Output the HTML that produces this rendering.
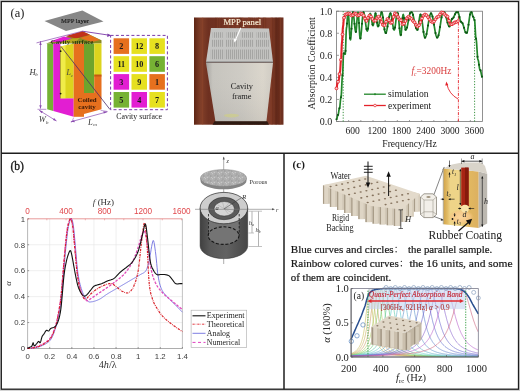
<!DOCTYPE html>
<html><head><meta charset="utf-8"><title>Figure</title>
<style>html,body{margin:0;padding:0;background:#fff;}body{width:520px;height:391px;overflow:hidden;}svg{display:block;}</style>
</head><body>
<svg width="520" height="391" viewBox="0 0 520 391"><rect x="0" y="0" width="520" height="391" fill="#d4d4d4"/>
<rect x="1.3" y="1.5" width="517.2" height="387.7" fill="#fff" stroke="#1e1e1e" stroke-width="1.3"/>
<line x1="1.3" y1="153.3" x2="518.5" y2="153.3" stroke="#1e1e1e" stroke-width="1.4" />
<line x1="284" y1="153.3" x2="284" y2="389.2" stroke="#1e1e1e" stroke-width="1.5" />
<text x="10.6" y="16.6" font-size="12.4" fill="#1a1a1a" text-anchor="start" font-family="'Liberation Serif','Noto Serif CJK SC',serif" >(a)</text>
<polygon points="44.50,20.90 82.40,10.40 103.50,21.60 66.00,31.10" fill="#878787" stroke="none" stroke-width="0" />
<text x="75" y="23" font-size="6.6" fill="#1a1a1a" text-anchor="middle" font-family="'Liberation Serif','Noto Serif CJK SC',serif" stroke="#1a1a1a" stroke-width="0.15">MPP layer</text>
<polygon points="46.00,43.50 82.40,31.20 101.50,40.20 101.50,43.50" fill="#8a8a22" stroke="none" stroke-width="0" />
<polygon points="50.00,41.50 64.00,36.60 72.00,38.50 60.00,42.50" fill="#e21ed2" stroke="none" stroke-width="0" />
<polygon points="66.00,36.00 82.40,31.20 90.00,34.80 76.00,38.50" fill="#c2301a" stroke="none" stroke-width="0" />
<polygon points="80.00,38.00 90.00,35.00 100.00,40.00 92.00,42.00" fill="#e6701e" stroke="none" stroke-width="0" />
<polygon points="60.00,42.50 72.00,38.50 80.00,38.00 74.00,43.00" fill="#b8a820" stroke="none" stroke-width="0" />
<polygon points="47.20,43.50 53.30,43.50 53.30,111.00 47.20,109.30" fill="#76b234" stroke="none" stroke-width="0" />
<polygon points="53.30,43.50 60.40,43.50 60.40,98.30 73.70,98.30 73.70,116.80 53.30,111.00" fill="#e21ed2" stroke="none" stroke-width="0" />
<polygon points="60.40,46.50 73.70,43.50 73.70,98.30 60.40,98.30" fill="#dcd41e" stroke="none" stroke-width="0" />
<polygon points="60.40,46.50 65.50,45.40 65.50,98.30 60.40,98.30" fill="#f0ec48" stroke="none" stroke-width="0" />
<polygon points="73.70,43.50 84.00,43.50 84.00,116.80 73.70,116.80" fill="#e6701e" stroke="none" stroke-width="0" />
<polygon points="84.00,43.50 94.20,43.50 94.20,93.00 84.00,93.00" fill="#6ea42c" stroke="none" stroke-width="0" />
<polygon points="94.20,43.50 101.50,43.50 101.50,75.50 94.20,75.50" fill="#dcd41e" stroke="none" stroke-width="0" />
<polygon points="84.00,93.00 94.20,93.00 94.20,75.50 101.50,75.50 101.50,109.30 84.00,114.00" fill="#e6701e" stroke="none" stroke-width="0" />
<polygon points="94.20,74.50 101.50,74.50 101.50,76.50 94.20,76.50" fill="#c45a10" stroke="none" stroke-width="0" />
<line x1="60.4" y1="46.5" x2="60.4" y2="98.3" stroke="#6a5a10" stroke-width="0.5" />
<text x="72" y="44.3" font-size="6.9" fill="#142a08" text-anchor="middle" font-family="'Liberation Serif','Noto Serif CJK SC',serif" font-weight="bold" opacity="0.85">Cavity surface</text>
<text x="87" y="102.4" font-size="6.9" fill="#3a1a08" text-anchor="middle" font-family="'Liberation Serif','Noto Serif CJK SC',serif" font-weight="bold">Coiled</text>
<text x="87" y="109.4" font-size="6.9" fill="#3a1a08" text-anchor="middle" font-family="'Liberation Serif','Noto Serif CJK SC',serif" font-weight="bold">cavity</text>
<circle cx="60.6" cy="51.2" r="0.9" fill="#111"/><circle cx="60.6" cy="93.6" r="0.9" fill="#111"/>
<text x="66.4" y="75.4" font-size="7.8" fill="#444" text-anchor="start" font-family="'Liberation Serif','Noto Serif CJK SC',serif" font-style="italic">L</text>
<text x="70.8" y="76.8" font-size="4.6" fill="#444" font-family="'Liberation Serif','Noto Serif CJK SC',serif" font-style="italic">c</text>
<line x1="82.4" y1="31.2" x2="110.5" y2="35.4" stroke="#7a3aa8" stroke-width="0.9" />
<polygon points="110.80,35.50 107.50,33.60 107.20,37.00" fill="#7a3aa8" stroke="none" stroke-width="0" />
<line x1="61" y1="46.5" x2="110" y2="109.5" stroke="#4a2a6a" stroke-width="0.8" />
<line x1="40.5" y1="41" x2="40.5" y2="108.5" stroke="#8a4ab0" stroke-width="0.7" />
<line x1="36.5" y1="42.9" x2="82.4" y2="31.2" stroke="#8a4ab0" stroke-width="0.7" />
<polygon points="40.50,41.50 39.30,45.00 41.70,45.00" fill="#8a4ab0" stroke="none" stroke-width="0" />
<polygon points="40.50,108.80 39.30,105.30 41.70,105.30" fill="#8a4ab0" stroke="none" stroke-width="0" />
<text x="29.4" y="74.6" font-size="8.5" fill="#333" text-anchor="start" font-family="'Liberation Serif','Noto Serif CJK SC',serif" font-style="italic">H</text>
<text x="35.3" y="76.2" font-size="5" fill="#333" font-family="'Liberation Serif','Noto Serif CJK SC',serif" font-style="italic">b</text>
<line x1="37.5" y1="109.3" x2="46.3" y2="109.3" stroke="#8a4ab0" stroke-width="0.6" />
<line x1="39.2" y1="110.3" x2="56.5" y2="121" stroke="#8a4ab0" stroke-width="0.7" />
<polygon points="39.20,110.30 42.80,111.20 41.60,113.20" fill="#8a4ab0" stroke="none" stroke-width="0" />
<polygon points="56.50,121.00 52.90,120.10 54.10,118.10" fill="#8a4ab0" stroke="none" stroke-width="0" />
<text x="38.8" y="122.3" font-size="8.5" fill="#333" text-anchor="start" font-family="'Liberation Serif','Noto Serif CJK SC',serif" font-style="italic">W</text>
<text x="46" y="123.8" font-size="5" fill="#333" font-family="'Liberation Serif','Noto Serif CJK SC',serif" font-style="italic">b</text>
<line x1="70.8" y1="121.8" x2="107.3" y2="111.8" stroke="#8a4ab0" stroke-width="0.7" />
<polygon points="70.80,121.80 74.20,120.10 74.80,122.30" fill="#8a4ab0" stroke="none" stroke-width="0" />
<polygon points="107.30,111.80 103.90,113.50 103.30,111.30" fill="#8a4ab0" stroke="none" stroke-width="0" />
<line x1="73.7" y1="117.6" x2="71.5" y2="122.5" stroke="#8a4ab0" stroke-width="0.5" />
<line x1="100.6" y1="110.3" x2="107.5" y2="111.5" stroke="#8a4ab0" stroke-width="0.5" />
<text x="88" y="124.8" font-size="8.5" fill="#333" text-anchor="start" font-family="'Liberation Serif','Noto Serif CJK SC',serif" font-style="italic">L</text>
<text x="93.2" y="126.3" font-size="5" fill="#333" font-family="'Liberation Serif','Noto Serif CJK SC',serif" font-style="italic">m</text>
<rect x="110.6" y="35.4" width="56.8" height="74.3" fill="none" stroke="#7a3aa8" stroke-width="1" stroke-dasharray="3,2.2"/>
<rect x="113.6" y="38.3" width="15.5" height="15.6" fill="#e6701e"/>
<text x="121.35" y="48.9" font-size="8.2" fill="#1a1a1a" text-anchor="middle" font-family="'Liberation Serif','Noto Serif CJK SC',serif" font-weight="bold">2</text>
<rect x="131.5" y="38.3" width="15.5" height="15.6" fill="#e6e020"/>
<text x="139.25" y="48.9" font-size="8.2" fill="#1a1a1a" text-anchor="middle" font-family="'Liberation Serif','Noto Serif CJK SC',serif" font-weight="bold">12</text>
<rect x="149.4" y="38.3" width="15.5" height="15.6" fill="#e6e020"/>
<text x="157.15" y="48.9" font-size="8.2" fill="#1a1a1a" text-anchor="middle" font-family="'Liberation Serif','Noto Serif CJK SC',serif" font-weight="bold">8</text>
<rect x="113.6" y="56.2" width="15.5" height="15.6" fill="#e6e020"/>
<text x="121.35" y="66.8" font-size="8.2" fill="#1a1a1a" text-anchor="middle" font-family="'Liberation Serif','Noto Serif CJK SC',serif" font-weight="bold">11</text>
<rect x="131.5" y="56.2" width="15.5" height="15.6" fill="#e6e020"/>
<text x="139.25" y="66.8" font-size="8.2" fill="#1a1a1a" text-anchor="middle" font-family="'Liberation Serif','Noto Serif CJK SC',serif" font-weight="bold">10</text>
<rect x="149.4" y="56.2" width="15.5" height="15.6" fill="#76b234"/>
<text x="157.15" y="66.8" font-size="8.2" fill="#1a1a1a" text-anchor="middle" font-family="'Liberation Serif','Noto Serif CJK SC',serif" font-weight="bold">6</text>
<rect x="113.6" y="74.1" width="15.5" height="15.6" fill="#e21ed2"/>
<text x="121.35" y="84.69999999999999" font-size="8.2" fill="#1a1a1a" text-anchor="middle" font-family="'Liberation Serif','Noto Serif CJK SC',serif" font-weight="bold">3</text>
<rect x="131.5" y="74.1" width="15.5" height="15.6" fill="#e6e020"/>
<text x="139.25" y="84.69999999999999" font-size="8.2" fill="#1a1a1a" text-anchor="middle" font-family="'Liberation Serif','Noto Serif CJK SC',serif" font-weight="bold">9</text>
<rect x="149.4" y="74.1" width="15.5" height="15.6" fill="#e6701e"/>
<text x="157.15" y="84.69999999999999" font-size="8.2" fill="#1a1a1a" text-anchor="middle" font-family="'Liberation Serif','Noto Serif CJK SC',serif" font-weight="bold">1</text>
<rect x="113.6" y="92.0" width="15.5" height="15.6" fill="#76b234"/>
<text x="121.35" y="102.6" font-size="8.2" fill="#1a1a1a" text-anchor="middle" font-family="'Liberation Serif','Noto Serif CJK SC',serif" font-weight="bold">5</text>
<rect x="131.5" y="92.0" width="15.5" height="15.6" fill="#e21ed2"/>
<text x="139.25" y="102.6" font-size="8.2" fill="#1a1a1a" text-anchor="middle" font-family="'Liberation Serif','Noto Serif CJK SC',serif" font-weight="bold">4</text>
<rect x="149.4" y="92.0" width="15.5" height="15.6" fill="#e6e020"/>
<text x="157.15" y="102.6" font-size="8.2" fill="#1a1a1a" text-anchor="middle" font-family="'Liberation Serif','Noto Serif CJK SC',serif" font-weight="bold">7</text>
<text x="139.1" y="119" font-size="7.9" fill="#1a1a1a" text-anchor="middle" font-family="'Liberation Serif','Noto Serif CJK SC',serif" >Cavity surface</text>
<defs>
<linearGradient id="wood" x1="0" y1="0" x2="1" y2="0">
<stop offset="0" stop-color="#5e2616"/><stop offset="0.08" stop-color="#82402a"/><stop offset="0.16" stop-color="#6e3020"/><stop offset="0.5" stop-color="#763626"/><stop offset="0.85" stop-color="#7e3c2a"/><stop offset="0.93" stop-color="#642a1c"/><stop offset="1" stop-color="#703424"/></linearGradient>
<linearGradient id="front" x1="0" y1="0" x2="1" y2="0">
<stop offset="0" stop-color="#a6a4a0"/><stop offset="0.1" stop-color="#c6c4be"/><stop offset="0.55" stop-color="#cfccc5"/><stop offset="0.85" stop-color="#dbd6cc"/><stop offset="1" stop-color="#cfcbc3"/></linearGradient>
<linearGradient id="frontv" x1="0" y1="0" x2="0" y2="1">
<stop offset="0" stop-color="#fff" stop-opacity="0"/><stop offset="1" stop-color="#000" stop-opacity="0.06"/></linearGradient>
<pattern id="perf" x="0" y="0" width="2" height="20" patternUnits="userSpaceOnUse"><rect width="2" height="20" fill="#c2c2c0"/><rect x="0" y="0" width="1" height="20" fill="#a2a2a0"/></pattern>
</defs>
<rect x="194" y="17.5" width="89.5" height="107.2" fill="url(#wood)"/>
<rect x="215.3" y="17.5" width="1.1" height="107.2" fill="#6a2a18" opacity="0.35"/>
<rect x="276.0" y="17.5" width="1.0" height="107.2" fill="#5e2414" opacity="0.35"/>
<rect x="248.2" y="17.5" width="1.5" height="107.2" fill="#944a2c" opacity="0.35"/>
<rect x="217.2" y="17.5" width="0.7" height="107.2" fill="#944a2c" opacity="0.35"/>
<rect x="242.4" y="17.5" width="1.1" height="107.2" fill="#944a2c" opacity="0.35"/>
<rect x="251.2" y="17.5" width="0.6" height="107.2" fill="#8e4428" opacity="0.35"/>
<rect x="271.7" y="17.5" width="1.0" height="107.2" fill="#5e2414" opacity="0.35"/>
<rect x="254.1" y="17.5" width="0.5" height="107.2" fill="#5e2414" opacity="0.35"/>
<rect x="221.0" y="17.5" width="0.4" height="107.2" fill="#6a2a18" opacity="0.35"/>
<rect x="236.3" y="17.5" width="1.3" height="107.2" fill="#944a2c" opacity="0.35"/>
<rect x="257.9" y="17.5" width="1.5" height="107.2" fill="#944a2c" opacity="0.35"/>
<rect x="259.2" y="17.5" width="1.1" height="107.2" fill="#8e4428" opacity="0.35"/>
<rect x="272.7" y="17.5" width="0.5" height="107.2" fill="#8e4428" opacity="0.35"/>
<rect x="238.3" y="17.5" width="0.7" height="107.2" fill="#944a2c" opacity="0.35"/>
<rect x="263.7" y="17.5" width="1.4" height="107.2" fill="#944a2c" opacity="0.35"/>
<rect x="239.4" y="17.5" width="0.9" height="107.2" fill="#6a2a18" opacity="0.35"/>
<rect x="241.8" y="17.5" width="0.9" height="107.2" fill="#8e4428" opacity="0.35"/>
<rect x="274.9" y="17.5" width="1.2" height="107.2" fill="#5e2414" opacity="0.35"/>
<rect x="270.6" y="17.5" width="1.6" height="107.2" fill="#8e4428" opacity="0.35"/>
<rect x="256.5" y="17.5" width="0.8" height="107.2" fill="#5e2414" opacity="0.35"/>
<rect x="257.9" y="17.5" width="0.7" height="107.2" fill="#6a2a18" opacity="0.35"/>
<rect x="219.5" y="17.5" width="0.5" height="107.2" fill="#944a2c" opacity="0.35"/>
<rect x="201.9" y="17.5" width="1.4" height="107.2" fill="#944a2c" opacity="0.35"/>
<rect x="274.3" y="17.5" width="0.4" height="107.2" fill="#944a2c" opacity="0.35"/>
<rect x="262.8" y="17.5" width="1.4" height="107.2" fill="#5e2414" opacity="0.35"/>
<rect x="248.1" y="17.5" width="1.3" height="107.2" fill="#944a2c" opacity="0.35"/>
<rect x="258.3" y="17.5" width="0.8" height="107.2" fill="#6a2a18" opacity="0.35"/>
<rect x="239.2" y="17.5" width="1.6" height="107.2" fill="#6a2a18" opacity="0.35"/>
<rect x="194.6" y="17.5" width="0.5" height="107.2" fill="#5e2414" opacity="0.35"/>
<rect x="278.9" y="17.5" width="1.6" height="107.2" fill="#6a2a18" opacity="0.35"/>
<rect x="248.6" y="17.5" width="0.6" height="107.2" fill="#5e2414" opacity="0.35"/>
<rect x="281.7" y="17.5" width="0.8" height="107.2" fill="#6a2a18" opacity="0.35"/>
<rect x="279.8" y="17.5" width="1.5" height="107.2" fill="#944a2c" opacity="0.35"/>
<rect x="227.7" y="17.5" width="1.4" height="107.2" fill="#944a2c" opacity="0.35"/>
<rect x="251.6" y="17.5" width="1.1" height="107.2" fill="#5e2414" opacity="0.35"/>
<rect x="249.5" y="17.5" width="1.5" height="107.2" fill="#6a2a18" opacity="0.35"/>
<rect x="232.6" y="17.5" width="1.3" height="107.2" fill="#8e4428" opacity="0.35"/>
<rect x="277.8" y="17.5" width="0.9" height="107.2" fill="#6a2a18" opacity="0.35"/>
<rect x="240.6" y="17.5" width="1.1" height="107.2" fill="#5e2414" opacity="0.35"/>
<rect x="264.6" y="17.5" width="1.6" height="107.2" fill="#6a2a18" opacity="0.35"/>
<polygon points="211.00,28.00 269.00,28.40 273.00,62.00 206.00,62.00" fill="#c4c4c2" stroke="none" stroke-width="0" />
<rect x="212.6" y="32.2" width="10.1" height="5.6" fill="url(#perf)" opacity="0.9"/>
<rect x="226.6" y="32.2" width="11.1" height="5.6" fill="url(#perf)" opacity="0.9"/>
<rect x="241.1" y="32.2" width="12.1" height="5.6" fill="url(#perf)" opacity="0.9"/>
<rect x="256.6" y="32.2" width="11.6" height="5.6" fill="url(#perf)" opacity="0.9"/>
<rect x="211.8" y="39.8" width="11.5" height="7.0" fill="url(#perf)" opacity="0.9"/>
<rect x="225.8" y="39.8" width="12.5" height="7.0" fill="url(#perf)" opacity="0.9"/>
<rect x="240.3" y="39.8" width="13.5" height="7.0" fill="url(#perf)" opacity="0.9"/>
<rect x="255.8" y="39.8" width="13.0" height="7.0" fill="url(#perf)" opacity="0.9"/>
<rect x="210.8" y="49.5" width="13.2" height="9.7" fill="url(#perf)" opacity="0.9"/>
<rect x="224.8" y="49.5" width="14.2" height="9.7" fill="url(#perf)" opacity="0.9"/>
<rect x="239.3" y="49.5" width="15.2" height="9.7" fill="url(#perf)" opacity="0.9"/>
<rect x="254.8" y="49.5" width="14.7" height="9.7" fill="url(#perf)" opacity="0.9"/>
<rect x="206" y="61.5" width="67" height="1.3" fill="#7e7e7e"/>
<polygon points="206.00,63.00 273.00,63.00 266.40,121.80 215.50,121.80" fill="url(#front)" stroke="none" stroke-width="0" />
<polygon points="206.00,63.00 273.00,63.00 266.40,121.80 215.50,121.80" fill="url(#frontv)" stroke="none" stroke-width="0" />
<polygon points="214.50,121.20 267.20,121.20 269.00,124.70 212.50,124.70" fill="#2e1a12" stroke="none" stroke-width="0" />
<ellipse cx="231.5" cy="115.6" rx="7.5" ry="1.8" fill="#d2d27a" opacity="0.55"/>
<text x="242.3" y="24.9" font-size="8.6" fill="#f6ead2" text-anchor="middle" font-family="'Liberation Serif','Noto Serif CJK SC',serif" stroke="#f6ead2" stroke-width="0.2">MPP panel</text>
<line x1="240.8" y1="27.8" x2="235.2" y2="40.5" stroke="#ffffff" stroke-width="1.1" />
<polygon points="234.50,42.50 233.60,38.60 237.00,39.60" fill="#ffffff" stroke="none" stroke-width="0" />
<text x="241.8" y="89" font-size="8.4" fill="#222" text-anchor="middle" font-family="'Liberation Serif','Noto Serif CJK SC',serif" >Cavity</text>
<text x="241.8" y="98.8" font-size="8.4" fill="#222" text-anchor="middle" font-family="'Liberation Serif','Noto Serif CJK SC',serif" >frame</text>
<rect x="336.5" y="11.2" width="146.0" height="110.3" fill="none" stroke="#777" stroke-width="0.8"/>
<line x1="336.5" y1="121.5" x2="339.0" y2="121.5" stroke="#777" stroke-width="0.7" />
<text x="332.3" y="124.9" font-size="10" fill="#222" text-anchor="end" font-family="'Liberation Serif','Noto Serif CJK SC',serif" >0.0</text>
<line x1="336.5" y1="99.44" x2="339.0" y2="99.44" stroke="#777" stroke-width="0.7" />
<text x="332.3" y="102.84" font-size="10" fill="#222" text-anchor="end" font-family="'Liberation Serif','Noto Serif CJK SC',serif" >0.2</text>
<line x1="336.5" y1="77.38" x2="339.0" y2="77.38" stroke="#777" stroke-width="0.7" />
<text x="332.3" y="80.78" font-size="10" fill="#222" text-anchor="end" font-family="'Liberation Serif','Noto Serif CJK SC',serif" >0.4</text>
<line x1="336.5" y1="55.32000000000001" x2="339.0" y2="55.32000000000001" stroke="#777" stroke-width="0.7" />
<text x="332.3" y="58.720000000000006" font-size="10" fill="#222" text-anchor="end" font-family="'Liberation Serif','Noto Serif CJK SC',serif" >0.6</text>
<line x1="336.5" y1="33.25999999999999" x2="339.0" y2="33.25999999999999" stroke="#777" stroke-width="0.7" />
<text x="332.3" y="36.65999999999999" font-size="10" fill="#222" text-anchor="end" font-family="'Liberation Serif','Noto Serif CJK SC',serif" >0.8</text>
<line x1="336.5" y1="11.200000000000003" x2="339.0" y2="11.200000000000003" stroke="#777" stroke-width="0.7" />
<text x="332.3" y="14.600000000000003" font-size="10" fill="#222" text-anchor="end" font-family="'Liberation Serif','Noto Serif CJK SC',serif" >1.0</text>
<line x1="348.6666666666667" y1="121.5" x2="348.6666666666667" y2="120.0" stroke="#777" stroke-width="0.7" />
<line x1="360.8333333333333" y1="121.5" x2="360.8333333333333" y2="120.0" stroke="#777" stroke-width="0.7" />
<line x1="373.0" y1="121.5" x2="373.0" y2="120.0" stroke="#777" stroke-width="0.7" />
<line x1="385.1666666666667" y1="121.5" x2="385.1666666666667" y2="120.0" stroke="#777" stroke-width="0.7" />
<line x1="397.3333333333333" y1="121.5" x2="397.3333333333333" y2="120.0" stroke="#777" stroke-width="0.7" />
<line x1="409.5" y1="121.5" x2="409.5" y2="120.0" stroke="#777" stroke-width="0.7" />
<line x1="421.6666666666667" y1="121.5" x2="421.6666666666667" y2="120.0" stroke="#777" stroke-width="0.7" />
<line x1="433.8333333333333" y1="121.5" x2="433.8333333333333" y2="120.0" stroke="#777" stroke-width="0.7" />
<line x1="446.0" y1="121.5" x2="446.0" y2="120.0" stroke="#777" stroke-width="0.7" />
<line x1="458.1666666666667" y1="121.5" x2="458.1666666666667" y2="120.0" stroke="#777" stroke-width="0.7" />
<line x1="470.33333333333337" y1="121.5" x2="470.33333333333337" y2="120.0" stroke="#777" stroke-width="0.7" />
<text x="352.72222222222223" y="134.4" font-size="9.6" fill="#222" text-anchor="middle" font-family="'Liberation Serif','Noto Serif CJK SC',serif" >600</text>
<text x="377.05555555555554" y="134.4" font-size="9.6" fill="#222" text-anchor="middle" font-family="'Liberation Serif','Noto Serif CJK SC',serif" >1200</text>
<text x="401.3888888888889" y="134.4" font-size="9.6" fill="#222" text-anchor="middle" font-family="'Liberation Serif','Noto Serif CJK SC',serif" >1800</text>
<text x="425.72222222222223" y="134.4" font-size="9.6" fill="#222" text-anchor="middle" font-family="'Liberation Serif','Noto Serif CJK SC',serif" >2400</text>
<text x="450.05555555555554" y="134.4" font-size="9.6" fill="#222" text-anchor="middle" font-family="'Liberation Serif','Noto Serif CJK SC',serif" >3000</text>
<text x="474.3888888888889" y="134.4" font-size="9.6" fill="#222" text-anchor="middle" font-family="'Liberation Serif','Noto Serif CJK SC',serif" >3600</text>
<text x="409.5" y="147.3" font-size="9.6" fill="#222" text-anchor="middle" font-family="'Liberation Serif','Noto Serif CJK SC',serif" >Frequency/Hz</text>
<text transform="translate(314.6,63.3) rotate(-90)" font-size="10" fill="#222" text-anchor="middle" font-family="'Liberation Serif','Noto Serif CJK SC',serif">Absorption Coefficient</text>
<line x1="343.2" y1="121.5" x2="343.2" y2="11.2" stroke="#22862a" stroke-width="0.9" stroke-dasharray="1.2,1.6"/>
<line x1="474.6" y1="121.5" x2="474.6" y2="17.2" stroke="#22862a" stroke-width="0.9" stroke-dasharray="1.2,1.6"/>
<line x1="458.4" y1="121.5" x2="458.4" y2="11.7" stroke="#e4222a" stroke-width="0.9" stroke-dasharray="3,1.3,0.8,1.3"/>
<polyline points="336.50,119.29 336.75,119.00 337.00,118.19 337.25,117.09 337.50,115.98 337.75,115.18 338.00,114.88 338.25,114.44 338.50,113.23 338.75,111.57 339.00,109.92 339.25,108.71 339.50,108.26 339.75,107.53 340.00,105.51 340.25,102.75 340.50,99.99 340.75,97.97 341.00,97.23 341.25,95.76 341.50,91.72 341.75,86.20 342.00,80.69 342.25,76.65 342.50,75.17 342.75,72.48 343.00,65.71 343.25,58.18 343.50,53.56 343.75,53.14 344.00,53.28 344.25,53.51 344.50,53.77 344.75,54.02 345.00,54.18 345.25,54.12 345.50,50.89 345.75,44.15 346.00,36.29 346.25,30.09 346.50,27.75 346.75,26.64 347.00,23.61 347.25,19.47 347.50,15.34 347.75,12.31 348.00,12.30 348.25,12.30 348.50,14.16 348.75,17.57 349.00,21.83 349.25,26.48 349.50,31.03 349.75,34.99 350.00,37.96 350.25,39.60 350.50,39.77 350.75,38.57 351.00,36.14 351.25,32.73 351.50,28.67 351.75,24.36 352.00,20.22 352.25,16.65 352.50,14.01 352.75,12.55 353.00,12.36 353.25,13.01 353.50,14.33 353.75,16.22 354.00,18.56 354.25,21.16 354.50,23.84 354.75,26.40 355.00,28.66 355.25,30.45 355.50,31.64 355.75,32.14 356.00,31.73 356.25,30.07 356.50,27.34 356.75,23.91 357.00,20.19 357.25,16.66 357.50,13.76 357.75,12.30 358.00,12.30 358.25,12.30 358.50,14.57 358.75,18.38 359.00,23.03 359.25,27.92 359.50,32.44 359.75,36.02 360.00,38.22 360.25,38.76 360.50,38.24 360.75,37.00 361.00,35.12 361.25,32.69 361.50,29.87 361.75,26.80 362.00,23.66 362.25,20.62 362.50,17.86 362.75,15.54 363.00,13.77 363.25,12.68 363.50,12.30 363.75,12.50 364.00,13.09 364.25,14.05 364.50,15.33 364.75,16.88 365.00,18.63 365.25,20.52 365.50,22.45 365.75,24.35 366.00,26.14 366.25,27.74 366.50,29.08 366.75,30.10 367.00,30.77 367.25,31.05 367.50,30.85 367.75,30.03 368.00,28.64 368.25,26.78 368.50,24.59 368.75,22.23 369.00,19.87 369.25,17.68 369.50,15.82 369.75,14.43 370.00,13.61 370.25,13.42 370.50,13.75 370.75,14.52 371.00,15.69 371.25,17.15 371.50,18.79 371.75,20.49 372.00,22.10 372.25,23.51 372.50,24.61 372.75,25.30 373.00,25.54 373.25,25.24 373.50,24.38 373.75,23.04 374.00,21.35 374.25,19.47 374.50,17.60 374.75,15.91 375.00,14.56 375.25,13.70 375.50,13.41 375.75,13.76 376.00,14.77 376.25,16.35 376.50,18.31 376.75,20.46 377.00,22.56 377.25,24.39 377.50,25.76 377.75,26.51 378.00,26.62 378.25,26.34 378.50,25.78 378.75,24.94 379.00,23.88 379.25,22.62 379.50,21.23 379.75,19.77 380.00,18.29 380.25,16.87 380.50,15.55 380.75,14.40 381.00,13.47 381.25,12.79 381.50,12.40 381.75,12.31 382.00,12.61 382.25,13.31 382.50,14.40 382.75,15.83 383.00,17.54 383.25,19.46 383.50,21.52 383.75,23.62 384.00,25.70 384.25,27.65 384.50,29.41 384.75,30.90 385.00,32.06 385.25,32.85 385.50,33.23 385.75,33.21 386.00,32.92 386.25,32.38 386.50,31.59 386.75,30.58 387.00,29.38 387.25,28.01 387.50,26.52 387.75,24.95 388.00,23.33 388.25,21.72 388.50,20.14 388.75,18.65 389.00,17.29 389.25,16.09 389.50,15.08 389.75,14.29 390.00,13.74 390.25,13.45 390.50,13.43 390.75,13.75 391.00,14.40 391.25,15.37 391.50,16.60 391.75,18.05 392.00,19.65 392.25,21.34 392.50,23.04 392.75,24.69 393.00,26.20 393.25,27.53 393.50,28.60 393.75,29.39 394.00,29.84 394.25,29.94 394.50,29.59 394.75,28.77 395.00,27.51 395.25,25.90 395.50,24.01 395.75,21.97 396.00,19.87 396.25,17.85 396.50,16.01 396.75,14.46 397.00,13.28 397.25,12.55 397.50,12.30 397.75,12.65 398.00,13.67 398.25,15.30 398.50,17.45 398.75,19.98 399.00,22.75 399.25,25.58 399.50,28.32 399.75,30.78 400.00,32.84 400.25,34.35 400.50,35.24 400.75,35.45 401.00,34.73 401.25,33.06 401.50,30.60 401.75,27.59 402.00,24.33 402.25,21.13 402.50,18.31 402.75,16.14 403.00,14.84 403.25,14.52 403.50,15.05 403.75,16.28 404.00,18.09 404.25,20.31 404.50,22.71 404.75,25.07 405.00,27.15 405.25,28.75 405.50,29.71 405.75,29.95 406.00,29.81 406.25,29.49 406.50,28.99 406.75,28.31 407.00,27.48 407.25,26.51 407.50,25.42 407.75,24.23 408.00,22.96 408.25,21.64 408.50,20.31 408.75,18.98 409.00,17.68 409.25,16.44 409.50,15.28 409.75,14.24 410.00,13.32 410.25,12.55 410.50,12.30 410.75,12.30 411.00,12.30 411.25,12.30 411.50,12.30 411.75,12.30 412.00,12.30 412.25,12.54 412.50,13.22 412.75,14.03 413.00,14.95 413.25,15.96 413.50,17.04 413.75,18.19 414.00,19.37 414.25,20.58 414.50,21.78 414.75,22.96 415.00,24.11 415.25,25.19 415.50,26.20 415.75,27.12 416.00,27.93 416.25,28.61 416.50,29.17 416.75,29.58 417.00,29.84 417.25,29.95 417.50,29.80 417.75,29.21 418.00,28.20 418.25,26.83 418.50,25.18 418.75,23.36 419.00,21.47 419.25,19.63 419.50,17.94 419.75,16.51 420.00,15.42 420.25,14.74 420.50,14.51 420.75,14.68 421.00,15.21 421.25,16.06 421.50,17.22 421.75,18.65 422.00,20.30 422.25,22.13 422.50,24.08 422.75,26.09 423.00,28.10 423.25,30.05 423.50,31.88 423.75,33.53 424.00,34.96 424.25,36.12 424.50,36.97 424.75,37.50 425.00,37.67 425.25,37.57 425.50,37.26 425.75,36.75 426.00,36.05 426.25,35.16 426.50,34.12 426.75,32.93 427.00,31.61 427.25,30.18 427.50,28.68 427.75,27.12 428.00,25.54 428.25,23.96 428.50,22.40 428.75,20.90 429.00,19.47 429.25,18.15 429.50,16.96 429.75,15.91 430.00,15.03 430.25,14.33 430.50,13.82 430.75,13.51 431.00,13.41 431.25,13.50 431.50,13.78 431.75,14.24 432.00,14.88 432.25,15.69 432.50,16.64 432.75,17.74 433.00,18.96 433.25,20.27 433.50,21.67 433.75,23.13 434.00,24.63 434.25,26.14 434.50,27.65 434.75,29.12 435.00,30.53 435.25,31.87 435.50,33.10 435.75,34.22 436.00,35.21 436.25,36.05 436.50,36.72 436.75,37.22 437.00,37.54 437.25,37.67 437.50,37.60 437.75,37.33 438.00,36.85 438.25,36.17 438.50,35.30 438.75,34.26 439.00,33.06 439.25,31.72 439.50,30.27 439.75,28.72 440.00,27.10 440.25,25.44 440.50,23.77 440.75,22.10 441.00,20.47 441.25,18.91 441.50,17.43 441.75,16.07 442.00,14.84 442.25,13.77 442.50,12.86 442.75,12.30 443.00,12.30 443.25,12.30 443.50,12.30 443.75,12.30 444.00,12.30 444.25,12.30 444.50,12.30 444.75,12.75 445.00,13.39 445.25,14.13 445.50,14.95 445.75,15.83 446.00,16.76 446.25,17.73 446.50,18.72 446.75,19.71 447.00,20.69 447.25,21.64 447.50,22.55 447.75,23.39 448.00,24.17 448.25,24.85 448.50,25.44 448.75,25.91 449.00,26.28 449.25,26.52 449.50,26.63 449.75,26.57 450.00,26.12 450.25,25.33 450.50,24.26 450.75,23.03 451.00,21.78 451.25,20.64 451.50,19.72 451.75,19.13 452.00,18.92 452.25,18.88 452.50,18.75 452.75,18.55 453.00,18.26 453.25,17.91 453.50,17.49 453.75,17.02 454.00,16.51 454.25,15.97 454.50,15.40 454.75,14.83 455.00,14.27 455.25,13.72 455.50,13.20 455.75,12.72 456.00,12.30 456.25,12.30 456.50,12.30 456.75,12.30 457.00,12.30 457.25,12.30 457.50,12.30 457.75,12.30 458.00,12.30 458.25,12.53 458.50,13.28 458.75,14.14 459.00,15.09 459.25,16.10 459.50,17.13 459.75,18.14 460.00,19.11 460.25,19.99 460.50,20.76 460.75,21.38 461.00,21.85 461.25,22.13 461.50,22.23 461.75,22.30 462.00,22.50 462.25,22.83 462.50,23.28 462.75,23.85 463.00,24.50 463.25,25.24 463.50,26.04 463.75,26.88 464.00,27.74 464.25,28.61 464.50,29.45 464.75,30.25 465.00,30.99 465.25,31.64 465.50,32.21 465.75,32.66 466.00,32.99 466.25,33.19 466.50,33.26 466.75,33.11 467.00,32.65 467.25,31.90 467.50,30.89 467.75,29.63 468.00,28.17 468.25,26.54 468.50,24.79 468.75,22.97 469.00,21.13 469.25,19.32 469.50,17.59 469.75,15.99 470.00,14.56 470.25,13.35 470.50,12.39 470.75,12.30 471.00,12.30 471.25,12.30 471.50,12.30 471.75,12.30 472.00,13.11 472.25,14.17 472.50,15.21 472.75,16.05 473.00,16.58 473.25,16.73 473.50,17.13 473.75,17.97 474.00,18.96 474.25,19.73 474.50,20.02 474.75,21.28 475.00,24.71 475.25,29.40 475.50,34.09 475.75,37.52 476.00,38.78 476.25,39.57 476.50,41.84 476.75,45.24 477.00,49.25 477.25,53.26 477.50,56.66 477.75,58.93 478.00,59.73 478.25,60.11 478.50,61.19 478.75,62.80 479.00,64.70 479.25,66.59 479.50,68.21 479.75,69.28 480.00,69.66 480.25,69.85 480.50,70.40 480.75,71.25 481.00,72.33 481.25,73.52 481.50,74.71 481.75,75.79 482.00,76.64 482.25,77.19 482.50,77.38" fill="none" stroke="#22862a" stroke-width="1.7" stroke-linejoin="round"/>
<circle cx="336.5" cy="119.3" r="1.05" fill="#0e5616"/>
<circle cx="338.0" cy="114.9" r="1.05" fill="#0e5616"/>
<circle cx="339.5" cy="108.3" r="1.05" fill="#0e5616"/>
<circle cx="341.0" cy="97.2" r="1.05" fill="#0e5616"/>
<circle cx="342.5" cy="75.2" r="1.05" fill="#0e5616"/>
<circle cx="344.0" cy="53.3" r="1.05" fill="#0e5616"/>
<circle cx="345.5" cy="50.9" r="1.05" fill="#0e5616"/>
<circle cx="347.0" cy="23.6" r="1.05" fill="#0e5616"/>
<circle cx="348.5" cy="14.2" r="1.05" fill="#0e5616"/>
<circle cx="350.0" cy="38.0" r="1.05" fill="#0e5616"/>
<circle cx="351.5" cy="28.7" r="1.05" fill="#0e5616"/>
<circle cx="353.0" cy="12.4" r="1.05" fill="#0e5616"/>
<circle cx="354.5" cy="23.8" r="1.05" fill="#0e5616"/>
<circle cx="356.0" cy="31.7" r="1.05" fill="#0e5616"/>
<circle cx="357.5" cy="13.8" r="1.05" fill="#0e5616"/>
<circle cx="359.0" cy="23.0" r="1.05" fill="#0e5616"/>
<circle cx="360.5" cy="38.2" r="1.05" fill="#0e5616"/>
<circle cx="362.0" cy="23.7" r="1.05" fill="#0e5616"/>
<circle cx="363.5" cy="12.3" r="1.05" fill="#0e5616"/>
<circle cx="365.0" cy="18.6" r="1.05" fill="#0e5616"/>
<circle cx="366.5" cy="29.1" r="1.05" fill="#0e5616"/>
<circle cx="368.0" cy="28.6" r="1.05" fill="#0e5616"/>
<circle cx="369.5" cy="15.8" r="1.05" fill="#0e5616"/>
<circle cx="371.0" cy="15.7" r="1.05" fill="#0e5616"/>
<circle cx="372.5" cy="24.6" r="1.05" fill="#0e5616"/>
<circle cx="374.0" cy="21.3" r="1.05" fill="#0e5616"/>
<circle cx="375.5" cy="13.4" r="1.05" fill="#0e5616"/>
<circle cx="377.0" cy="22.6" r="1.05" fill="#0e5616"/>
<circle cx="378.5" cy="25.8" r="1.05" fill="#0e5616"/>
<circle cx="380.0" cy="18.3" r="1.05" fill="#0e5616"/>
<circle cx="381.5" cy="12.4" r="1.05" fill="#0e5616"/>
<circle cx="383.0" cy="17.5" r="1.05" fill="#0e5616"/>
<circle cx="384.5" cy="29.4" r="1.05" fill="#0e5616"/>
<circle cx="386.0" cy="32.9" r="1.05" fill="#0e5616"/>
<circle cx="387.5" cy="26.5" r="1.05" fill="#0e5616"/>
<circle cx="389.0" cy="17.3" r="1.05" fill="#0e5616"/>
<circle cx="390.5" cy="13.4" r="1.05" fill="#0e5616"/>
<circle cx="392.0" cy="19.6" r="1.05" fill="#0e5616"/>
<circle cx="393.5" cy="28.6" r="1.05" fill="#0e5616"/>
<circle cx="395.0" cy="27.5" r="1.05" fill="#0e5616"/>
<circle cx="396.5" cy="16.0" r="1.05" fill="#0e5616"/>
<circle cx="398.0" cy="13.7" r="1.05" fill="#0e5616"/>
<circle cx="399.5" cy="28.3" r="1.05" fill="#0e5616"/>
<circle cx="401.0" cy="34.7" r="1.05" fill="#0e5616"/>
<circle cx="402.5" cy="18.3" r="1.05" fill="#0e5616"/>
<circle cx="404.0" cy="18.1" r="1.05" fill="#0e5616"/>
<circle cx="405.5" cy="29.7" r="1.05" fill="#0e5616"/>
<circle cx="407.0" cy="27.5" r="1.05" fill="#0e5616"/>
<circle cx="408.5" cy="20.3" r="1.05" fill="#0e5616"/>
<circle cx="410.0" cy="13.3" r="1.05" fill="#0e5616"/>
<circle cx="411.5" cy="12.3" r="1.05" fill="#0e5616"/>
<circle cx="413.0" cy="14.9" r="1.05" fill="#0e5616"/>
<circle cx="414.5" cy="21.8" r="1.05" fill="#0e5616"/>
<circle cx="416.0" cy="27.9" r="1.05" fill="#0e5616"/>
<circle cx="417.5" cy="29.8" r="1.05" fill="#0e5616"/>
<circle cx="419.0" cy="21.5" r="1.05" fill="#0e5616"/>
<circle cx="420.5" cy="14.5" r="1.05" fill="#0e5616"/>
<circle cx="422.0" cy="20.3" r="1.05" fill="#0e5616"/>
<circle cx="423.5" cy="31.9" r="1.05" fill="#0e5616"/>
<circle cx="425.0" cy="37.7" r="1.05" fill="#0e5616"/>
<circle cx="426.5" cy="34.1" r="1.05" fill="#0e5616"/>
<circle cx="428.0" cy="25.5" r="1.05" fill="#0e5616"/>
<circle cx="429.5" cy="17.0" r="1.05" fill="#0e5616"/>
<circle cx="431.0" cy="13.4" r="1.05" fill="#0e5616"/>
<circle cx="432.5" cy="16.6" r="1.05" fill="#0e5616"/>
<circle cx="434.0" cy="24.6" r="1.05" fill="#0e5616"/>
<circle cx="435.5" cy="33.1" r="1.05" fill="#0e5616"/>
<circle cx="437.0" cy="37.5" r="1.05" fill="#0e5616"/>
<circle cx="438.5" cy="35.3" r="1.05" fill="#0e5616"/>
<circle cx="440.0" cy="27.1" r="1.05" fill="#0e5616"/>
<circle cx="441.5" cy="17.4" r="1.05" fill="#0e5616"/>
<circle cx="443.0" cy="12.3" r="1.05" fill="#0e5616"/>
<circle cx="444.5" cy="12.3" r="1.05" fill="#0e5616"/>
<circle cx="446.0" cy="16.8" r="1.05" fill="#0e5616"/>
<circle cx="447.5" cy="22.5" r="1.05" fill="#0e5616"/>
<circle cx="449.0" cy="26.3" r="1.05" fill="#0e5616"/>
<circle cx="450.5" cy="24.3" r="1.05" fill="#0e5616"/>
<circle cx="452.0" cy="18.9" r="1.05" fill="#0e5616"/>
<circle cx="453.5" cy="17.5" r="1.05" fill="#0e5616"/>
<circle cx="455.0" cy="14.3" r="1.05" fill="#0e5616"/>
<circle cx="456.5" cy="12.3" r="1.05" fill="#0e5616"/>
<circle cx="458.0" cy="12.3" r="1.05" fill="#0e5616"/>
<circle cx="459.5" cy="17.1" r="1.05" fill="#0e5616"/>
<circle cx="461.0" cy="21.8" r="1.05" fill="#0e5616"/>
<circle cx="462.5" cy="23.3" r="1.05" fill="#0e5616"/>
<circle cx="464.0" cy="27.7" r="1.05" fill="#0e5616"/>
<circle cx="465.5" cy="32.2" r="1.05" fill="#0e5616"/>
<circle cx="467.0" cy="32.6" r="1.05" fill="#0e5616"/>
<circle cx="468.5" cy="24.8" r="1.05" fill="#0e5616"/>
<circle cx="470.0" cy="14.6" r="1.05" fill="#0e5616"/>
<circle cx="471.5" cy="12.3" r="1.05" fill="#0e5616"/>
<circle cx="473.0" cy="16.6" r="1.05" fill="#0e5616"/>
<circle cx="474.5" cy="20.0" r="1.05" fill="#0e5616"/>
<circle cx="476.0" cy="38.8" r="1.05" fill="#0e5616"/>
<circle cx="477.5" cy="56.7" r="1.05" fill="#0e5616"/>
<circle cx="479.0" cy="64.7" r="1.05" fill="#0e5616"/>
<circle cx="480.5" cy="70.4" r="1.05" fill="#0e5616"/>
<circle cx="482.0" cy="76.6" r="1.05" fill="#0e5616"/>
<polyline points="336.50,88.41 336.75,87.60 337.00,85.65 337.25,83.70 337.50,82.90 337.75,82.57 338.00,81.79 338.25,81.01 338.50,80.69 338.75,80.10 339.00,78.48 339.25,76.28 339.50,74.07 339.75,72.46 340.00,71.87 340.25,70.09 340.50,65.80 340.75,61.51 341.00,59.73 341.25,57.15 341.50,50.91 341.75,44.67 342.00,42.08 342.25,39.82 342.50,34.36 342.75,28.90 343.00,26.64 343.25,25.35 343.50,22.23 343.75,19.11 344.00,17.82 344.25,17.60 344.50,16.99 344.75,16.16 345.00,15.34 345.25,14.73 345.50,14.51 345.75,14.50 346.00,14.45 346.25,14.39 346.50,14.30 346.75,14.20 347.00,14.08 347.25,13.96 347.50,13.83 347.75,13.72 348.00,13.61 348.25,13.53 348.50,13.46 348.75,13.42 349.00,13.41 349.25,13.44 349.50,13.55 349.75,13.73 350.00,13.96 350.25,14.22 350.50,14.51 350.75,14.79 351.00,15.06 351.25,15.29 351.50,15.46 351.75,15.57 352.00,15.61 352.25,15.57 352.50,15.46 352.75,15.29 353.00,15.06 353.25,14.79 353.50,14.51 353.75,14.22 354.00,13.96 354.25,13.73 354.50,13.55 354.75,13.44 355.00,13.41 355.25,13.44 355.50,13.55 355.75,13.73 356.00,13.96 356.25,14.22 356.50,14.51 356.75,14.79 357.00,15.06 357.25,15.29 357.50,15.46 357.75,15.57 358.00,15.61 358.25,15.57 358.50,15.46 358.75,15.29 359.00,15.06 359.25,14.79 359.50,14.51 359.75,14.22 360.00,13.96 360.25,13.73 360.50,13.55 360.75,13.44 361.00,13.41 361.25,13.45 361.50,13.56 361.75,13.75 362.00,13.99 362.25,14.27 362.50,14.57 362.75,14.86 363.00,15.13 363.25,15.35 363.50,15.51 363.75,15.60 364.00,15.64 364.25,15.98 364.50,16.65 364.75,17.56 365.00,18.58 365.25,19.57 365.50,20.39 365.75,20.94 366.00,21.13 366.25,21.06 366.50,20.87 366.75,20.56 367.00,20.14 367.25,19.64 367.50,19.08 367.75,18.49 368.00,17.89 368.25,17.31 368.50,16.79 368.75,16.34 369.00,15.98 369.25,15.74 369.50,15.62 369.75,15.62 370.00,15.70 370.25,15.83 370.50,16.03 370.75,16.28 371.00,16.58 371.25,16.92 371.50,17.29 371.75,17.70 372.00,18.12 372.25,18.54 372.50,18.96 372.75,19.37 373.00,19.75 373.25,20.10 373.50,20.41 373.75,20.67 374.00,20.87 374.25,21.02 374.50,21.11 374.75,21.12 375.00,21.05 375.25,20.88 375.50,20.61 375.75,20.26 376.00,19.85 376.25,19.40 376.50,18.92 376.75,18.44 377.00,17.99 377.25,17.58 377.50,17.23 377.75,16.96 378.00,16.79 378.25,16.72 378.50,16.74 378.75,16.85 379.00,17.04 379.25,17.31 379.50,17.65 379.75,18.05 380.00,18.51 380.25,19.03 380.50,19.58 380.75,20.16 381.00,20.76 381.25,21.37 381.50,21.97 381.75,22.56 382.00,23.12 382.25,23.64 382.50,24.12 382.75,24.53 383.00,24.89 383.25,25.17 383.50,25.37 383.75,25.50 384.00,25.54 384.25,25.46 384.50,25.25 384.75,24.89 385.00,24.42 385.25,23.84 385.50,23.20 385.75,22.51 386.00,21.81 386.25,21.13 386.50,20.50 386.75,19.94 387.00,19.49 387.25,19.16 387.50,18.97 387.75,18.92 388.00,19.00 388.25,19.17 388.50,19.44 388.75,19.78 389.00,20.19 389.25,20.65 389.50,21.13 389.75,21.60 390.00,22.06 390.25,22.47 390.50,22.82 390.75,23.08 391.00,23.26 391.25,23.33 391.50,23.26 391.75,22.98 392.00,22.48 392.25,21.80 392.50,20.97 392.75,20.02 393.00,19.00 393.25,17.95 393.50,16.92 393.75,15.95 394.00,15.09 394.25,14.38 394.50,13.85 394.75,13.52 395.00,13.41 395.25,13.44 395.50,13.53 395.75,13.68 396.00,13.90 396.25,14.16 396.50,14.47 396.75,14.83 397.00,15.22 397.25,15.64 397.50,16.08 397.75,16.53 398.00,16.99 398.25,17.44 398.50,17.88 398.75,18.29 399.00,18.67 399.25,19.02 399.50,19.33 399.75,19.58 400.00,19.78 400.25,19.92 400.50,20.00 400.75,20.03 401.00,20.24 401.25,20.73 401.50,21.42 401.75,22.23 402.00,23.04 402.25,23.73 402.50,24.22 402.75,24.43 403.00,24.41 403.25,24.32 403.50,24.16 403.75,23.94 404.00,23.65 404.25,23.31 404.50,22.91 404.75,22.48 405.00,22.00 405.25,21.51 405.50,20.99 405.75,20.47 406.00,19.95 406.25,19.44 406.50,18.95 406.75,18.50 407.00,18.08 407.25,17.70 407.50,17.38 407.75,17.12 408.00,16.92 408.25,16.78 408.50,16.72 408.75,16.73 409.00,16.82 409.25,16.98 409.50,17.20 409.75,17.47 410.00,17.76 410.25,18.06 410.50,18.33 410.75,18.58 411.00,18.76 411.25,18.88 411.50,18.92 411.75,18.99 412.00,19.19 412.25,19.51 412.50,19.92 412.75,20.38 413.00,20.86 413.25,21.32 413.50,21.71 413.75,22.01 414.00,22.19 414.25,22.23 414.50,22.33 414.75,22.56 415.00,22.92 415.25,23.37 415.50,23.88 415.75,24.44 416.00,24.99 416.25,25.51 416.50,25.96 416.75,26.31 417.00,26.54 417.25,26.64 417.50,26.62 417.75,26.54 418.00,26.40 418.25,26.19 418.50,25.93 418.75,25.61 419.00,25.24 419.25,24.82 419.50,24.36 419.75,23.86 420.00,23.32 420.25,22.75 420.50,22.17 420.75,21.56 421.00,20.95 421.25,20.33 421.50,19.71 421.75,19.11 422.00,18.51 422.25,17.94 422.50,17.40 422.75,16.89 423.00,16.42 423.25,15.99 423.50,15.61 423.75,15.28 424.00,15.01 424.25,14.79 424.50,14.63 424.75,14.54 425.00,14.51 425.25,14.53 425.50,14.59 425.75,14.69 426.00,14.83 426.25,15.00 426.50,15.21 426.75,15.45 427.00,15.72 427.25,16.02 427.50,16.35 427.75,16.69 428.00,17.06 428.25,17.43 428.50,17.82 428.75,18.21 429.00,18.61 429.25,19.00 429.50,19.38 429.75,19.76 430.00,20.12 430.25,20.46 430.50,20.78 430.75,21.07 431.00,21.34 431.25,21.57 431.50,21.78 431.75,21.94 432.00,22.07 432.25,22.17 432.50,22.22 432.75,22.23 433.00,22.19 433.25,22.08 433.50,21.93 433.75,21.71 434.00,21.45 434.25,21.15 434.50,20.80 434.75,20.43 435.00,20.04 435.25,19.64 435.50,19.23 435.75,18.82 436.00,18.44 436.25,18.07 436.50,17.74 436.75,17.44 437.00,17.19 437.25,16.98 437.50,16.84 437.75,16.75 438.00,16.72 438.25,16.67 438.50,16.55 438.75,16.34 439.00,16.07 439.25,15.73 439.50,15.35 439.75,14.94 440.00,14.51 440.25,14.08 440.50,13.66 440.75,13.28 441.00,12.95 441.25,12.67 441.50,12.47 441.75,12.35 442.00,12.30 442.25,12.33 442.50,12.40 442.75,12.52 443.00,12.69 443.25,12.89 443.50,13.13 443.75,13.39 444.00,13.67 444.25,13.96 444.50,14.24 444.75,14.52 445.00,14.78 445.25,15.02 445.50,15.22 445.75,15.39 446.00,15.51 446.25,15.59 446.50,15.61 446.75,15.68 447.00,15.88 447.25,16.20 447.50,16.64 447.75,17.19 448.00,17.82 448.25,18.52 448.50,19.26 448.75,20.02 449.00,20.79 449.25,21.53 449.50,22.23 449.75,22.86 450.00,23.40 450.25,23.84 450.50,24.17 450.75,24.37 451.00,24.44 451.25,24.42 451.50,24.38 451.75,24.31 452.00,24.21 452.25,24.09 452.50,23.95 452.75,23.79 453.00,23.62 453.25,23.44 453.50,23.26 453.75,23.08 454.00,22.91 454.25,22.75 454.50,22.61 454.75,22.48 455.00,22.38 455.25,22.30 455.50,22.25 455.75,22.23 456.00,22.21 456.25,22.14 456.50,22.01 456.75,21.86 457.00,21.68 457.25,21.50 457.50,21.34 457.75,21.22 458.00,21.15" fill="none" stroke="#e4222a" stroke-width="2.1" stroke-linejoin="round"/>
<circle cx="336.5" cy="88.4" r="1.45" fill="#f8d0d0" stroke="#e4222a" stroke-width="0.85"/>
<circle cx="338.0" cy="81.8" r="1.45" fill="#f8d0d0" stroke="#e4222a" stroke-width="0.85"/>
<circle cx="339.5" cy="74.1" r="1.45" fill="#f8d0d0" stroke="#e4222a" stroke-width="0.85"/>
<circle cx="341.0" cy="59.7" r="1.45" fill="#f8d0d0" stroke="#e4222a" stroke-width="0.85"/>
<circle cx="342.5" cy="34.4" r="1.45" fill="#f8d0d0" stroke="#e4222a" stroke-width="0.85"/>
<circle cx="344.0" cy="17.8" r="1.45" fill="#f8d0d0" stroke="#e4222a" stroke-width="0.85"/>
<circle cx="345.5" cy="14.5" r="1.45" fill="#f8d0d0" stroke="#e4222a" stroke-width="0.85"/>
<circle cx="347.0" cy="14.1" r="1.45" fill="#f8d0d0" stroke="#e4222a" stroke-width="0.85"/>
<circle cx="348.5" cy="13.5" r="1.45" fill="#f8d0d0" stroke="#e4222a" stroke-width="0.85"/>
<circle cx="350.0" cy="14.0" r="1.45" fill="#f8d0d0" stroke="#e4222a" stroke-width="0.85"/>
<circle cx="351.5" cy="15.5" r="1.45" fill="#f8d0d0" stroke="#e4222a" stroke-width="0.85"/>
<circle cx="353.0" cy="15.1" r="1.45" fill="#f8d0d0" stroke="#e4222a" stroke-width="0.85"/>
<circle cx="354.5" cy="13.6" r="1.45" fill="#f8d0d0" stroke="#e4222a" stroke-width="0.85"/>
<circle cx="356.0" cy="14.0" r="1.45" fill="#f8d0d0" stroke="#e4222a" stroke-width="0.85"/>
<circle cx="357.5" cy="15.5" r="1.45" fill="#f8d0d0" stroke="#e4222a" stroke-width="0.85"/>
<circle cx="359.0" cy="15.1" r="1.45" fill="#f8d0d0" stroke="#e4222a" stroke-width="0.85"/>
<circle cx="360.5" cy="13.6" r="1.45" fill="#f8d0d0" stroke="#e4222a" stroke-width="0.85"/>
<circle cx="362.0" cy="14.0" r="1.45" fill="#f8d0d0" stroke="#e4222a" stroke-width="0.85"/>
<circle cx="363.5" cy="15.5" r="1.45" fill="#f8d0d0" stroke="#e4222a" stroke-width="0.85"/>
<circle cx="365.0" cy="18.6" r="1.45" fill="#f8d0d0" stroke="#e4222a" stroke-width="0.85"/>
<circle cx="366.5" cy="20.9" r="1.45" fill="#f8d0d0" stroke="#e4222a" stroke-width="0.85"/>
<circle cx="368.0" cy="17.9" r="1.45" fill="#f8d0d0" stroke="#e4222a" stroke-width="0.85"/>
<circle cx="369.5" cy="15.6" r="1.45" fill="#f8d0d0" stroke="#e4222a" stroke-width="0.85"/>
<circle cx="371.0" cy="16.6" r="1.45" fill="#f8d0d0" stroke="#e4222a" stroke-width="0.85"/>
<circle cx="372.5" cy="19.0" r="1.45" fill="#f8d0d0" stroke="#e4222a" stroke-width="0.85"/>
<circle cx="374.0" cy="20.9" r="1.45" fill="#f8d0d0" stroke="#e4222a" stroke-width="0.85"/>
<circle cx="375.5" cy="20.6" r="1.45" fill="#f8d0d0" stroke="#e4222a" stroke-width="0.85"/>
<circle cx="377.0" cy="18.0" r="1.45" fill="#f8d0d0" stroke="#e4222a" stroke-width="0.85"/>
<circle cx="378.5" cy="16.7" r="1.45" fill="#f8d0d0" stroke="#e4222a" stroke-width="0.85"/>
<circle cx="380.0" cy="18.5" r="1.45" fill="#f8d0d0" stroke="#e4222a" stroke-width="0.85"/>
<circle cx="381.5" cy="22.0" r="1.45" fill="#f8d0d0" stroke="#e4222a" stroke-width="0.85"/>
<circle cx="383.0" cy="24.9" r="1.45" fill="#f8d0d0" stroke="#e4222a" stroke-width="0.85"/>
<circle cx="384.5" cy="25.2" r="1.45" fill="#f8d0d0" stroke="#e4222a" stroke-width="0.85"/>
<circle cx="386.0" cy="21.8" r="1.45" fill="#f8d0d0" stroke="#e4222a" stroke-width="0.85"/>
<circle cx="387.5" cy="19.0" r="1.45" fill="#f8d0d0" stroke="#e4222a" stroke-width="0.85"/>
<circle cx="389.0" cy="20.2" r="1.45" fill="#f8d0d0" stroke="#e4222a" stroke-width="0.85"/>
<circle cx="390.5" cy="22.8" r="1.45" fill="#f8d0d0" stroke="#e4222a" stroke-width="0.85"/>
<circle cx="392.0" cy="22.5" r="1.45" fill="#f8d0d0" stroke="#e4222a" stroke-width="0.85"/>
<circle cx="393.5" cy="16.9" r="1.45" fill="#f8d0d0" stroke="#e4222a" stroke-width="0.85"/>
<circle cx="395.0" cy="13.4" r="1.45" fill="#f8d0d0" stroke="#e4222a" stroke-width="0.85"/>
<circle cx="396.5" cy="14.5" r="1.45" fill="#f8d0d0" stroke="#e4222a" stroke-width="0.85"/>
<circle cx="398.0" cy="17.0" r="1.45" fill="#f8d0d0" stroke="#e4222a" stroke-width="0.85"/>
<circle cx="399.5" cy="19.3" r="1.45" fill="#f8d0d0" stroke="#e4222a" stroke-width="0.85"/>
<circle cx="401.0" cy="20.2" r="1.45" fill="#f8d0d0" stroke="#e4222a" stroke-width="0.85"/>
<circle cx="402.5" cy="24.2" r="1.45" fill="#f8d0d0" stroke="#e4222a" stroke-width="0.85"/>
<circle cx="404.0" cy="23.6" r="1.45" fill="#f8d0d0" stroke="#e4222a" stroke-width="0.85"/>
<circle cx="405.5" cy="21.0" r="1.45" fill="#f8d0d0" stroke="#e4222a" stroke-width="0.85"/>
<circle cx="407.0" cy="18.1" r="1.45" fill="#f8d0d0" stroke="#e4222a" stroke-width="0.85"/>
<circle cx="408.5" cy="16.7" r="1.45" fill="#f8d0d0" stroke="#e4222a" stroke-width="0.85"/>
<circle cx="410.0" cy="17.8" r="1.45" fill="#f8d0d0" stroke="#e4222a" stroke-width="0.85"/>
<circle cx="411.5" cy="18.9" r="1.45" fill="#f8d0d0" stroke="#e4222a" stroke-width="0.85"/>
<circle cx="413.0" cy="20.9" r="1.45" fill="#f8d0d0" stroke="#e4222a" stroke-width="0.85"/>
<circle cx="414.5" cy="22.3" r="1.45" fill="#f8d0d0" stroke="#e4222a" stroke-width="0.85"/>
<circle cx="416.0" cy="25.0" r="1.45" fill="#f8d0d0" stroke="#e4222a" stroke-width="0.85"/>
<circle cx="417.5" cy="26.6" r="1.45" fill="#f8d0d0" stroke="#e4222a" stroke-width="0.85"/>
<circle cx="419.0" cy="25.2" r="1.45" fill="#f8d0d0" stroke="#e4222a" stroke-width="0.85"/>
<circle cx="420.5" cy="22.2" r="1.45" fill="#f8d0d0" stroke="#e4222a" stroke-width="0.85"/>
<circle cx="422.0" cy="18.5" r="1.45" fill="#f8d0d0" stroke="#e4222a" stroke-width="0.85"/>
<circle cx="423.5" cy="15.6" r="1.45" fill="#f8d0d0" stroke="#e4222a" stroke-width="0.85"/>
<circle cx="425.0" cy="14.5" r="1.45" fill="#f8d0d0" stroke="#e4222a" stroke-width="0.85"/>
<circle cx="426.5" cy="15.2" r="1.45" fill="#f8d0d0" stroke="#e4222a" stroke-width="0.85"/>
<circle cx="428.0" cy="17.1" r="1.45" fill="#f8d0d0" stroke="#e4222a" stroke-width="0.85"/>
<circle cx="429.5" cy="19.4" r="1.45" fill="#f8d0d0" stroke="#e4222a" stroke-width="0.85"/>
<circle cx="431.0" cy="21.3" r="1.45" fill="#f8d0d0" stroke="#e4222a" stroke-width="0.85"/>
<circle cx="432.5" cy="22.2" r="1.45" fill="#f8d0d0" stroke="#e4222a" stroke-width="0.85"/>
<circle cx="434.0" cy="21.5" r="1.45" fill="#f8d0d0" stroke="#e4222a" stroke-width="0.85"/>
<circle cx="435.5" cy="19.2" r="1.45" fill="#f8d0d0" stroke="#e4222a" stroke-width="0.85"/>
<circle cx="437.0" cy="17.2" r="1.45" fill="#f8d0d0" stroke="#e4222a" stroke-width="0.85"/>
<circle cx="438.5" cy="16.5" r="1.45" fill="#f8d0d0" stroke="#e4222a" stroke-width="0.85"/>
<circle cx="440.0" cy="14.5" r="1.45" fill="#f8d0d0" stroke="#e4222a" stroke-width="0.85"/>
<circle cx="441.5" cy="12.5" r="1.45" fill="#f8d0d0" stroke="#e4222a" stroke-width="0.85"/>
<circle cx="443.0" cy="12.7" r="1.45" fill="#f8d0d0" stroke="#e4222a" stroke-width="0.85"/>
<circle cx="444.5" cy="14.2" r="1.45" fill="#f8d0d0" stroke="#e4222a" stroke-width="0.85"/>
<circle cx="446.0" cy="15.5" r="1.45" fill="#f8d0d0" stroke="#e4222a" stroke-width="0.85"/>
<circle cx="447.5" cy="16.6" r="1.45" fill="#f8d0d0" stroke="#e4222a" stroke-width="0.85"/>
<circle cx="449.0" cy="20.8" r="1.45" fill="#f8d0d0" stroke="#e4222a" stroke-width="0.85"/>
<circle cx="450.5" cy="24.2" r="1.45" fill="#f8d0d0" stroke="#e4222a" stroke-width="0.85"/>
<circle cx="452.0" cy="24.2" r="1.45" fill="#f8d0d0" stroke="#e4222a" stroke-width="0.85"/>
<circle cx="453.5" cy="23.3" r="1.45" fill="#f8d0d0" stroke="#e4222a" stroke-width="0.85"/>
<circle cx="455.0" cy="22.4" r="1.45" fill="#f8d0d0" stroke="#e4222a" stroke-width="0.85"/>
<circle cx="456.5" cy="22.0" r="1.45" fill="#f8d0d0" stroke="#e4222a" stroke-width="0.85"/>
<circle cx="458.0" cy="21.1" r="1.45" fill="#f8d0d0" stroke="#e4222a" stroke-width="0.85"/>
<line x1="364" y1="94.2" x2="385.8" y2="94.2" stroke="#22862a" stroke-width="1.3" />
<circle cx="375" cy="94.2" r="1" fill="#22862a"/>
<text x="388" y="97.4" font-size="9.6" fill="#222" text-anchor="start" font-family="'Liberation Serif','Noto Serif CJK SC',serif" >simulation</text>
<line x1="364" y1="105.5" x2="385.8" y2="105.5" stroke="#e4222a" stroke-width="1.3" />
<circle cx="375" cy="105.5" r="1.3" fill="#fff" stroke="#e4222a" stroke-width="0.7"/>
<text x="388" y="108.7" font-size="9.6" fill="#222" text-anchor="start" font-family="'Liberation Serif','Noto Serif CJK SC',serif" >experiment</text>
<text x="411.5" y="73.6" font-size="9.4" fill="#d83a3a" font-family="'Liberation Serif','Noto Serif CJK SC',serif"><tspan font-style="italic">f</tspan><tspan font-size="5.5" dy="2" font-style="italic">c</tspan><tspan dy="-2">=3200Hz</tspan></text>
<path d="M458,99 Q449,94 446.8,84" fill="none" stroke="#e4222a" stroke-width="0.9"/>
<polygon points="446.40,81.50 445.20,85.50 448.30,85.20" fill="#e4222a" stroke="none" stroke-width="0" />
<text x="10.4" y="169.6" font-size="11.6" fill="#1a1a1a" text-anchor="start" font-family="'Liberation Serif','Noto Serif CJK SC',serif" stroke="#1a1a1a" stroke-width="0.35">(b)</text>
<line x1="49.71428571428572" y1="218.8" x2="49.71428571428572" y2="348.5" stroke="#e4e4e4" stroke-width="0.6" />
<line x1="71.82857142857144" y1="218.8" x2="71.82857142857144" y2="348.5" stroke="#e4e4e4" stroke-width="0.6" />
<line x1="93.94285714285718" y1="218.8" x2="93.94285714285718" y2="348.5" stroke="#e4e4e4" stroke-width="0.6" />
<line x1="116.05714285714288" y1="218.8" x2="116.05714285714288" y2="348.5" stroke="#e4e4e4" stroke-width="0.6" />
<line x1="138.17142857142858" y1="218.8" x2="138.17142857142858" y2="348.5" stroke="#e4e4e4" stroke-width="0.6" />
<line x1="160.28571428571433" y1="218.8" x2="160.28571428571433" y2="348.5" stroke="#e4e4e4" stroke-width="0.6" />
<line x1="27.6" y1="322.56" x2="182.4" y2="322.56" stroke="#e4e4e4" stroke-width="0.6" />
<line x1="27.6" y1="296.62" x2="182.4" y2="296.62" stroke="#e4e4e4" stroke-width="0.6" />
<line x1="27.6" y1="270.68" x2="182.4" y2="270.68" stroke="#e4e4e4" stroke-width="0.6" />
<line x1="27.6" y1="244.74" x2="182.4" y2="244.74" stroke="#e4e4e4" stroke-width="0.6" />
<line x1="27.6" y1="348.5" x2="182.4" y2="348.5" stroke="#8a8a8a" stroke-width="0.7" />
<line x1="27.6" y1="218.8" x2="27.6" y2="348.5" stroke="#9a9a9a" stroke-width="0.7" />
<line x1="182.4" y1="218.8" x2="182.4" y2="348.5" stroke="#999" stroke-width="0.6" />
<line x1="27.6" y1="218.8" x2="182.4" y2="218.8" stroke="#e07070" stroke-width="0.7" />
<line x1="27.6" y1="348.5" x2="27.6" y2="347.0" stroke="#444" stroke-width="0.5" />
<line x1="49.71428571428572" y1="348.5" x2="49.71428571428572" y2="347.0" stroke="#444" stroke-width="0.5" />
<line x1="71.82857142857144" y1="348.5" x2="71.82857142857144" y2="347.0" stroke="#444" stroke-width="0.5" />
<line x1="93.94285714285718" y1="348.5" x2="93.94285714285718" y2="347.0" stroke="#444" stroke-width="0.5" />
<line x1="116.05714285714288" y1="348.5" x2="116.05714285714288" y2="347.0" stroke="#444" stroke-width="0.5" />
<line x1="138.17142857142858" y1="348.5" x2="138.17142857142858" y2="347.0" stroke="#444" stroke-width="0.5" />
<line x1="160.28571428571433" y1="348.5" x2="160.28571428571433" y2="347.0" stroke="#444" stroke-width="0.5" />
<line x1="182.40000000000003" y1="348.5" x2="182.40000000000003" y2="347.0" stroke="#444" stroke-width="0.5" />
<line x1="27.6" y1="348.5" x2="29.1" y2="348.5" stroke="#444" stroke-width="0.5" />
<line x1="27.6" y1="322.56" x2="29.1" y2="322.56" stroke="#444" stroke-width="0.5" />
<line x1="27.6" y1="296.62" x2="29.1" y2="296.62" stroke="#444" stroke-width="0.5" />
<line x1="27.6" y1="270.68" x2="29.1" y2="270.68" stroke="#444" stroke-width="0.5" />
<line x1="27.6" y1="244.74" x2="29.1" y2="244.74" stroke="#444" stroke-width="0.5" />
<line x1="27.6" y1="218.8" x2="29.1" y2="218.8" stroke="#444" stroke-width="0.5" />
<line x1="27.6" y1="218.8" x2="27.6" y2="220.3" stroke="#e07070" stroke-width="0.5" />
<line x1="46.84" y1="218.8" x2="46.84" y2="220.3" stroke="#e07070" stroke-width="0.5" />
<line x1="66.08" y1="218.8" x2="66.08" y2="220.3" stroke="#e07070" stroke-width="0.5" />
<line x1="85.32" y1="218.8" x2="85.32" y2="220.3" stroke="#e07070" stroke-width="0.5" />
<line x1="104.56" y1="218.8" x2="104.56" y2="220.3" stroke="#e07070" stroke-width="0.5" />
<line x1="123.79999999999998" y1="218.8" x2="123.79999999999998" y2="220.3" stroke="#e07070" stroke-width="0.5" />
<line x1="143.04" y1="218.8" x2="143.04" y2="220.3" stroke="#e07070" stroke-width="0.5" />
<line x1="162.27999999999997" y1="218.8" x2="162.27999999999997" y2="220.3" stroke="#e07070" stroke-width="0.5" />
<line x1="181.51999999999998" y1="218.8" x2="181.51999999999998" y2="220.3" stroke="#e07070" stroke-width="0.5" />
<text x="27.6" y="358.7" font-size="7.8" fill="#3a3a3a" text-anchor="middle" font-family="'Liberation Sans',sans-serif" >0</text>
<text x="49.71428571428572" y="358.7" font-size="7.8" fill="#3a3a3a" text-anchor="middle" font-family="'Liberation Sans',sans-serif" >0.2</text>
<text x="71.82857142857144" y="358.7" font-size="7.8" fill="#3a3a3a" text-anchor="middle" font-family="'Liberation Sans',sans-serif" >0.4</text>
<text x="93.94285714285718" y="358.7" font-size="7.8" fill="#3a3a3a" text-anchor="middle" font-family="'Liberation Sans',sans-serif" >0.6</text>
<text x="116.05714285714288" y="358.7" font-size="7.8" fill="#3a3a3a" text-anchor="middle" font-family="'Liberation Sans',sans-serif" >0.8</text>
<text x="138.17142857142858" y="358.7" font-size="7.8" fill="#3a3a3a" text-anchor="middle" font-family="'Liberation Sans',sans-serif" >1</text>
<text x="160.28571428571433" y="358.7" font-size="7.8" fill="#3a3a3a" text-anchor="middle" font-family="'Liberation Sans',sans-serif" >1.2</text>
<text x="182.40000000000003" y="358.7" font-size="7.8" fill="#3a3a3a" text-anchor="middle" font-family="'Liberation Sans',sans-serif" >1.4</text>
<text x="25" y="351.3" font-size="7.8" fill="#3a3a3a" text-anchor="end" font-family="'Liberation Sans',sans-serif" >0</text>
<text x="25" y="325.36" font-size="7.8" fill="#3a3a3a" text-anchor="end" font-family="'Liberation Sans',sans-serif" >0.2</text>
<text x="25" y="299.42" font-size="7.8" fill="#3a3a3a" text-anchor="end" font-family="'Liberation Sans',sans-serif" >0.4</text>
<text x="25" y="273.48" font-size="7.8" fill="#3a3a3a" text-anchor="end" font-family="'Liberation Sans',sans-serif" >0.6</text>
<text x="25" y="247.54000000000002" font-size="7.8" fill="#3a3a3a" text-anchor="end" font-family="'Liberation Sans',sans-serif" >0.8</text>
<text x="25" y="221.60000000000002" font-size="7.8" fill="#3a3a3a" text-anchor="end" font-family="'Liberation Sans',sans-serif" >1</text>
<text x="27.6" y="214.3" font-size="8.2" fill="#e0484c" text-anchor="middle" font-family="'Liberation Sans',sans-serif" >0</text>
<text x="66.08" y="214.3" font-size="8.2" fill="#e0484c" text-anchor="middle" font-family="'Liberation Sans',sans-serif" >400</text>
<text x="104.56" y="214.3" font-size="8.2" fill="#e0484c" text-anchor="middle" font-family="'Liberation Sans',sans-serif" >800</text>
<text x="143.04" y="214.3" font-size="8.2" fill="#e0484c" text-anchor="middle" font-family="'Liberation Sans',sans-serif" >1200</text>
<text x="181.51999999999998" y="214.3" font-size="8.2" fill="#e0484c" text-anchor="middle" font-family="'Liberation Sans',sans-serif" >1600</text>
<text x="103.5" y="204.5" font-size="9" fill="#333" font-family="'Liberation Serif','Noto Serif CJK SC',serif" text-anchor="middle"><tspan font-style="italic">f</tspan> (Hz)</text>
<text x="107.7" y="368" font-size="10.2" fill="#333" font-family="'Liberation Serif','Noto Serif CJK SC',serif" text-anchor="middle">4<tspan font-style="italic">h</tspan>/λ</text>
<text transform="translate(11.3,283.5) rotate(-90)" font-size="8.5" fill="#333" text-anchor="middle" font-family="'Liberation Serif','Noto Serif CJK SC',serif" font-style="italic">α</text>
<polyline points="27.60,348.50 27.84,348.47 28.11,348.44 28.41,348.42 28.74,348.39 29.10,348.36 29.49,348.34 29.89,348.31 30.32,348.28 30.77,348.25 31.23,348.21 31.70,348.18 32.19,348.13 32.69,348.09 33.19,348.03 33.70,347.98 34.22,347.91 34.73,347.84 35.25,347.76 35.76,347.67 36.27,347.58 36.77,347.47 37.26,347.36 37.74,347.23 38.21,347.09 38.66,346.94 39.10,346.78 39.56,346.62 40.02,346.45 40.49,346.27 40.96,346.08 41.43,345.89 41.91,345.69 42.39,345.49 42.87,345.27 43.35,345.05 43.82,344.82 44.30,344.58 44.77,344.34 45.23,344.09 45.69,343.82 46.14,343.55 46.59,343.28 47.02,342.99 47.44,342.69 47.86,342.39 48.26,342.07 48.64,341.75 49.02,341.41 49.37,341.07 49.71,340.72 50.38,339.94 50.98,339.10 51.54,338.21 52.05,337.28 52.52,336.31 52.96,335.30 53.38,334.28 53.77,333.23 54.15,332.18 54.51,331.13 54.88,330.08 55.24,329.05 55.84,327.29 56.37,325.55 56.85,323.78 57.29,321.97 57.72,320.10 58.13,318.14 58.56,316.07 59.06,313.55 59.56,310.94 60.03,308.21 60.49,305.36 60.92,302.37 61.32,299.21 61.84,294.19 62.28,288.84 62.72,283.16 63.20,277.17 63.66,271.95 64.14,266.33 64.64,260.60 65.15,255.04 65.64,249.93 66.11,245.18 66.58,240.60 67.04,236.33 67.50,232.48 67.96,229.18 68.42,226.49 68.89,224.33 69.35,222.61 69.78,221.23 70.17,220.10 70.69,218.75 71.12,218.27 71.61,218.80 72.04,219.74 72.50,221.15 72.98,223.33 73.49,226.58 73.91,230.26 74.35,234.80 74.80,239.84 75.25,245.01 75.70,249.93 76.11,254.70 76.50,259.58 76.91,264.40 77.36,269.02 77.91,273.27 78.30,275.74 78.72,278.10 79.17,280.36 79.64,282.52 80.13,284.57 80.66,286.53 81.21,288.38 81.78,290.13 82.19,291.26 82.62,292.34 83.07,293.40 83.54,294.41 84.02,295.38 84.51,296.30 85.00,297.16 85.49,297.97 85.97,298.71 86.43,299.38 86.88,299.98 87.31,300.51 87.83,301.07 88.30,301.48 88.74,301.76 89.17,301.92 89.60,302.00 90.05,302.00 90.55,301.96 91.10,301.88 91.73,301.81 92.10,301.76 92.49,301.70 92.90,301.62 93.32,301.52 93.76,301.41 94.22,301.28 94.68,301.15 95.16,301.00 95.63,300.83 96.12,300.66 96.61,300.48 97.09,300.29 97.58,300.09 98.06,299.88 98.54,299.66 99.01,299.44 99.47,299.21 99.92,298.98 100.38,298.72 100.82,298.45 101.27,298.17 101.71,297.88 102.16,297.57 102.60,297.26 103.05,296.94 103.50,296.62 103.95,296.29 104.40,295.96 104.85,295.63 105.31,295.30 105.78,294.97 106.25,294.65 106.73,294.34 107.21,294.03 107.63,293.77 108.05,293.51 108.48,293.25 108.91,292.99 109.35,292.73 109.78,292.47 110.23,292.21 110.67,291.95 111.12,291.69 111.57,291.43 112.01,291.17 112.47,290.91 112.92,290.65 113.37,290.39 113.82,290.13 114.27,289.88 114.72,289.62 115.17,289.36 115.61,289.10 116.06,288.84 116.52,288.56 116.99,288.29 117.45,288.02 117.92,287.75 118.38,287.47 118.85,287.20 119.32,286.93 119.78,286.65 120.25,286.38 120.71,286.11 121.18,285.83 121.64,285.56 122.11,285.29 122.58,285.02 123.04,284.74 123.51,284.47 123.97,284.20 124.44,283.92 124.90,283.65 125.37,283.38 125.84,283.10 126.32,282.82 126.80,282.54 127.29,282.25 127.77,281.97 128.26,281.68 128.74,281.40 129.22,281.12 129.70,280.83 130.18,280.55 130.65,280.28 131.12,280.00 131.58,279.73 132.03,279.47 132.48,279.21 132.91,278.95 133.34,278.70 133.75,278.46 134.26,278.16 134.75,277.88 135.23,277.60 135.71,277.33 136.16,277.07 136.61,276.81 137.06,276.56 137.49,276.31 137.91,276.07 138.34,275.82 138.75,275.57 139.16,275.33 139.57,275.08 139.98,274.83 140.38,274.57 140.89,274.27 141.39,274.00 141.89,273.75 142.39,273.51 142.88,273.28 143.35,273.03 143.82,272.76 144.27,272.46 144.71,272.11 145.13,271.70 145.53,271.23 145.91,270.68 146.51,269.58 147.04,268.34 147.52,266.96 147.96,265.45 148.39,263.84 148.80,262.12 149.23,260.30 149.73,257.88 150.23,255.07 150.71,252.12 151.17,249.26 151.60,246.72 151.99,244.74 152.61,241.91 153.10,240.37 153.65,240.85 154.06,242.44 154.50,244.94 154.95,248.07 155.41,251.56 155.86,255.12 156.29,258.98 156.69,263.32 157.11,267.82 157.56,272.11 158.07,275.87 158.47,278.17 158.88,280.29 159.30,282.24 159.76,284.05 160.25,285.74 160.79,287.33 161.39,288.84 161.77,289.67 162.17,290.45 162.59,291.18 163.03,291.86 163.48,292.51 163.95,293.13 164.43,293.73 164.91,294.31 165.41,294.89 165.91,295.46 166.41,296.03 166.92,296.62 167.33,297.08 167.73,297.53 168.14,297.96 168.55,298.37 168.97,298.78 169.39,299.18 169.81,299.58 170.25,299.98 170.69,300.39 171.14,300.80 171.60,301.22 172.07,301.66 172.55,302.12 173.05,302.60 173.55,303.11 173.98,303.53 174.44,304.00 174.92,304.49 175.43,305.01 175.95,305.54 176.49,306.09 177.03,306.65 177.58,307.21 178.12,307.77 178.66,308.33 179.19,308.87 179.70,309.40 180.19,309.90 180.65,310.38 181.08,310.82 181.48,311.23 181.83,311.60 182.14,311.92 182.40,312.18" fill="none" stroke="#7070e0" stroke-width="0.9" />
<polyline points="27.60,348.50 27.84,348.45 28.11,348.39 28.41,348.34 28.74,348.28 29.10,348.22 29.49,348.16 29.89,348.09 30.32,348.02 30.77,347.95 31.23,347.87 31.70,347.78 32.19,347.70 32.69,347.60 33.19,347.50 33.70,347.39 34.22,347.28 34.73,347.16 35.25,347.03 35.76,346.90 36.27,346.76 36.77,346.61 37.26,346.44 37.74,346.27 38.21,346.10 38.66,345.91 39.10,345.71 39.56,345.50 40.02,345.29 40.49,345.08 40.96,344.85 41.43,344.62 41.91,344.38 42.39,344.14 42.87,343.89 43.35,343.63 43.82,343.36 44.30,343.09 44.77,342.81 45.23,342.52 45.69,342.22 46.14,341.91 46.59,341.60 47.02,341.27 47.44,340.94 47.86,340.60 48.26,340.26 48.64,339.90 49.02,339.53 49.37,339.16 49.71,338.77 50.38,337.93 50.99,337.01 51.55,336.04 52.07,335.03 52.55,333.97 53.00,332.90 53.42,331.80 53.81,330.70 54.18,329.61 54.55,328.53 54.90,327.47 55.24,326.45 55.86,324.53 56.37,322.70 56.80,320.90 57.19,319.03 57.58,317.02 58.01,314.78 58.48,312.33 58.96,309.73 59.44,307.00 59.91,304.11 60.36,301.09 60.77,297.92 61.31,292.92 61.79,287.62 62.25,281.96 62.76,275.87 63.22,270.43 63.71,264.49 64.22,258.41 64.71,252.56 65.19,247.33 65.76,241.56 66.31,236.31 66.86,231.71 67.41,227.88 67.86,225.47 68.33,223.61 68.80,222.18 69.23,221.05 69.62,220.10 70.10,218.85 70.49,218.32 70.94,218.80 71.39,219.74 71.88,221.15 72.41,223.33 72.93,226.58 73.36,230.26 73.80,234.80 74.25,239.84 74.70,245.01 75.15,249.93 75.57,254.70 75.98,259.58 76.39,264.40 76.84,269.02 77.36,273.27 77.75,276.08 78.16,278.75 78.59,281.29 79.04,283.70 79.53,285.98 80.07,288.12 80.67,290.13 81.06,291.27 81.47,292.39 81.90,293.49 82.35,294.55 82.82,295.57 83.30,296.54 83.79,297.44 84.28,298.25 84.77,298.98 85.26,299.61 85.74,300.12 86.20,300.51 86.66,300.76 87.10,300.86 87.53,300.84 87.96,300.70 88.39,300.48 88.83,300.19 89.27,299.84 89.72,299.45 90.19,299.05 90.68,298.65 91.19,298.27 91.73,297.92 92.13,297.68 92.54,297.43 92.96,297.16 93.40,296.87 93.85,296.58 94.30,296.28 94.76,295.97 95.23,295.65 95.70,295.32 96.17,294.99 96.65,294.66 97.13,294.33 97.60,294.00 98.08,293.68 98.55,293.36 99.01,293.04 99.47,292.73 99.92,292.43 100.38,292.13 100.82,291.83 101.27,291.54 101.71,291.24 102.16,290.95 102.60,290.66 103.05,290.36 103.50,290.07 103.95,289.77 104.40,289.47 104.85,289.16 105.31,288.85 105.78,288.53 106.25,288.21 106.73,287.88 107.21,287.54 107.63,287.25 108.05,286.95 108.48,286.65 108.91,286.35 109.35,286.04 109.78,285.73 110.23,285.42 110.67,285.10 111.12,284.78 111.57,284.46 112.01,284.13 112.47,283.81 112.92,283.47 113.37,283.14 113.82,282.80 114.27,282.46 114.72,282.11 115.17,281.76 115.61,281.41 116.06,281.06 116.52,280.68 116.99,280.31 117.47,279.94 117.94,279.57 118.41,279.20 118.89,278.83 119.36,278.45 119.84,278.07 120.31,277.68 120.79,277.29 121.26,276.89 121.73,276.48 122.19,276.06 122.65,275.63 123.11,275.19 123.57,274.73 124.02,274.26 124.46,273.78 124.90,273.27 125.39,272.69 125.88,272.09 126.36,271.48 126.85,270.85 127.33,270.21 127.81,269.55 128.28,268.87 128.75,268.19 129.21,267.49 129.67,266.79 130.12,266.07 130.56,265.34 131.00,264.61 131.42,263.87 131.84,263.12 132.25,262.36 132.64,261.60 133.19,260.50 133.71,259.36 134.22,258.19 134.71,256.99 135.19,255.77 135.65,254.55 136.10,253.32 136.53,252.09 136.96,250.87 137.37,249.67 137.78,248.49 138.17,247.33 138.74,245.58 139.28,243.76 139.79,241.92 140.28,240.12 140.74,238.41 141.19,236.85 141.62,235.48 142.04,234.36 142.56,233.09 143.02,231.96 143.46,231.12 143.88,230.71 144.33,230.88 144.81,231.77 145.25,233.25 145.71,235.37 146.19,237.96 146.67,240.88 147.16,243.95 147.64,247.02 148.12,249.93 148.59,252.82 149.04,255.89 149.49,259.05 149.94,262.19 150.41,265.24 150.91,268.10 151.44,270.68 151.87,272.48 152.31,274.16 152.75,275.72 153.21,277.19 153.68,278.58 154.18,279.90 154.71,281.18 155.27,282.42 155.86,283.65 156.24,284.37 156.62,285.07 157.01,285.74 157.42,286.38 157.83,287.01 158.25,287.62 158.68,288.22 159.13,288.80 159.58,289.38 160.04,289.94 160.51,290.50 160.99,291.06 161.48,291.61 161.99,292.17 162.50,292.73 162.89,293.15 163.28,293.55 163.68,293.95 164.09,294.35 164.50,294.74 164.92,295.12 165.34,295.50 165.77,295.87 166.20,296.25 166.64,296.62 167.09,296.99 167.54,297.37 168.00,297.74 168.46,298.12 168.92,298.50 169.40,298.89 169.88,299.29 170.36,299.69 170.85,300.09 171.34,300.51 171.77,300.87 172.22,301.25 172.69,301.65 173.19,302.05 173.69,302.47 174.21,302.90 174.74,303.34 175.27,303.78 175.81,304.22 176.35,304.66 176.89,305.10 177.42,305.54 177.95,305.97 178.46,306.39 178.97,306.79 179.45,307.19 179.92,307.57 180.36,307.93 180.78,308.27 181.17,308.59 181.53,308.88 181.86,309.15 182.15,309.38 182.40,309.59" fill="none" stroke="#e048b8" stroke-width="1.3" stroke-dasharray="2.6,1.4"/>
<polyline points="27.60,348.50 27.84,348.46 28.11,348.43 28.41,348.39 28.74,348.35 29.10,348.32 29.49,348.28 29.89,348.24 30.32,348.20 30.77,348.16 31.23,348.11 31.70,348.06 32.19,348.00 32.69,347.94 33.19,347.87 33.70,347.80 34.22,347.72 34.73,347.63 35.25,347.53 35.76,347.42 36.27,347.31 36.77,347.18 37.26,347.04 37.74,346.89 38.21,346.73 38.66,346.55 39.10,346.37 39.56,346.17 40.02,345.97 40.49,345.75 40.96,345.53 41.43,345.30 41.91,345.06 42.39,344.81 42.87,344.56 43.35,344.29 43.82,344.02 44.30,343.74 44.77,343.45 45.23,343.15 45.69,342.85 46.14,342.54 46.59,342.22 47.02,341.89 47.44,341.56 47.86,341.22 48.26,340.87 48.64,340.52 49.02,340.16 49.37,339.79 49.71,339.42 50.38,338.61 50.99,337.74 51.55,336.82 52.07,335.87 52.55,334.88 53.00,333.87 53.42,332.84 53.81,331.81 54.18,330.77 54.55,329.75 54.90,328.74 55.24,327.75 55.86,325.86 56.37,324.05 56.80,322.24 57.19,320.35 57.58,318.32 58.01,316.07 58.48,313.63 58.96,311.03 59.44,308.29 59.91,305.41 60.36,302.38 60.77,299.21 61.31,294.22 61.79,288.92 62.25,283.25 62.76,277.17 63.22,271.73 63.71,265.78 64.22,259.70 64.71,253.86 65.19,248.63 65.76,242.89 66.31,237.69 66.86,233.10 67.41,229.18 67.86,226.57 68.33,224.42 68.80,222.67 69.23,221.25 69.62,220.10 70.10,218.70 70.49,218.18 70.94,218.80 71.39,219.98 71.88,221.72 72.41,224.27 72.93,227.88 73.36,231.85 73.80,236.74 74.25,242.10 74.70,247.51 75.15,252.52 75.57,257.18 75.98,261.78 76.39,266.25 76.84,270.53 77.36,274.57 77.76,277.33 78.19,280.03 78.64,282.64 79.12,285.11 79.61,287.43 80.13,289.55 80.67,291.43 81.07,292.64 81.47,293.78 81.89,294.84 82.31,295.82 82.75,296.70 83.20,297.47 83.65,298.12 84.12,298.63 84.61,299.00 85.10,299.21 85.52,299.24 85.94,299.10 86.38,298.83 86.82,298.45 87.27,297.97 87.72,297.43 88.19,296.84 88.66,296.24 89.14,295.63 89.63,295.04 90.12,294.50 90.63,294.03 91.03,293.68 91.45,293.32 91.86,292.97 92.29,292.61 92.71,292.25 93.15,291.89 93.58,291.53 94.03,291.17 94.47,290.82 94.93,290.47 95.38,290.13 95.84,289.79 96.31,289.46 96.78,289.15 97.26,288.84 97.69,288.57 98.13,288.30 98.57,288.04 99.03,287.78 99.49,287.52 99.95,287.26 100.42,287.01 100.89,286.77 101.37,286.53 101.84,286.30 102.31,286.08 102.77,285.86 103.23,285.66 103.69,285.46 104.13,285.28 104.57,285.11 105.00,284.95 105.48,284.77 105.95,284.60 106.42,284.44 106.88,284.28 107.33,284.13 107.79,283.99 108.23,283.87 108.68,283.76 109.11,283.67 109.55,283.60 109.97,283.56 110.40,283.54 110.81,283.54 111.23,283.58 111.63,283.65 112.13,283.79 112.62,284.00 113.09,284.26 113.56,284.56 114.02,284.90 114.47,285.27 114.92,285.66 115.36,286.05 115.81,286.45 116.25,286.83 116.71,287.20 117.16,287.54 117.62,287.87 118.08,288.22 118.55,288.57 119.01,288.93 119.47,289.29 119.93,289.65 120.39,289.99 120.85,290.33 121.31,290.64 121.77,290.93 122.23,291.20 122.69,291.43 123.15,291.66 123.61,291.89 124.07,292.12 124.53,292.34 125.00,292.55 125.46,292.73 125.92,292.87 126.38,292.97 126.84,293.01 127.30,292.99 127.76,292.90 128.22,292.73 128.68,292.49 129.15,292.20 129.63,291.87 130.10,291.48 130.58,291.04 131.05,290.54 131.52,289.98 131.99,289.37 132.44,288.69 132.89,287.94 133.33,287.13 133.75,286.24 134.24,285.11 134.72,283.92 135.19,282.65 135.65,281.29 136.10,279.84 136.53,278.28 136.96,276.59 137.38,274.77 137.78,272.80 138.17,270.68 138.71,267.20 139.21,263.21 139.68,258.88 140.14,254.42 140.59,250.01 141.04,245.86 141.49,242.15 141.95,238.53 142.41,234.72 142.87,230.99 143.32,227.65 143.75,224.96 144.18,223.21 144.58,222.69 145.12,224.17 145.62,227.71 146.09,232.71 146.56,238.59 147.02,244.74 147.46,251.82 147.86,260.21 148.28,268.96 148.72,277.09 149.23,283.65 149.63,287.16 150.06,289.99 150.51,292.29 150.99,294.22 151.49,295.92 152.00,297.54 152.55,299.21 152.94,300.39 153.34,301.47 153.76,302.46 154.18,303.37 154.62,304.24 155.07,305.07 155.53,305.87 156.00,306.66 156.48,307.47 156.97,308.29 157.38,308.99 157.79,309.67 158.20,310.33 158.61,310.98 159.03,311.63 159.46,312.27 159.90,312.90 160.37,313.53 160.86,314.16 161.37,314.79 161.92,315.43 162.50,316.07 162.86,316.46 163.24,316.85 163.62,317.24 164.02,317.63 164.42,318.02 164.84,318.41 165.26,318.80 165.69,319.19 166.13,319.58 166.57,319.97 167.03,320.36 167.49,320.74 167.95,321.13 168.42,321.52 168.90,321.91 169.38,322.30 169.86,322.69 170.35,323.08 170.85,323.47 171.34,323.86 171.77,324.19 172.22,324.53 172.69,324.88 173.19,325.24 173.69,325.61 174.21,325.98 174.74,326.36 175.27,326.74 175.81,327.12 176.35,327.49 176.89,327.87 177.42,328.23 177.95,328.60 178.46,328.95 178.97,329.29 179.45,329.62 179.92,329.94 180.36,330.24 180.78,330.53 181.17,330.79 181.53,331.04 181.86,331.26 182.15,331.46 182.40,331.64" fill="none" stroke="#d82028" stroke-width="1.2" stroke-dasharray="2.4,1,0.8,1"/>
<polyline points="27.60,348.50 27.90,348.32 28.33,348.07 28.82,347.78 29.33,347.48 29.81,347.20 30.27,346.97 30.75,346.78 31.22,346.56 31.65,346.29 32.02,345.91 32.64,344.00 33.13,342.66 33.61,344.20 34.23,345.91 34.61,345.86 35.04,345.53 35.51,345.03 35.99,344.47 36.45,343.96 36.90,343.42 37.36,342.78 37.81,342.16 38.25,341.65 38.66,341.37 39.25,341.77 39.78,342.62 40.32,342.66 40.85,341.15 41.38,338.84 41.97,336.83 42.49,335.83 43.05,335.04 43.62,334.33 44.19,333.58 44.63,332.87 45.07,332.10 45.51,331.36 45.95,330.74 46.40,330.34 46.95,330.31 47.50,330.63 48.06,330.97 48.61,330.99 49.11,330.55 49.58,329.86 50.11,329.08 50.82,328.40 51.18,328.20 51.58,328.04 52.02,327.91 52.48,327.79 52.96,327.67 53.45,327.52 53.93,327.35 54.39,327.12 54.84,326.83 55.24,326.45 55.78,325.80 56.30,325.04 56.80,324.19 57.27,323.26 57.73,322.23 58.15,321.14 58.56,319.97 59.21,317.74 59.78,315.26 60.30,312.55 60.77,309.59 61.29,305.36 61.73,300.70 62.21,295.32 62.64,290.41 63.10,284.87 63.58,279.36 64.09,274.57 64.62,270.66 65.17,267.28 65.74,264.30 66.30,261.60 66.75,259.64 67.21,257.90 67.66,256.36 68.10,255.00 68.51,253.82 68.99,252.51 69.44,251.43 69.86,250.73 70.28,250.58 70.75,251.01 71.19,252.31 71.83,255.12 72.21,257.03 72.65,259.42 73.13,262.15 73.63,265.05 74.15,267.97 74.66,270.77 75.15,273.27 75.61,275.57 76.06,277.82 76.51,280.00 76.96,282.08 77.43,284.05 77.93,285.88 78.46,287.54 78.91,288.73 79.39,289.86 79.90,290.90 80.41,291.87 80.94,292.75 81.45,293.55 81.96,294.24 82.44,294.84 82.89,295.32 83.41,295.78 83.88,296.04 84.33,296.14 84.76,296.09 85.21,295.93 85.68,295.66 86.20,295.32 86.65,294.97 87.13,294.49 87.64,293.93 88.15,293.30 88.68,292.64 89.19,291.96 89.70,291.30 90.18,290.68 90.63,290.13 91.16,289.49 91.65,288.85 92.12,288.24 92.58,287.66 93.03,287.13 93.48,286.65 93.94,286.24 94.41,285.92 94.86,285.68 95.31,285.51 95.76,285.37 96.23,285.24 96.73,285.11 97.26,284.95 97.65,284.82 98.06,284.71 98.47,284.60 98.90,284.49 99.33,284.38 99.78,284.26 100.24,284.13 100.71,283.99 101.19,283.83 101.68,283.65 102.10,283.48 102.53,283.29 102.96,283.09 103.40,282.88 103.85,282.66 104.31,282.43 104.77,282.20 105.25,281.97 105.73,281.73 106.21,281.50 106.71,281.28 107.21,281.06 107.62,280.89 108.04,280.74 108.47,280.60 108.90,280.47 109.34,280.34 109.79,280.21 110.23,280.07 110.69,279.93 111.14,279.78 111.59,279.61 112.05,279.43 112.50,279.23 112.95,279.00 113.40,278.75 113.85,278.46 114.32,278.12 114.79,277.73 115.27,277.31 115.74,276.85 116.22,276.38 116.69,275.89 117.16,275.38 117.64,274.87 118.11,274.36 118.58,273.85 119.06,273.35 119.53,272.87 120.01,272.41 120.48,271.98 120.92,271.59 121.37,271.22 121.82,270.86 122.28,270.50 122.73,270.15 123.19,269.81 123.64,269.47 124.09,269.13 124.54,268.80 124.98,268.47 125.42,268.14 125.86,267.81 126.29,267.47 126.70,267.13 127.11,266.79 127.61,266.37 128.10,265.98 128.57,265.61 129.04,265.25 129.50,264.89 129.95,264.52 130.40,264.13 130.84,263.71 131.29,263.26 131.73,262.77 132.19,262.21 132.64,261.60 133.11,260.94 133.58,260.25 134.05,259.52 134.53,258.77 135.00,257.97 135.48,257.14 135.95,256.27 136.41,255.36 136.87,254.40 137.31,253.39 137.75,252.33 138.17,251.23 138.67,249.77 139.15,248.16 139.63,246.44 140.10,244.64 140.56,242.79 141.00,240.95 141.42,239.15 141.83,237.42 142.22,235.82 142.59,234.36 143.16,231.97 143.66,229.51 144.11,227.23 144.54,225.38 144.95,224.22 145.36,223.99 145.83,225.12 146.26,227.48 146.67,230.71 147.10,234.43 147.57,238.25 147.99,241.79 148.43,245.89 148.88,250.25 149.35,254.54 149.84,258.43 150.33,261.60 150.78,263.69 151.24,265.39 151.72,266.76 152.20,267.90 152.69,268.88 153.17,269.78 153.65,270.68 154.13,271.54 154.60,272.28 155.07,272.91 155.55,273.45 156.02,273.89 156.49,274.26 156.97,274.57 157.43,274.78 157.88,274.85 158.33,274.84 158.79,274.78 159.26,274.68 159.75,274.61 160.29,274.57 160.68,274.57 161.10,274.55 161.53,274.53 161.98,274.51 162.43,274.49 162.89,274.48 163.35,274.48 163.81,274.49 164.26,274.52 164.71,274.57 165.16,274.64 165.61,274.71 166.07,274.78 166.53,274.87 166.99,274.98 167.44,275.10 167.89,275.25 168.32,275.42 168.73,275.63 169.13,275.87 169.66,276.29 170.16,276.79 170.63,277.35 171.08,277.96 171.53,278.57 171.98,279.18 172.45,279.76 172.91,280.35 173.36,280.98 173.81,281.63 174.27,282.25 174.74,282.82 175.23,283.30 175.77,283.65 176.22,283.82 176.72,283.91 177.24,283.94 177.78,283.92 178.31,283.86 178.84,283.79 179.33,283.72 179.79,283.67 180.19,283.65 180.81,283.65 181.34,283.65 181.78,283.65 182.13,283.65 182.40,283.65" fill="none" stroke="#111" stroke-width="1.1" stroke-linejoin="round"/>
<rect x="191.1" y="310.2" width="55.6" height="37.4" fill="#fff" stroke="#aaa" stroke-width="0.6"/>
<line x1="192.5" y1="315.8" x2="205.5" y2="315.8" stroke="#111" stroke-width="1.1" />
<line x1="192.5" y1="324.2" x2="205.5" y2="324.2" stroke="#e0202a" stroke-width="0.9" stroke-dasharray="2.2,1,0.6,1"/>
<line x1="192.5" y1="333.3" x2="205.5" y2="333.3" stroke="#7070e0" stroke-width="0.9" />
<line x1="192.5" y1="342.4" x2="205.5" y2="342.4" stroke="#e040c0" stroke-width="1" stroke-dasharray="3,2.5"/>
<text x="206.8" y="318.4" font-size="7.8" fill="#222" text-anchor="start" font-family="'Liberation Serif',serif" textLength="37.8" lengthAdjust="spacingAndGlyphs">Experiment</text>
<text x="206.8" y="326.8" font-size="7.8" fill="#222" text-anchor="start" font-family="'Liberation Serif',serif" textLength="37.4" lengthAdjust="spacingAndGlyphs">Theoretical</text>
<text x="206.8" y="335.9" font-size="7.8" fill="#222" text-anchor="start" font-family="'Liberation Serif',serif" textLength="23.2" lengthAdjust="spacingAndGlyphs">Analog</text>
<text x="206.8" y="345" font-size="7.8" fill="#222" text-anchor="start" font-family="'Liberation Serif',serif" textLength="33.3" lengthAdjust="spacingAndGlyphs">Numerical</text>
<defs>
<linearGradient id="cyl" x1="0" y1="0" x2="1" y2="0">
<stop offset="0" stop-color="#404040"/><stop offset="0.2" stop-color="#585858"/><stop offset="0.55" stop-color="#626262"/><stop offset="1" stop-color="#464646"/></linearGradient>
<pattern id="porous" x="0" y="0" width="7" height="5" patternUnits="userSpaceOnUse"><rect width="7" height="5" fill="#b0b0b0"/><rect x="0.3" y="0.5" width="1" height="1" fill="#8a8a8a"/><rect x="3.8" y="1.9" width="1" height="0.9" fill="#d6d6d6"/><rect x="5.5" y="3.6" width="0.9" height="0.9" fill="#888"/><rect x="2" y="3.2" width="0.9" height="1" fill="#cfcfcf"/><rect x="4.6" y="0.2" width="0.8" height="0.8" fill="#959595"/><rect x="1.2" y="2.2" width="0.7" height="0.7" fill="#e0e0e0"/></pattern>
</defs>
<line x1="223.7" y1="157" x2="223.7" y2="264" stroke="#777" stroke-width="0.6" />
<polygon points="223.70,156.50 222.70,159.50 224.70,159.50" fill="#555" stroke="none" stroke-width="0" />
<text x="226.5" y="162.5" font-size="6" fill="#333" font-family="'Liberation Serif','Noto Serif CJK SC',serif" font-style="italic">z</text>
<path d="M200.5,177.5 L200.5,180.8 A23,8.5 0 0 0 246.5,180.8 L246.5,177.5 Z" fill="#858585"/>
<ellipse cx="223.5" cy="178" rx="23" ry="8.5" fill="url(#porous)" stroke="#777" stroke-width="0.4"/>
<text x="249.5" y="183.5" font-size="6.4" fill="#333" text-anchor="start" font-family="'Liberation Serif','Noto Serif CJK SC',serif" >Porous</text>
<path d="M200.1,208.1 L200.1,246 A23.8,12.6 0 0 0 247.7,246 L247.7,208.1 Z" fill="url(#cyl)" stroke="#2a2a2a" stroke-width="0.5"/>
<path d="M208.4,210 L208.4,235.6 A15.4,8.8 0 0 0 239.2,235.6 L239.2,210 Z" fill="#747474"/>
<ellipse cx="223.9" cy="208.1" rx="23.8" ry="15.7" fill="#cdcdcd" stroke="#2a2a2a" stroke-width="0.7"/>
<ellipse cx="224" cy="208.5" rx="15.5" ry="11.2" fill="#5a5a5a" stroke="#2a2a2a" stroke-width="0.5"/>
<ellipse cx="224.2" cy="208.8" rx="10.2" ry="7.3" fill="#d4d4d4" stroke="#333" stroke-width="0.5"/>
<ellipse cx="223.6" cy="235.6" rx="15.4" ry="8.8" fill="none" stroke="#151515" stroke-width="1.1" stroke-dasharray="3,1.8"/>
<line x1="208.5" y1="214" x2="208.5" y2="235.6" stroke="#1a1a1a" stroke-width="0.8" stroke-dasharray="2.4,1.6"/>
<line x1="239.2" y1="214" x2="239.2" y2="235.6" stroke="#1a1a1a" stroke-width="0.8" stroke-dasharray="2.4,1.6"/>
<line x1="195" y1="209.3" x2="274" y2="209.3" stroke="#777" stroke-width="0.6" />
<polygon points="275.00,209.30 272.00,208.30 272.00,210.30" fill="#555" stroke="none" stroke-width="0" />
<text x="276" y="212" font-size="6" fill="#333" font-family="'Liberation Serif','Noto Serif CJK SC',serif" font-style="italic">r</text>
<line x1="224.2" y1="208.8" x2="228.7" y2="214.42916512459885" stroke="#888" stroke-width="0.3" />
<line x1="224.2" y1="208.8" x2="231.57236839860093" y2="212.52824683628182" stroke="#888" stroke-width="0.3" />
<line x1="224.2" y1="208.8" x2="233.06326977710987" y2="209.92871315483507" stroke="#888" stroke-width="0.3" />
<line x1="224.2" y1="208.8" x2="232.65723358707316" y2="206.57686906838316" stroke="#888" stroke-width="0.3" />
<line x1="224.2" y1="208.8" x2="228.7" y2="203.17083487540117" stroke="#888" stroke-width="0.3" />
<line x1="224.2" y1="208.8" x2="222.63716640099761" y2="202.39874960542065" stroke="#888" stroke-width="0.3" />
<line x1="224.2" y1="208.8" x2="217.3056000119292" y2="204.6218805370375" stroke="#888" stroke-width="0.3" />
<line x1="224.2" y1="208.8" x2="241" y2="198" stroke="#333" stroke-width="0.5" />
<text x="242" y="199.3" font-size="7" fill="#333" font-family="'Liberation Serif','Noto Serif CJK SC',serif" font-style="italic">R</text>
<text x="215.6" y="210.3" font-size="6.5" fill="#333" font-family="'Liberation Serif','Noto Serif CJK SC',serif" font-style="italic">a</text>
<line x1="248.5" y1="211.2" x2="262" y2="211.2" stroke="#666" stroke-width="0.4" />
<line x1="248.5" y1="233" x2="254" y2="233" stroke="#666" stroke-width="0.4" />
<line x1="248.5" y1="246.5" x2="262" y2="246.5" stroke="#666" stroke-width="0.4" />
<line x1="252" y1="211.5" x2="252" y2="232.8" stroke="#555" stroke-width="0.45" />
<line x1="258.5" y1="211.5" x2="258.5" y2="246.2" stroke="#555" stroke-width="0.45" />
<text x="248.8" y="225" font-size="6.5" fill="#333" font-family="'Liberation Serif','Noto Serif CJK SC',serif" font-style="italic">h<tspan font-size="3.6" dy="1">a</tspan></text>
<text x="255.5" y="231.5" font-size="6.5" fill="#333" font-family="'Liberation Serif','Noto Serif CJK SC',serif" font-style="italic">h<tspan font-size="3.6" dy="1">b</tspan></text>
<text x="292.6" y="167.6" font-size="11" fill="#1a1a1a" text-anchor="start" font-family="'Liberation Serif','Noto Serif CJK SC',serif" font-weight="bold">(c)</text>
<defs>
<linearGradient id="slabL" x1="0" y1="0" x2="0" y2="1"><stop offset="0" stop-color="#d6ccbc"/><stop offset="1" stop-color="#c4b9a6"/></linearGradient>
<linearGradient id="gold" x1="0" y1="0" x2="1" y2="0"><stop offset="0" stop-color="#d8a43c"/><stop offset="0.12" stop-color="#e8bf62"/><stop offset="0.5" stop-color="#f0cc78"/><stop offset="1" stop-color="#e6b860"/></linearGradient>
</defs>
<defs><clipPath id="slabclip"><polygon points="322.8,185.3 366,175.8 420,194 420,240 322.8,240"/></clipPath></defs><g clip-path="url(#slabclip)">
<rect x="322.8" y="184.6" width="7.1" height="19.2" fill="#d2c8b7"/>
<rect x="322.8" y="184.6" width="1.5" height="19.2" fill="#a89c88"/>
<rect x="324.3" y="184.6" width="3.8" height="19.2" fill="#ded5c5"/>
<rect x="329.9" y="187.7" width="7.1" height="19.2" fill="#d2c8b7"/>
<rect x="329.9" y="187.7" width="1.5" height="19.2" fill="#a89c88"/>
<rect x="331.4" y="187.7" width="3.8" height="19.2" fill="#ded5c5"/>
<rect x="337.0" y="190.7" width="7.1" height="19.2" fill="#d2c8b7"/>
<rect x="337.0" y="190.7" width="1.5" height="19.2" fill="#a89c88"/>
<rect x="338.5" y="190.7" width="3.8" height="19.2" fill="#ded5c5"/>
<rect x="344.1" y="193.8" width="7.1" height="19.2" fill="#d2c8b7"/>
<rect x="344.1" y="193.8" width="1.5" height="19.2" fill="#a89c88"/>
<rect x="345.6" y="193.8" width="3.8" height="19.2" fill="#ded5c5"/>
<rect x="351.2" y="196.8" width="7.1" height="19.2" fill="#d2c8b7"/>
<rect x="351.2" y="196.8" width="1.5" height="19.2" fill="#a89c88"/>
<rect x="352.7" y="196.8" width="3.8" height="19.2" fill="#ded5c5"/>
<rect x="358.3" y="199.9" width="7.1" height="19.2" fill="#d2c8b7"/>
<rect x="358.3" y="199.9" width="1.5" height="19.2" fill="#a89c88"/>
<rect x="359.8" y="199.9" width="3.8" height="19.2" fill="#ded5c5"/>
<rect x="365.4" y="202.9" width="7.1" height="19.2" fill="#d2c8b7"/>
<rect x="365.4" y="202.9" width="1.5" height="19.2" fill="#a89c88"/>
<rect x="366.9" y="202.9" width="3.8" height="19.2" fill="#ded5c5"/>
<rect x="372.5" y="204.4" width="7.1" height="19.2" fill="#d2c8b7"/>
<rect x="372.5" y="204.4" width="1.5" height="19.2" fill="#a89c88"/>
<rect x="374.0" y="204.4" width="3.8" height="19.2" fill="#ded5c5"/>
<rect x="379.6" y="205.2" width="7.1" height="19.2" fill="#d2c8b7"/>
<rect x="379.6" y="205.2" width="1.5" height="19.2" fill="#a89c88"/>
<rect x="381.1" y="205.2" width="3.8" height="19.2" fill="#ded5c5"/>
<rect x="386.7" y="206.0" width="7.1" height="19.2" fill="#d2c8b7"/>
<rect x="386.7" y="206.0" width="1.5" height="19.2" fill="#a89c88"/>
<rect x="388.2" y="206.0" width="3.8" height="19.2" fill="#ded5c5"/>
<rect x="393.8" y="206.8" width="7.1" height="19.2" fill="#d2c8b7"/>
<rect x="393.8" y="206.8" width="1.5" height="19.2" fill="#a89c88"/>
<rect x="395.3" y="206.8" width="3.8" height="19.2" fill="#ded5c5"/>
<rect x="401.5" y="202.9" width="6.2" height="19.0" fill="#d6ccbb"/>
<rect x="401.5" y="202.9" width="1.3" height="19.0" fill="#a89c88"/>
<rect x="402.8" y="202.9" width="3.2" height="19.0" fill="#e0d8c9"/>
<rect x="407.7" y="197.7" width="6.2" height="19.0" fill="#d6ccbb"/>
<rect x="407.7" y="197.7" width="1.3" height="19.0" fill="#a89c88"/>
<rect x="409.0" y="197.7" width="3.2" height="19.0" fill="#e0d8c9"/>
<rect x="413.9" y="192.6" width="6.1" height="19.0" fill="#d6ccbb"/>
<rect x="413.9" y="192.6" width="1.3" height="19.0" fill="#a89c88"/>
<rect x="415.2" y="192.6" width="3.2" height="19.0" fill="#e0d8c9"/>
</g>
<polygon points="322.80,185.30 366.00,175.80 420.00,194.00 401.50,209.50 371.00,206.00" fill="#e3dacb" stroke="none" stroke-width="0" />
<ellipse cx="330.6" cy="186.6" rx="1.15" ry="0.8" fill="#86735e"/>
<ellipse cx="336.4" cy="185.3" rx="1.15" ry="0.8" fill="#86735e"/>
<ellipse cx="342.1" cy="184.1" rx="1.15" ry="0.8" fill="#86735e"/>
<ellipse cx="347.9" cy="182.8" rx="1.15" ry="0.8" fill="#86735e"/>
<ellipse cx="353.6" cy="181.5" rx="1.15" ry="0.8" fill="#86735e"/>
<ellipse cx="359.4" cy="180.3" rx="1.15" ry="0.8" fill="#86735e"/>
<ellipse cx="365.2" cy="179.0" rx="1.15" ry="0.8" fill="#86735e"/>
<ellipse cx="342.8" cy="189.9" rx="1.15" ry="0.8" fill="#86735e"/>
<ellipse cx="348.5" cy="188.7" rx="1.15" ry="0.8" fill="#86735e"/>
<ellipse cx="354.3" cy="187.4" rx="1.15" ry="0.8" fill="#86735e"/>
<ellipse cx="360.0" cy="186.1" rx="1.15" ry="0.8" fill="#86735e"/>
<ellipse cx="365.8" cy="184.9" rx="1.15" ry="0.8" fill="#86735e"/>
<ellipse cx="371.6" cy="183.6" rx="1.15" ry="0.8" fill="#86735e"/>
<ellipse cx="377.3" cy="182.3" rx="1.15" ry="0.8" fill="#86735e"/>
<ellipse cx="349.1" cy="194.6" rx="1.15" ry="0.8" fill="#86735e"/>
<ellipse cx="354.9" cy="193.3" rx="1.15" ry="0.8" fill="#86735e"/>
<ellipse cx="360.7" cy="192.0" rx="1.15" ry="0.8" fill="#86735e"/>
<ellipse cx="366.4" cy="190.8" rx="1.15" ry="0.8" fill="#86735e"/>
<ellipse cx="372.2" cy="189.5" rx="1.15" ry="0.8" fill="#86735e"/>
<ellipse cx="377.9" cy="188.2" rx="1.15" ry="0.8" fill="#86735e"/>
<ellipse cx="383.7" cy="187.0" rx="1.15" ry="0.8" fill="#86735e"/>
<ellipse cx="389.5" cy="185.7" rx="1.15" ry="0.8" fill="#86735e"/>
<ellipse cx="361.3" cy="197.9" rx="1.15" ry="0.8" fill="#86735e"/>
<ellipse cx="367.1" cy="196.6" rx="1.15" ry="0.8" fill="#86735e"/>
<ellipse cx="372.8" cy="195.4" rx="1.15" ry="0.8" fill="#86735e"/>
<ellipse cx="378.6" cy="194.1" rx="1.15" ry="0.8" fill="#86735e"/>
<ellipse cx="384.3" cy="192.8" rx="1.15" ry="0.8" fill="#86735e"/>
<ellipse cx="390.1" cy="191.6" rx="1.15" ry="0.8" fill="#86735e"/>
<ellipse cx="395.9" cy="190.3" rx="1.15" ry="0.8" fill="#86735e"/>
<ellipse cx="367.7" cy="202.5" rx="1.15" ry="0.8" fill="#86735e"/>
<ellipse cx="373.4" cy="201.3" rx="1.15" ry="0.8" fill="#86735e"/>
<ellipse cx="379.2" cy="200.0" rx="1.15" ry="0.8" fill="#86735e"/>
<ellipse cx="385.0" cy="198.7" rx="1.15" ry="0.8" fill="#86735e"/>
<ellipse cx="390.7" cy="197.5" rx="1.15" ry="0.8" fill="#86735e"/>
<ellipse cx="396.5" cy="196.2" rx="1.15" ry="0.8" fill="#86735e"/>
<ellipse cx="402.2" cy="194.9" rx="1.15" ry="0.8" fill="#86735e"/>
<ellipse cx="408.0" cy="193.7" rx="1.15" ry="0.8" fill="#86735e"/>
<ellipse cx="385.6" cy="204.6" rx="1.15" ry="0.8" fill="#86735e"/>
<ellipse cx="391.3" cy="203.3" rx="1.15" ry="0.8" fill="#86735e"/>
<ellipse cx="397.1" cy="202.1" rx="1.15" ry="0.8" fill="#86735e"/>
<ellipse cx="402.9" cy="200.8" rx="1.15" ry="0.8" fill="#86735e"/>
<ellipse cx="408.6" cy="199.5" rx="1.15" ry="0.8" fill="#86735e"/>
<text x="330.6" y="179.1" font-size="9.6" fill="#222" text-anchor="start" font-family="'Liberation Serif','Noto Serif CJK SC',serif" textLength="20" lengthAdjust="spacingAndGlyphs">Water</text>
<text x="332" y="221.2" font-size="9.6" fill="#222" text-anchor="start" font-family="'Liberation Serif','Noto Serif CJK SC',serif" textLength="17" lengthAdjust="spacingAndGlyphs">Rigid</text>
<text x="326.2" y="231.2" font-size="9.6" fill="#222" text-anchor="start" font-family="'Liberation Serif','Noto Serif CJK SC',serif" textLength="27.3" lengthAdjust="spacingAndGlyphs">Backing</text>
<line x1="368" y1="161.5" x2="368" y2="184" stroke="#111" stroke-width="1" />
<polygon points="368.00,188.00 365.80,182.50 370.20,182.50" fill="#111" stroke="none" stroke-width="0" />
<line x1="363.9" y1="166.3" x2="372.7" y2="166.3" stroke="#111" stroke-width="0.9" />
<line x1="363.9" y1="169.3" x2="372.7" y2="169.3" stroke="#111" stroke-width="0.9" />
<line x1="363.9" y1="172.3" x2="372.7" y2="172.3" stroke="#111" stroke-width="0.9" />
<line x1="388.6" y1="196" x2="388.6" y2="175" stroke="#111" stroke-width="1" />
<polygon points="388.60,171.30 386.40,176.80 390.80,176.80" fill="#111" stroke="none" stroke-width="0" />
<line x1="400.8" y1="210" x2="400.8" y2="228.5" stroke="#111" stroke-width="0.7" />
<line x1="398.5" y1="209.8" x2="403" y2="209.8" stroke="#111" stroke-width="0.6" />
<line x1="398.5" y1="228.5" x2="403" y2="228.5" stroke="#111" stroke-width="0.6" />
<text x="405" y="221.5" font-size="8.5" fill="#222" text-anchor="start" font-family="'Liberation Serif','Noto Serif CJK SC',serif" font-style="italic">H</text>
<path d="M420.5,197 L424,193.8 L433,193.8 L436.5,197 L436.5,214.5 L433,217.6 L424,217.6 L420.5,214.5 Z" fill="#f2efe9" stroke="#7a7468" stroke-width="0.7"/>
<path d="M420.5,197 L424,200 L433,200 L436.5,197 M424,200 L424,217.6 M433,200 L433,217.6 M420.5,214.5 L424,211.8 L433,211.8 L436.5,214.5" fill="none" stroke="#8a8478" stroke-width="0.5"/>
<ellipse cx="428.5" cy="197" rx="2.2" ry="1" fill="#a09480"/>
<line x1="434" y1="194.6" x2="444" y2="167.5" stroke="#333" stroke-width="0.6" />
<line x1="434" y1="216.5" x2="443.5" y2="220" stroke="#333" stroke-width="0.6" />
<polygon points="444.20,166.80 442.60,170.00 444.60,170.40" fill="#333" stroke="none" stroke-width="0" />
<polygon points="444.20,220.20 441.00,218.60 440.80,220.80" fill="#333" stroke="none" stroke-width="0" />
<defs><linearGradient id="gold2" x1="0" y1="0" x2="1" y2="0">
<stop offset="0" stop-color="#c8bc9c"/><stop offset="0.03" stop-color="#d4a850"/><stop offset="0.12" stop-color="#e2bc66"/><stop offset="0.2" stop-color="#eed488"/><stop offset="0.5" stop-color="#eed488"/><stop offset="0.72" stop-color="#e2b860"/><stop offset="1" stop-color="#dcb060"/></linearGradient>
<radialGradient id="peach" cx="0.5" cy="0.5" r="0.5"><stop offset="0" stop-color="#fbd49a"/><stop offset="0.7" stop-color="#f6c88a" stop-opacity="0.8"/><stop offset="1" stop-color="#f0c070" stop-opacity="0"/></radialGradient></defs>
<polygon points="443.20,168.50 478.70,171.50 478.70,228.00 443.20,224.20" fill="url(#gold2)" stroke="none" stroke-width="0" />
<ellipse cx="461" cy="217" rx="13" ry="7.5" fill="url(#peach)"/>
<polygon points="478.70,171.50 487.20,173.70 487.20,223.50 478.70,228.00" fill="#bcb8b0" stroke="none" stroke-width="0" />
<polygon points="443.20,168.50 452.00,164.50 462.00,162.40 481.50,162.40 485.00,166.00 487.20,173.70 478.70,171.50" fill="#d9d4ca" stroke="none" stroke-width="0" />
<line x1="443.2" y1="168.5" x2="443.2" y2="224.2" stroke="#8a8070" stroke-width="0.5" />
<rect x="461.2" y="167.6" width="7.4" height="38.4" fill="#a82414"/>
<rect x="465" y="167.6" width="3.6" height="38.4" fill="#861a0c"/>
<circle cx="465" cy="208.6" r="3.9" fill="#f8e4aa"/>
<line x1="461.5" y1="161.2" x2="482.2" y2="161.2" stroke="#111" stroke-width="0.7" />
<polygon points="461.50,161.20 464.38,159.94 464.38,162.46" fill="#111" stroke="none" stroke-width="0" />
<polygon points="482.20,161.20 479.32,162.46 479.32,159.94" fill="#111" stroke="none" stroke-width="0" />
<line x1="461.5" y1="158.5" x2="461.5" y2="164" stroke="#111" stroke-width="0.4" />
<line x1="482.2" y1="158.5" x2="482.2" y2="164" stroke="#111" stroke-width="0.4" />
<text x="470.5" y="159" font-size="8" fill="#222" font-family="'Liberation Serif','Noto Serif CJK SC',serif" font-style="italic">a</text>
<line x1="449.5" y1="160.5" x2="449.5" y2="166.8" stroke="#111" stroke-width="0.6" />
<polygon points="449.50,167.30 448.45,164.90 450.55,164.90" fill="#111" stroke="none" stroke-width="0" />
<line x1="449.5" y1="172.6" x2="449.5" y2="177.5" stroke="#111" stroke-width="0.6" />
<polygon points="449.50,172.20 450.55,174.60 448.45,174.60" fill="#111" stroke="none" stroke-width="0" />
<text x="452" y="174.3" font-size="7.2" fill="#222" font-family="'Liberation Serif','Noto Serif CJK SC',serif" font-style="italic">t<tspan font-size="4.6" dy="1.2">1</tspan></text>
<line x1="460.3" y1="169.3" x2="460.3" y2="205" stroke="#111" stroke-width="0.6" />
<polygon points="460.30,169.00 461.28,171.24 459.32,171.24" fill="#111" stroke="none" stroke-width="0" />
<polygon points="460.30,205.30 459.32,203.06 461.28,203.06" fill="#111" stroke="none" stroke-width="0" />
<text x="456.4" y="189.5" font-size="8" fill="#222" font-family="'Liberation Serif','Noto Serif CJK SC',serif" font-style="italic">l</text>
<line x1="440.7" y1="199.2" x2="444" y2="199.2" stroke="#111" stroke-width="0.6" />
<polygon points="444.40,199.20 442.16,200.18 442.16,198.22" fill="#111" stroke="none" stroke-width="0" />
<line x1="448.8" y1="199.2" x2="454.6" y2="199.2" stroke="#111" stroke-width="0.6" />
<polygon points="448.40,199.20 450.64,198.22 450.64,200.18" fill="#111" stroke="none" stroke-width="0" />
<text x="446.5" y="196" font-size="7.2" fill="#222" font-family="'Liberation Serif','Noto Serif CJK SC',serif" font-style="italic">t<tspan font-size="4.6" dy="1.2">2</tspan></text>
<line x1="458" y1="208.5" x2="461" y2="208.5" stroke="#111" stroke-width="0.6" />
<polygon points="461.40,208.50 459.16,209.48 459.16,207.52" fill="#111" stroke="none" stroke-width="0" />
<line x1="468.8" y1="208.5" x2="474.2" y2="208.5" stroke="#111" stroke-width="0.6" />
<polygon points="468.40,208.50 470.64,207.52 470.64,209.48" fill="#111" stroke="none" stroke-width="0" />
<text x="462.5" y="216.6" font-size="8" fill="#222" font-family="'Liberation Serif','Noto Serif CJK SC',serif" font-style="italic">d</text>
<line x1="454.6" y1="213" x2="454.6" y2="216.2" stroke="#111" stroke-width="0.6" />
<polygon points="454.60,216.80 453.62,214.56 455.58,214.56" fill="#111" stroke="none" stroke-width="0" />
<line x1="454.6" y1="221.8" x2="454.6" y2="226" stroke="#111" stroke-width="0.6" />
<polygon points="454.60,221.30 455.58,223.54 453.62,223.54" fill="#111" stroke="none" stroke-width="0" />
<circle cx="452.5" cy="219" r="0.9" fill="#111"/>
<text x="456.8" y="223.6" font-size="7.2" fill="#222" font-family="'Liberation Serif','Noto Serif CJK SC',serif" font-style="italic">t<tspan font-size="4.6" dy="1.2">3</tspan></text>
<line x1="482.3" y1="176.5" x2="482.3" y2="226.6" stroke="#222" stroke-width="0.7" />
<polygon points="482.30,176.20 483.35,178.60 481.25,178.60" fill="#111" stroke="none" stroke-width="0" />
<polygon points="482.30,227.00 481.25,224.60 483.35,224.60" fill="#111" stroke="none" stroke-width="0" />
<text x="484" y="204" font-size="8" fill="#222" font-family="'Liberation Serif','Noto Serif CJK SC',serif" font-style="italic">h</text>
<line x1="458.5" y1="231" x2="469.5" y2="221.5" stroke="#111" stroke-width="1.2" />
<polygon points="472.20,218.80 465.80,220.60 469.80,225.00" fill="#111" stroke="none" stroke-width="0" />
<text x="465.3" y="238.6" font-size="11.6" fill="#222" text-anchor="middle" font-family="'Liberation Serif','Noto Serif CJK SC',serif" >Rubber Coating</text>
<text x="290.8" y="252.6" font-size="11.3" fill="#1a1a1a" stroke="#1a1a1a" stroke-width="0.22" font-family="'Liberation Serif','Noto Serif CJK SC',serif" textLength="102.8" lengthAdjust="spacingAndGlyphs">Blue curves and circles</text>
<text x="393.5" y="252.6" font-size="11.3" fill="#1a1a1a" text-anchor="start" font-family="'Liberation Serif','Noto Serif CJK SC',serif" >：</text>
<text x="408" y="252.6" font-size="11.3" fill="#1a1a1a" stroke="#1a1a1a" stroke-width="0.22" font-family="'Liberation Serif','Noto Serif CJK SC',serif" textLength="84.2" lengthAdjust="spacingAndGlyphs">the parallel sample.</text>
<text x="290.8" y="266.9" font-size="11.3" fill="#1a1a1a" stroke="#1a1a1a" stroke-width="0.22" font-family="'Liberation Serif','Noto Serif CJK SC',serif" textLength="108" lengthAdjust="spacingAndGlyphs">Rainbow colored curves</text>
<text x="398.8" y="266.9" font-size="11.3" fill="#1a1a1a" text-anchor="start" font-family="'Liberation Serif','Noto Serif CJK SC',serif" >：</text>
<text x="409.4" y="266.9" font-size="11.3" fill="#1a1a1a" stroke="#1a1a1a" stroke-width="0.22" font-family="'Liberation Serif','Noto Serif CJK SC',serif" textLength="103.3" lengthAdjust="spacingAndGlyphs">the 16 units, and some</text>
<text x="290.8" y="280.6" font-size="11.3" fill="#1a1a1a" stroke="#1a1a1a" stroke-width="0.22" font-family="'Liberation Serif','Noto Serif CJK SC',serif" textLength="100.5" lengthAdjust="spacingAndGlyphs">of them are coincident.</text>
<defs><clipPath id="cclip"><rect x="351.1" y="286" width="127.2" height="71"/></clipPath></defs>
<g clip-path="url(#cclip)"><polyline points="351.1,353.5 351.4,353.4 351.7,353.3 352.1,353.1 352.4,353.0 352.7,352.9 353.0,352.7 353.3,352.6 353.6,352.4 354.0,352.2 354.3,352.0 354.6,351.8 354.9,351.6 355.2,351.4 355.6,351.1 355.9,350.9 356.2,350.6 356.5,350.3 356.8,350.0 357.1,349.7 357.5,349.3 357.8,349.0 358.1,348.6 358.4,348.1 358.7,347.7 359.1,347.2 359.4,346.6 359.7,346.1 360.0,345.4 360.3,344.8 360.6,344.0 361.0,343.2 361.3,342.4 361.6,341.4 361.9,340.4 362.2,339.3 362.5,338.1 362.9,336.8 363.2,335.3 363.5,333.7 363.8,332.0 364.1,330.1 364.5,328.1 364.8,325.8 365.1,323.4 365.4,320.8 365.7,318.0 366.0,315.1 366.4,312.0 366.7,308.7 367.0,305.5 367.3,302.2 367.6,299.1 368.0,296.2 368.3,293.6 368.6,291.6 368.9,290.1 369.2,289.4 369.5,289.4 369.9,290.1 370.2,291.6 370.5,293.6 370.8,296.2 371.1,299.1 371.5,302.2 371.8,305.5 372.1,308.7 372.4,312.0 372.7,315.1 373.0,318.0 373.4,320.8 373.7,323.4 374.0,325.8 374.3,328.1 374.6,330.1 375.0,332.0 375.3,333.7 375.6,335.3 375.9,336.8 376.2,338.1 376.5,339.3 376.9,340.4 377.2,341.4 377.5,342.4 377.8,343.2 378.1,344.0 378.4,344.8 378.8,345.4 379.1,346.1 379.4,346.6 379.7,347.2 380.0,347.7 380.4,348.1 380.7,348.6 381.0,349.0 381.3,349.3 381.6,349.7 381.9,350.0 382.3,350.3 382.6,350.6 382.9,350.9 383.2,351.1 383.5,351.4 383.9,351.6 384.2,351.8 384.5,352.0 384.8,352.2 385.1,352.4 385.4,352.6 385.8,352.7 386.1,352.9 386.4,353.0 386.7,353.1 387.0,353.3 387.4,353.4 387.7,353.5 388.0,353.6 388.3,353.7 388.6,353.8 388.9,353.9 389.3,354.0 389.6,354.1 389.9,354.2 390.2,354.3 390.5,354.4 390.9,354.4 391.2,354.5 391.5,354.6 391.8,354.6 392.1,354.7 392.4,354.8 392.8,354.8 393.1,354.9 393.4,354.9 393.7,355.0 394.0,355.0 394.3,355.1 394.7,355.1 395.0,355.2 395.3,355.2 395.6,355.3 395.9,355.3 396.3,355.3 396.6,355.4 396.9,355.4 397.2,355.5 397.5,355.5 397.8,355.5 398.2,355.5 398.5,355.6 398.8,355.6 399.1,355.6 399.4,355.7 399.8,355.7 400.1,355.7 400.4,355.7 400.7,355.8 401.0,355.8 401.3,355.8 401.7,355.8 402.0,355.9 402.3,355.9 402.6,355.9 402.9,355.9 403.3,355.9 403.6,356.0 403.9,356.0 404.2,356.0 404.5,356.0 404.8,356.0 405.2,356.1 405.5,356.1 405.8,356.1 406.1,356.1 406.4,356.1 406.8,356.1 407.1,356.1 407.4,356.2 407.7,356.2 408.0,356.2 408.3,356.2 408.7,356.2 409.0,356.2 409.3,356.2 409.6,356.2 409.9,356.3 410.2,356.3 410.6,356.3 410.9,356.3 411.2,356.3 411.5,356.3 411.8,356.3 412.2,356.3 412.5,356.3 412.8,356.4 413.1,356.4 413.4,356.4 413.7,356.4 414.1,356.4 414.4,356.4 414.7,356.4 415.0,356.4 415.3,356.4 415.7,356.4 416.0,356.4 416.3,356.4 416.6,356.5 416.9,356.5 417.2,356.5 417.6,356.5 417.9,356.5 418.2,356.5 418.5,356.5 418.8,356.5 419.2,356.5 419.5,356.5 419.8,356.5 420.1,356.5 420.4,356.5 420.7,356.5 421.1,356.5 421.4,356.5 421.7,356.6 422.0,356.6 422.3,356.6 422.7,356.6 423.0,356.6 423.3,356.6 423.6,356.6 423.9,356.6 424.2,356.6 424.6,356.6 424.9,356.6 425.2,356.6 425.5,356.6 425.8,356.6 426.1,356.6 426.5,356.6 426.8,356.6 427.1,356.6 427.4,356.6 427.7,356.6 428.1,356.6 428.4,356.6 428.7,356.7 429.0,356.7 429.3,356.7 429.6,356.7 430.0,356.7 430.3,356.7 430.6,356.7 430.9,356.7 431.2,356.7 431.6,356.7 431.9,356.7 432.2,356.7 432.5,356.7 432.8,356.7 433.1,356.7 433.5,356.7 433.8,356.7 434.1,356.7 434.4,356.7 434.7,356.7 435.1,356.7 435.4,356.7 435.7,356.7 436.0,356.7 436.3,356.7 436.6,356.7 437.0,356.7 437.3,356.7 437.6,356.7 437.9,356.7 438.2,356.7 438.6,356.7 438.9,356.7 439.2,356.7 439.5,356.8 439.8,356.8 440.1,356.8 440.5,356.8 440.8,356.8 441.1,356.8 441.4,356.8 441.7,356.8 442.0,356.8 442.4,356.8 442.7,356.8 443.0,356.8 443.3,356.8 443.6,356.8 444.0,356.8 444.3,356.8 444.6,356.8 444.9,356.8 445.2,356.8 445.5,356.8 445.9,356.8 446.2,356.8 446.5,356.8 446.8,356.8 447.1,356.8 447.5,356.8 447.8,356.8 448.1,356.8 448.4,356.8 448.7,356.8 449.0,356.8 449.4,356.8 449.7,356.8 450.0,356.8 450.3,356.8 450.6,356.8 451.0,356.8 451.3,356.8 451.6,356.8 451.9,356.8 452.2,356.8 452.5,356.8 452.9,356.8 453.2,356.8 453.5,356.8 453.8,356.8 454.1,356.8 454.4,356.8 454.8,356.8 455.1,356.8 455.4,356.8 455.7,356.8 456.0,356.8 456.4,356.8 456.7,356.8 457.0,356.8 457.3,356.8 457.6,356.8 457.9,356.8 458.3,356.8 458.6,356.8 458.9,356.8 459.2,356.8 459.5,356.8 459.9,356.9 460.2,356.9 460.5,356.9 460.8,356.9 461.1,356.9 461.4,356.9 461.8,356.9 462.1,356.9 462.4,356.9 462.7,356.9 463.0,356.9 463.4,356.9 463.7,356.9 464.0,356.9 464.3,356.9 464.6,356.9 464.9,356.9 465.3,356.9 465.6,356.9 465.9,356.9 466.2,356.9 466.5,356.9 466.9,356.9 467.2,356.9 467.5,356.9 467.8,356.9 468.1,356.9 468.4,356.9 468.8,356.9 469.1,356.9 469.4,356.9 469.7,356.9 470.0,356.9 470.4,356.9 470.7,356.9 471.0,356.9 471.3,356.9 471.6,356.9 471.9,356.9 472.3,356.9 472.6,356.9 472.9,356.9 473.2,356.9 473.5,356.9 473.8,356.9 474.2,356.9 474.5,356.9 474.8,356.9 475.1,356.9 475.4,356.9 475.8,356.9 476.1,356.9 476.4,356.9 476.7,356.9 477.0,356.9 477.3,356.9 477.7,356.9 478.0,356.9 478.3,356.9" fill="none" stroke="#ccc365" stroke-width="0.7" opacity="0.9"/><polyline points="351.1,354.0 351.4,353.9 351.7,353.8 352.1,353.7 352.4,353.6 352.7,353.5 353.0,353.4 353.3,353.3 353.6,353.1 354.0,353.0 354.3,352.9 354.6,352.7 354.9,352.6 355.2,352.4 355.6,352.2 355.9,352.1 356.2,351.9 356.5,351.7 356.8,351.5 357.1,351.2 357.5,351.0 357.8,350.8 358.1,350.5 358.4,350.2 358.7,349.9 359.1,349.6 359.4,349.2 359.7,348.9 360.0,348.5 360.3,348.1 360.6,347.6 361.0,347.2 361.3,346.6 361.6,346.1 361.9,345.5 362.2,344.9 362.5,344.2 362.9,343.4 363.2,342.6 363.5,341.7 363.8,340.8 364.1,339.8 364.5,338.6 364.8,337.4 365.1,336.1 365.4,334.7 365.7,333.1 366.0,331.4 366.4,329.6 366.7,327.6 367.0,325.4 367.3,323.1 367.6,320.6 368.0,317.9 368.3,315.1 368.6,312.1 368.9,309.0 369.2,305.9 369.5,302.8 369.9,299.8 370.2,296.9 370.5,294.4 370.8,292.2 371.1,290.6 371.5,289.6 371.8,289.3 372.1,289.6 372.4,290.6 372.7,292.2 373.0,294.4 373.4,296.9 373.7,299.8 374.0,302.8 374.3,305.9 374.6,309.0 375.0,312.1 375.3,315.1 375.6,317.9 375.9,320.6 376.2,323.1 376.5,325.4 376.9,327.6 377.2,329.6 377.5,331.4 377.8,333.1 378.1,334.7 378.4,336.1 378.8,337.4 379.1,338.6 379.4,339.8 379.7,340.8 380.0,341.7 380.4,342.6 380.7,343.4 381.0,344.2 381.3,344.9 381.6,345.5 381.9,346.1 382.3,346.6 382.6,347.2 382.9,347.6 383.2,348.1 383.5,348.5 383.9,348.9 384.2,349.2 384.5,349.6 384.8,349.9 385.1,350.2 385.4,350.5 385.8,350.8 386.1,351.0 386.4,351.2 386.7,351.5 387.0,351.7 387.4,351.9 387.7,352.1 388.0,352.2 388.3,352.4 388.6,352.6 388.9,352.7 389.3,352.9 389.6,353.0 389.9,353.1 390.2,353.3 390.5,353.4 390.9,353.5 391.2,353.6 391.5,353.7 391.8,353.8 392.1,353.9 392.4,354.0 392.8,354.1 393.1,354.2 393.4,354.2 393.7,354.3 394.0,354.4 394.3,354.5 394.7,354.5 395.0,354.6 395.3,354.7 395.6,354.7 395.9,354.8 396.3,354.8 396.6,354.9 396.9,354.9 397.2,355.0 397.5,355.0 397.8,355.1 398.2,355.1 398.5,355.2 398.8,355.2 399.1,355.2 399.4,355.3 399.8,355.3 400.1,355.4 400.4,355.4 400.7,355.4 401.0,355.5 401.3,355.5 401.7,355.5 402.0,355.6 402.3,355.6 402.6,355.6 402.9,355.6 403.3,355.7 403.6,355.7 403.9,355.7 404.2,355.7 404.5,355.8 404.8,355.8 405.2,355.8 405.5,355.8 405.8,355.9 406.1,355.9 406.4,355.9 406.8,355.9 407.1,355.9 407.4,356.0 407.7,356.0 408.0,356.0 408.3,356.0 408.7,356.0 409.0,356.0 409.3,356.1 409.6,356.1 409.9,356.1 410.2,356.1 410.6,356.1 410.9,356.1 411.2,356.1 411.5,356.2 411.8,356.2 412.2,356.2 412.5,356.2 412.8,356.2 413.1,356.2 413.4,356.2 413.7,356.2 414.1,356.3 414.4,356.3 414.7,356.3 415.0,356.3 415.3,356.3 415.7,356.3 416.0,356.3 416.3,356.3 416.6,356.3 416.9,356.3 417.2,356.4 417.6,356.4 417.9,356.4 418.2,356.4 418.5,356.4 418.8,356.4 419.2,356.4 419.5,356.4 419.8,356.4 420.1,356.4 420.4,356.4 420.7,356.4 421.1,356.5 421.4,356.5 421.7,356.5 422.0,356.5 422.3,356.5 422.7,356.5 423.0,356.5 423.3,356.5 423.6,356.5 423.9,356.5 424.2,356.5 424.6,356.5 424.9,356.5 425.2,356.5 425.5,356.5 425.8,356.5 426.1,356.5 426.5,356.6 426.8,356.6 427.1,356.6 427.4,356.6 427.7,356.6 428.1,356.6 428.4,356.6 428.7,356.6 429.0,356.6 429.3,356.6 429.6,356.6 430.0,356.6 430.3,356.6 430.6,356.6 430.9,356.6 431.2,356.6 431.6,356.6 431.9,356.6 432.2,356.6 432.5,356.6 432.8,356.6 433.1,356.6 433.5,356.6 433.8,356.7 434.1,356.7 434.4,356.7 434.7,356.7 435.1,356.7 435.4,356.7 435.7,356.7 436.0,356.7 436.3,356.7 436.6,356.7 437.0,356.7 437.3,356.7 437.6,356.7 437.9,356.7 438.2,356.7 438.6,356.7 438.9,356.7 439.2,356.7 439.5,356.7 439.8,356.7 440.1,356.7 440.5,356.7 440.8,356.7 441.1,356.7 441.4,356.7 441.7,356.7 442.0,356.7 442.4,356.7 442.7,356.7 443.0,356.7 443.3,356.7 443.6,356.7 444.0,356.7 444.3,356.7 444.6,356.7 444.9,356.7 445.2,356.8 445.5,356.8 445.9,356.8 446.2,356.8 446.5,356.8 446.8,356.8 447.1,356.8 447.5,356.8 447.8,356.8 448.1,356.8 448.4,356.8 448.7,356.8 449.0,356.8 449.4,356.8 449.7,356.8 450.0,356.8 450.3,356.8 450.6,356.8 451.0,356.8 451.3,356.8 451.6,356.8 451.9,356.8 452.2,356.8 452.5,356.8 452.9,356.8 453.2,356.8 453.5,356.8 453.8,356.8 454.1,356.8 454.4,356.8 454.8,356.8 455.1,356.8 455.4,356.8 455.7,356.8 456.0,356.8 456.4,356.8 456.7,356.8 457.0,356.8 457.3,356.8 457.6,356.8 457.9,356.8 458.3,356.8 458.6,356.8 458.9,356.8 459.2,356.8 459.5,356.8 459.9,356.8 460.2,356.8 460.5,356.8 460.8,356.8 461.1,356.8 461.4,356.8 461.8,356.8 462.1,356.8 462.4,356.8 462.7,356.8 463.0,356.8 463.4,356.8 463.7,356.8 464.0,356.8 464.3,356.8 464.6,356.8 464.9,356.8 465.3,356.8 465.6,356.8 465.9,356.8 466.2,356.8 466.5,356.9 466.9,356.9 467.2,356.9 467.5,356.9 467.8,356.9 468.1,356.9 468.4,356.9 468.8,356.9 469.1,356.9 469.4,356.9 469.7,356.9 470.0,356.9 470.4,356.9 470.7,356.9 471.0,356.9 471.3,356.9 471.6,356.9 471.9,356.9 472.3,356.9 472.6,356.9 472.9,356.9 473.2,356.9 473.5,356.9 473.8,356.9 474.2,356.9 474.5,356.9 474.8,356.9 475.1,356.9 475.4,356.9 475.8,356.9 476.1,356.9 476.4,356.9 476.7,356.9 477.0,356.9 477.3,356.9 477.7,356.9 478.0,356.9 478.3,356.9" fill="none" stroke="#ccb265" stroke-width="0.7" opacity="0.9"/><polyline points="351.1,354.4 351.4,354.3 351.7,354.3 352.1,354.2 352.4,354.1 352.7,354.0 353.0,353.9 353.3,353.9 353.6,353.8 354.0,353.7 354.3,353.6 354.6,353.5 354.9,353.4 355.2,353.2 355.6,353.1 355.9,353.0 356.2,352.9 356.5,352.7 356.8,352.6 357.1,352.4 357.5,352.3 357.8,352.1 358.1,351.9 358.4,351.7 358.7,351.6 359.1,351.3 359.4,351.1 359.7,350.9 360.0,350.7 360.3,350.4 360.6,350.1 361.0,349.8 361.3,349.5 361.6,349.2 361.9,348.9 362.2,348.5 362.5,348.1 362.9,347.7 363.2,347.2 363.5,346.7 363.8,346.2 364.1,345.7 364.5,345.1 364.8,344.4 365.1,343.8 365.4,343.0 365.7,342.2 366.0,341.4 366.4,340.4 366.7,339.4 367.0,338.4 367.3,337.2 367.6,335.9 368.0,334.5 368.3,333.1 368.6,331.4 368.9,329.7 369.2,327.8 369.5,325.8 369.9,323.6 370.2,321.3 370.5,318.8 370.8,316.2 371.1,313.4 371.5,310.5 371.8,307.6 372.1,304.6 372.4,301.7 372.7,298.9 373.0,296.2 373.4,293.9 373.7,292.0 374.0,290.5 374.3,289.6 374.6,289.3 375.0,289.6 375.3,290.5 375.6,292.0 375.9,293.9 376.2,296.2 376.5,298.9 376.9,301.7 377.2,304.6 377.5,307.6 377.8,310.5 378.1,313.4 378.4,316.2 378.8,318.8 379.1,321.3 379.4,323.6 379.7,325.8 380.0,327.8 380.4,329.7 380.7,331.4 381.0,333.1 381.3,334.5 381.6,335.9 381.9,337.2 382.3,338.4 382.6,339.4 382.9,340.4 383.2,341.4 383.5,342.2 383.9,343.0 384.2,343.8 384.5,344.4 384.8,345.1 385.1,345.7 385.4,346.2 385.8,346.7 386.1,347.2 386.4,347.7 386.7,348.1 387.0,348.5 387.4,348.9 387.7,349.2 388.0,349.5 388.3,349.8 388.6,350.1 388.9,350.4 389.3,350.7 389.6,350.9 389.9,351.1 390.2,351.3 390.5,351.6 390.9,351.7 391.2,351.9 391.5,352.1 391.8,352.3 392.1,352.4 392.4,352.6 392.8,352.7 393.1,352.9 393.4,353.0 393.7,353.1 394.0,353.2 394.3,353.4 394.7,353.5 395.0,353.6 395.3,353.7 395.6,353.8 395.9,353.9 396.3,353.9 396.6,354.0 396.9,354.1 397.2,354.2 397.5,354.3 397.8,354.3 398.2,354.4 398.5,354.5 398.8,354.5 399.1,354.6 399.4,354.6 399.8,354.7 400.1,354.8 400.4,354.8 400.7,354.9 401.0,354.9 401.3,355.0 401.7,355.0 402.0,355.1 402.3,355.1 402.6,355.1 402.9,355.2 403.3,355.2 403.6,355.3 403.9,355.3 404.2,355.3 404.5,355.4 404.8,355.4 405.2,355.4 405.5,355.5 405.8,355.5 406.1,355.5 406.4,355.6 406.8,355.6 407.1,355.6 407.4,355.6 407.7,355.7 408.0,355.7 408.3,355.7 408.7,355.7 409.0,355.8 409.3,355.8 409.6,355.8 409.9,355.8 410.2,355.8 410.6,355.9 410.9,355.9 411.2,355.9 411.5,355.9 411.8,355.9 412.2,356.0 412.5,356.0 412.8,356.0 413.1,356.0 413.4,356.0 413.7,356.0 414.1,356.1 414.4,356.1 414.7,356.1 415.0,356.1 415.3,356.1 415.7,356.1 416.0,356.1 416.3,356.1 416.6,356.2 416.9,356.2 417.2,356.2 417.6,356.2 417.9,356.2 418.2,356.2 418.5,356.2 418.8,356.2 419.2,356.3 419.5,356.3 419.8,356.3 420.1,356.3 420.4,356.3 420.7,356.3 421.1,356.3 421.4,356.3 421.7,356.3 422.0,356.3 422.3,356.3 422.7,356.4 423.0,356.4 423.3,356.4 423.6,356.4 423.9,356.4 424.2,356.4 424.6,356.4 424.9,356.4 425.2,356.4 425.5,356.4 425.8,356.4 426.1,356.4 426.5,356.4 426.8,356.5 427.1,356.5 427.4,356.5 427.7,356.5 428.1,356.5 428.4,356.5 428.7,356.5 429.0,356.5 429.3,356.5 429.6,356.5 430.0,356.5 430.3,356.5 430.6,356.5 430.9,356.5 431.2,356.5 431.6,356.5 431.9,356.5 432.2,356.6 432.5,356.6 432.8,356.6 433.1,356.6 433.5,356.6 433.8,356.6 434.1,356.6 434.4,356.6 434.7,356.6 435.1,356.6 435.4,356.6 435.7,356.6 436.0,356.6 436.3,356.6 436.6,356.6 437.0,356.6 437.3,356.6 437.6,356.6 437.9,356.6 438.2,356.6 438.6,356.6 438.9,356.6 439.2,356.6 439.5,356.6 439.8,356.6 440.1,356.7 440.5,356.7 440.8,356.7 441.1,356.7 441.4,356.7 441.7,356.7 442.0,356.7 442.4,356.7 442.7,356.7 443.0,356.7 443.3,356.7 443.6,356.7 444.0,356.7 444.3,356.7 444.6,356.7 444.9,356.7 445.2,356.7 445.5,356.7 445.9,356.7 446.2,356.7 446.5,356.7 446.8,356.7 447.1,356.7 447.5,356.7 447.8,356.7 448.1,356.7 448.4,356.7 448.7,356.7 449.0,356.7 449.4,356.7 449.7,356.7 450.0,356.7 450.3,356.7 450.6,356.7 451.0,356.7 451.3,356.7 451.6,356.7 451.9,356.8 452.2,356.8 452.5,356.8 452.9,356.8 453.2,356.8 453.5,356.8 453.8,356.8 454.1,356.8 454.4,356.8 454.8,356.8 455.1,356.8 455.4,356.8 455.7,356.8 456.0,356.8 456.4,356.8 456.7,356.8 457.0,356.8 457.3,356.8 457.6,356.8 457.9,356.8 458.3,356.8 458.6,356.8 458.9,356.8 459.2,356.8 459.5,356.8 459.9,356.8 460.2,356.8 460.5,356.8 460.8,356.8 461.1,356.8 461.4,356.8 461.8,356.8 462.1,356.8 462.4,356.8 462.7,356.8 463.0,356.8 463.4,356.8 463.7,356.8 464.0,356.8 464.3,356.8 464.6,356.8 464.9,356.8 465.3,356.8 465.6,356.8 465.9,356.8 466.2,356.8 466.5,356.8 466.9,356.8 467.2,356.8 467.5,356.8 467.8,356.8 468.1,356.8 468.4,356.8 468.8,356.8 469.1,356.8 469.4,356.8 469.7,356.8 470.0,356.8 470.4,356.8 470.7,356.8 471.0,356.8 471.3,356.8 471.6,356.8 471.9,356.8 472.3,356.8 472.6,356.8 472.9,356.8 473.2,356.8 473.5,356.8 473.8,356.8 474.2,356.8 474.5,356.9 474.8,356.9 475.1,356.9 475.4,356.9 475.8,356.9 476.1,356.9 476.4,356.9 476.7,356.9 477.0,356.9 477.3,356.9 477.7,356.9 478.0,356.9 478.3,356.9" fill="none" stroke="#cca165" stroke-width="0.7" opacity="0.9"/><polyline points="351.1,354.7 351.4,354.7 351.7,354.6 352.1,354.6 352.4,354.5 352.7,354.4 353.0,354.4 353.3,354.3 353.6,354.2 354.0,354.2 354.3,354.1 354.6,354.0 354.9,353.9 355.2,353.9 355.6,353.8 355.9,353.7 356.2,353.6 356.5,353.5 356.8,353.4 357.1,353.3 357.5,353.2 357.8,353.1 358.1,352.9 358.4,352.8 358.7,352.7 359.1,352.6 359.4,352.4 359.7,352.3 360.0,352.1 360.3,351.9 360.6,351.8 361.0,351.6 361.3,351.4 361.6,351.2 361.9,351.0 362.2,350.7 362.5,350.5 362.9,350.2 363.2,350.0 363.5,349.7 363.8,349.4 364.1,349.1 364.5,348.8 364.8,348.4 365.1,348.0 365.4,347.6 365.7,347.2 366.0,346.7 366.4,346.2 366.7,345.7 367.0,345.2 367.3,344.6 367.6,343.9 368.0,343.3 368.3,342.5 368.6,341.7 368.9,340.9 369.2,340.0 369.5,339.0 369.9,338.0 370.2,336.8 370.5,335.6 370.8,334.3 371.1,332.8 371.5,331.3 371.8,329.6 372.1,327.9 372.4,326.0 372.7,323.9 373.0,321.7 373.4,319.4 373.7,317.0 374.0,314.4 374.3,311.7 374.6,308.9 375.0,306.1 375.3,303.3 375.6,300.6 375.9,298.0 376.2,295.6 376.5,293.4 376.9,291.7 377.2,290.4 377.5,289.6 377.8,289.3 378.1,289.6 378.4,290.4 378.8,291.7 379.1,293.4 379.4,295.6 379.7,298.0 380.0,300.6 380.4,303.3 380.7,306.1 381.0,308.9 381.3,311.7 381.6,314.4 381.9,317.0 382.3,319.4 382.6,321.7 382.9,323.9 383.2,326.0 383.5,327.9 383.9,329.6 384.2,331.3 384.5,332.8 384.8,334.3 385.1,335.6 385.4,336.8 385.8,338.0 386.1,339.0 386.4,340.0 386.7,340.9 387.0,341.7 387.4,342.5 387.7,343.3 388.0,343.9 388.3,344.6 388.6,345.2 388.9,345.7 389.3,346.2 389.6,346.7 389.9,347.2 390.2,347.6 390.5,348.0 390.9,348.4 391.2,348.8 391.5,349.1 391.8,349.4 392.1,349.7 392.4,350.0 392.8,350.2 393.1,350.5 393.4,350.7 393.7,351.0 394.0,351.2 394.3,351.4 394.7,351.6 395.0,351.8 395.3,351.9 395.6,352.1 395.9,352.3 396.3,352.4 396.6,352.6 396.9,352.7 397.2,352.8 397.5,352.9 397.8,353.1 398.2,353.2 398.5,353.3 398.8,353.4 399.1,353.5 399.4,353.6 399.8,353.7 400.1,353.8 400.4,353.9 400.7,353.9 401.0,354.0 401.3,354.1 401.7,354.2 402.0,354.2 402.3,354.3 402.6,354.4 402.9,354.4 403.3,354.5 403.6,354.6 403.9,354.6 404.2,354.7 404.5,354.7 404.8,354.8 405.2,354.8 405.5,354.9 405.8,354.9 406.1,355.0 406.4,355.0 406.8,355.1 407.1,355.1 407.4,355.1 407.7,355.2 408.0,355.2 408.3,355.2 408.7,355.3 409.0,355.3 409.3,355.4 409.6,355.4 409.9,355.4 410.2,355.4 410.6,355.5 410.9,355.5 411.2,355.5 411.5,355.6 411.8,355.6 412.2,355.6 412.5,355.6 412.8,355.7 413.1,355.7 413.4,355.7 413.7,355.7 414.1,355.7 414.4,355.8 414.7,355.8 415.0,355.8 415.3,355.8 415.7,355.9 416.0,355.9 416.3,355.9 416.6,355.9 416.9,355.9 417.2,355.9 417.6,356.0 417.9,356.0 418.2,356.0 418.5,356.0 418.8,356.0 419.2,356.0 419.5,356.0 419.8,356.1 420.1,356.1 420.4,356.1 420.7,356.1 421.1,356.1 421.4,356.1 421.7,356.1 422.0,356.2 422.3,356.2 422.7,356.2 423.0,356.2 423.3,356.2 423.6,356.2 423.9,356.2 424.2,356.2 424.6,356.2 424.9,356.3 425.2,356.3 425.5,356.3 425.8,356.3 426.1,356.3 426.5,356.3 426.8,356.3 427.1,356.3 427.4,356.3 427.7,356.3 428.1,356.3 428.4,356.4 428.7,356.4 429.0,356.4 429.3,356.4 429.6,356.4 430.0,356.4 430.3,356.4 430.6,356.4 430.9,356.4 431.2,356.4 431.6,356.4 431.9,356.4 432.2,356.4 432.5,356.4 432.8,356.5 433.1,356.5 433.5,356.5 433.8,356.5 434.1,356.5 434.4,356.5 434.7,356.5 435.1,356.5 435.4,356.5 435.7,356.5 436.0,356.5 436.3,356.5 436.6,356.5 437.0,356.5 437.3,356.5 437.6,356.5 437.9,356.5 438.2,356.5 438.6,356.5 438.9,356.6 439.2,356.6 439.5,356.6 439.8,356.6 440.1,356.6 440.5,356.6 440.8,356.6 441.1,356.6 441.4,356.6 441.7,356.6 442.0,356.6 442.4,356.6 442.7,356.6 443.0,356.6 443.3,356.6 443.6,356.6 444.0,356.6 444.3,356.6 444.6,356.6 444.9,356.6 445.2,356.6 445.5,356.6 445.9,356.6 446.2,356.6 446.5,356.6 446.8,356.7 447.1,356.7 447.5,356.7 447.8,356.7 448.1,356.7 448.4,356.7 448.7,356.7 449.0,356.7 449.4,356.7 449.7,356.7 450.0,356.7 450.3,356.7 450.6,356.7 451.0,356.7 451.3,356.7 451.6,356.7 451.9,356.7 452.2,356.7 452.5,356.7 452.9,356.7 453.2,356.7 453.5,356.7 453.8,356.7 454.1,356.7 454.4,356.7 454.8,356.7 455.1,356.7 455.4,356.7 455.7,356.7 456.0,356.7 456.4,356.7 456.7,356.7 457.0,356.7 457.3,356.7 457.6,356.7 457.9,356.7 458.3,356.7 458.6,356.7 458.9,356.7 459.2,356.7 459.5,356.8 459.9,356.8 460.2,356.8 460.5,356.8 460.8,356.8 461.1,356.8 461.4,356.8 461.8,356.8 462.1,356.8 462.4,356.8 462.7,356.8 463.0,356.8 463.4,356.8 463.7,356.8 464.0,356.8 464.3,356.8 464.6,356.8 464.9,356.8 465.3,356.8 465.6,356.8 465.9,356.8 466.2,356.8 466.5,356.8 466.9,356.8 467.2,356.8 467.5,356.8 467.8,356.8 468.1,356.8 468.4,356.8 468.8,356.8 469.1,356.8 469.4,356.8 469.7,356.8 470.0,356.8 470.4,356.8 470.7,356.8 471.0,356.8 471.3,356.8 471.6,356.8 471.9,356.8 472.3,356.8 472.6,356.8 472.9,356.8 473.2,356.8 473.5,356.8 473.8,356.8 474.2,356.8 474.5,356.8 474.8,356.8 475.1,356.8 475.4,356.8 475.8,356.8 476.1,356.8 476.4,356.8 476.7,356.8 477.0,356.8 477.3,356.8 477.7,356.8 478.0,356.8 478.3,356.8" fill="none" stroke="#b2cc65" stroke-width="0.7" opacity="0.9"/><polyline points="351.1,355.0 351.4,355.0 351.7,354.9 352.1,354.9 352.4,354.8 352.7,354.8 353.0,354.7 353.3,354.7 353.6,354.6 354.0,354.6 354.3,354.5 354.6,354.5 354.9,354.4 355.2,354.3 355.6,354.3 355.9,354.2 356.2,354.1 356.5,354.1 356.8,354.0 357.1,353.9 357.5,353.8 357.8,353.8 358.1,353.7 358.4,353.6 358.7,353.5 359.1,353.4 359.4,353.3 359.7,353.2 360.0,353.1 360.3,353.0 360.6,352.9 361.0,352.7 361.3,352.6 361.6,352.5 361.9,352.3 362.2,352.2 362.5,352.0 362.9,351.9 363.2,351.7 363.5,351.5 363.8,351.4 364.1,351.2 364.5,351.0 364.8,350.8 365.1,350.5 365.4,350.3 365.7,350.0 366.0,349.8 366.4,349.5 366.7,349.2 367.0,348.9 367.3,348.6 367.6,348.2 368.0,347.9 368.3,347.5 368.6,347.1 368.9,346.6 369.2,346.2 369.5,345.7 369.9,345.2 370.2,344.6 370.5,344.0 370.8,343.4 371.1,342.7 371.5,341.9 371.8,341.2 372.1,340.3 372.4,339.4 372.7,338.5 373.0,337.4 373.4,336.3 373.7,335.1 374.0,333.9 374.3,332.5 374.6,331.0 375.0,329.4 375.3,327.7 375.6,325.9 375.9,324.0 376.2,321.9 376.5,319.8 376.9,317.5 377.2,315.1 377.5,312.6 377.8,310.0 378.1,307.4 378.4,304.7 378.8,302.1 379.1,299.5 379.4,297.1 379.7,294.9 380.0,293.0 380.4,291.4 380.7,290.3 381.0,289.5 381.3,289.3 381.6,289.5 381.9,290.3 382.3,291.4 382.6,293.0 382.9,294.9 383.2,297.1 383.5,299.5 383.9,302.1 384.2,304.7 384.5,307.4 384.8,310.0 385.1,312.6 385.4,315.1 385.8,317.5 386.1,319.8 386.4,321.9 386.7,324.0 387.0,325.9 387.4,327.7 387.7,329.4 388.0,331.0 388.3,332.5 388.6,333.9 388.9,335.1 389.3,336.3 389.6,337.4 389.9,338.5 390.2,339.4 390.5,340.3 390.9,341.2 391.2,341.9 391.5,342.7 391.8,343.4 392.1,344.0 392.4,344.6 392.8,345.2 393.1,345.7 393.4,346.2 393.7,346.6 394.0,347.1 394.3,347.5 394.7,347.9 395.0,348.2 395.3,348.6 395.6,348.9 395.9,349.2 396.3,349.5 396.6,349.8 396.9,350.0 397.2,350.3 397.5,350.5 397.8,350.8 398.2,351.0 398.5,351.2 398.8,351.4 399.1,351.5 399.4,351.7 399.8,351.9 400.1,352.0 400.4,352.2 400.7,352.3 401.0,352.5 401.3,352.6 401.7,352.7 402.0,352.9 402.3,353.0 402.6,353.1 402.9,353.2 403.3,353.3 403.6,353.4 403.9,353.5 404.2,353.6 404.5,353.7 404.8,353.8 405.2,353.8 405.5,353.9 405.8,354.0 406.1,354.1 406.4,354.1 406.8,354.2 407.1,354.3 407.4,354.3 407.7,354.4 408.0,354.5 408.3,354.5 408.7,354.6 409.0,354.6 409.3,354.7 409.6,354.7 409.9,354.8 410.2,354.8 410.6,354.9 410.9,354.9 411.2,355.0 411.5,355.0 411.8,355.0 412.2,355.1 412.5,355.1 412.8,355.2 413.1,355.2 413.4,355.2 413.7,355.3 414.1,355.3 414.4,355.3 414.7,355.4 415.0,355.4 415.3,355.4 415.7,355.4 416.0,355.5 416.3,355.5 416.6,355.5 416.9,355.5 417.2,355.6 417.6,355.6 417.9,355.6 418.2,355.6 418.5,355.7 418.8,355.7 419.2,355.7 419.5,355.7 419.8,355.8 420.1,355.8 420.4,355.8 420.7,355.8 421.1,355.8 421.4,355.8 421.7,355.9 422.0,355.9 422.3,355.9 422.7,355.9 423.0,355.9 423.3,355.9 423.6,356.0 423.9,356.0 424.2,356.0 424.6,356.0 424.9,356.0 425.2,356.0 425.5,356.1 425.8,356.1 426.1,356.1 426.5,356.1 426.8,356.1 427.1,356.1 427.4,356.1 427.7,356.1 428.1,356.1 428.4,356.2 428.7,356.2 429.0,356.2 429.3,356.2 429.6,356.2 430.0,356.2 430.3,356.2 430.6,356.2 430.9,356.2 431.2,356.3 431.6,356.3 431.9,356.3 432.2,356.3 432.5,356.3 432.8,356.3 433.1,356.3 433.5,356.3 433.8,356.3 434.1,356.3 434.4,356.3 434.7,356.3 435.1,356.4 435.4,356.4 435.7,356.4 436.0,356.4 436.3,356.4 436.6,356.4 437.0,356.4 437.3,356.4 437.6,356.4 437.9,356.4 438.2,356.4 438.6,356.4 438.9,356.4 439.2,356.4 439.5,356.4 439.8,356.5 440.1,356.5 440.5,356.5 440.8,356.5 441.1,356.5 441.4,356.5 441.7,356.5 442.0,356.5 442.4,356.5 442.7,356.5 443.0,356.5 443.3,356.5 443.6,356.5 444.0,356.5 444.3,356.5 444.6,356.5 444.9,356.5 445.2,356.5 445.5,356.5 445.9,356.6 446.2,356.6 446.5,356.6 446.8,356.6 447.1,356.6 447.5,356.6 447.8,356.6 448.1,356.6 448.4,356.6 448.7,356.6 449.0,356.6 449.4,356.6 449.7,356.6 450.0,356.6 450.3,356.6 450.6,356.6 451.0,356.6 451.3,356.6 451.6,356.6 451.9,356.6 452.2,356.6 452.5,356.6 452.9,356.6 453.2,356.6 453.5,356.6 453.8,356.6 454.1,356.6 454.4,356.7 454.8,356.7 455.1,356.7 455.4,356.7 455.7,356.7 456.0,356.7 456.4,356.7 456.7,356.7 457.0,356.7 457.3,356.7 457.6,356.7 457.9,356.7 458.3,356.7 458.6,356.7 458.9,356.7 459.2,356.7 459.5,356.7 459.9,356.7 460.2,356.7 460.5,356.7 460.8,356.7 461.1,356.7 461.4,356.7 461.8,356.7 462.1,356.7 462.4,356.7 462.7,356.7 463.0,356.7 463.4,356.7 463.7,356.7 464.0,356.7 464.3,356.7 464.6,356.7 464.9,356.7 465.3,356.7 465.6,356.7 465.9,356.7 466.2,356.7 466.5,356.7 466.9,356.7 467.2,356.7 467.5,356.7 467.8,356.7 468.1,356.8 468.4,356.8 468.8,356.8 469.1,356.8 469.4,356.8 469.7,356.8 470.0,356.8 470.4,356.8 470.7,356.8 471.0,356.8 471.3,356.8 471.6,356.8 471.9,356.8 472.3,356.8 472.6,356.8 472.9,356.8 473.2,356.8 473.5,356.8 473.8,356.8 474.2,356.8 474.5,356.8 474.8,356.8 475.1,356.8 475.4,356.8 475.8,356.8 476.1,356.8 476.4,356.8 476.7,356.8 477.0,356.8 477.3,356.8 477.7,356.8 478.0,356.8 478.3,356.8" fill="none" stroke="#87cc65" stroke-width="0.7" opacity="0.9"/><polyline points="351.1,355.2 351.4,355.2 351.7,355.2 352.1,355.1 352.4,355.1 352.7,355.1 353.0,355.0 353.3,355.0 353.6,354.9 354.0,354.9 354.3,354.9 354.6,354.8 354.9,354.8 355.2,354.7 355.6,354.7 355.9,354.6 356.2,354.6 356.5,354.5 356.8,354.5 357.1,354.4 357.5,354.4 357.8,354.3 358.1,354.2 358.4,354.2 358.7,354.1 359.1,354.0 359.4,354.0 359.7,353.9 360.0,353.8 360.3,353.7 360.6,353.7 361.0,353.6 361.3,353.5 361.6,353.4 361.9,353.3 362.2,353.2 362.5,353.1 362.9,353.0 363.2,352.9 363.5,352.8 363.8,352.7 364.1,352.5 364.5,352.4 364.8,352.3 365.1,352.1 365.4,352.0 365.7,351.9 366.0,351.7 366.4,351.5 366.7,351.4 367.0,351.2 367.3,351.0 367.6,350.8 368.0,350.6 368.3,350.4 368.6,350.1 368.9,349.9 369.2,349.6 369.5,349.4 369.9,349.1 370.2,348.8 370.5,348.5 370.8,348.2 371.1,347.8 371.5,347.4 371.8,347.1 372.1,346.6 372.4,346.2 372.7,345.7 373.0,345.3 373.4,344.7 373.7,344.2 374.0,343.6 374.3,343.0 374.6,342.3 375.0,341.6 375.3,340.8 375.6,340.0 375.9,339.2 376.2,338.2 376.5,337.3 376.9,336.2 377.2,335.1 377.5,333.9 377.8,332.6 378.1,331.2 378.4,329.8 378.8,328.2 379.1,326.5 379.4,324.8 379.7,322.9 380.0,320.9 380.4,318.8 380.7,316.6 381.0,314.3 381.3,311.9 381.6,309.5 381.9,307.0 382.3,304.5 382.6,302.0 382.9,299.7 383.2,297.4 383.5,295.3 383.9,293.4 384.2,291.8 384.5,290.6 384.8,289.8 385.1,289.3 385.4,289.3 385.8,289.8 386.1,290.6 386.4,291.8 386.7,293.4 387.0,295.3 387.4,297.4 387.7,299.7 388.0,302.0 388.3,304.5 388.6,307.0 388.9,309.5 389.3,311.9 389.6,314.3 389.9,316.6 390.2,318.8 390.5,320.9 390.9,322.9 391.2,324.8 391.5,326.5 391.8,328.2 392.1,329.8 392.4,331.2 392.8,332.6 393.1,333.9 393.4,335.1 393.7,336.2 394.0,337.3 394.3,338.2 394.7,339.2 395.0,340.0 395.3,340.8 395.6,341.6 395.9,342.3 396.3,343.0 396.6,343.6 396.9,344.2 397.2,344.7 397.5,345.3 397.8,345.7 398.2,346.2 398.5,346.6 398.8,347.1 399.1,347.4 399.4,347.8 399.8,348.2 400.1,348.5 400.4,348.8 400.7,349.1 401.0,349.4 401.3,349.6 401.7,349.9 402.0,350.1 402.3,350.4 402.6,350.6 402.9,350.8 403.3,351.0 403.6,351.2 403.9,351.4 404.2,351.5 404.5,351.7 404.8,351.9 405.2,352.0 405.5,352.1 405.8,352.3 406.1,352.4 406.4,352.5 406.8,352.7 407.1,352.8 407.4,352.9 407.7,353.0 408.0,353.1 408.3,353.2 408.7,353.3 409.0,353.4 409.3,353.5 409.6,353.6 409.9,353.7 410.2,353.7 410.6,353.8 410.9,353.9 411.2,354.0 411.5,354.0 411.8,354.1 412.2,354.2 412.5,354.2 412.8,354.3 413.1,354.4 413.4,354.4 413.7,354.5 414.1,354.5 414.4,354.6 414.7,354.6 415.0,354.7 415.3,354.7 415.7,354.8 416.0,354.8 416.3,354.9 416.6,354.9 416.9,354.9 417.2,355.0 417.6,355.0 417.9,355.1 418.2,355.1 418.5,355.1 418.8,355.2 419.2,355.2 419.5,355.2 419.8,355.3 420.1,355.3 420.4,355.3 420.7,355.3 421.1,355.4 421.4,355.4 421.7,355.4 422.0,355.5 422.3,355.5 422.7,355.5 423.0,355.5 423.3,355.6 423.6,355.6 423.9,355.6 424.2,355.6 424.6,355.6 424.9,355.7 425.2,355.7 425.5,355.7 425.8,355.7 426.1,355.7 426.5,355.8 426.8,355.8 427.1,355.8 427.4,355.8 427.7,355.8 428.1,355.9 428.4,355.9 428.7,355.9 429.0,355.9 429.3,355.9 429.6,355.9 430.0,355.9 430.3,356.0 430.6,356.0 430.9,356.0 431.2,356.0 431.6,356.0 431.9,356.0 432.2,356.0 432.5,356.1 432.8,356.1 433.1,356.1 433.5,356.1 433.8,356.1 434.1,356.1 434.4,356.1 434.7,356.1 435.1,356.2 435.4,356.2 435.7,356.2 436.0,356.2 436.3,356.2 436.6,356.2 437.0,356.2 437.3,356.2 437.6,356.2 437.9,356.2 438.2,356.2 438.6,356.3 438.9,356.3 439.2,356.3 439.5,356.3 439.8,356.3 440.1,356.3 440.5,356.3 440.8,356.3 441.1,356.3 441.4,356.3 441.7,356.3 442.0,356.3 442.4,356.4 442.7,356.4 443.0,356.4 443.3,356.4 443.6,356.4 444.0,356.4 444.3,356.4 444.6,356.4 444.9,356.4 445.2,356.4 445.5,356.4 445.9,356.4 446.2,356.4 446.5,356.4 446.8,356.4 447.1,356.4 447.5,356.5 447.8,356.5 448.1,356.5 448.4,356.5 448.7,356.5 449.0,356.5 449.4,356.5 449.7,356.5 450.0,356.5 450.3,356.5 450.6,356.5 451.0,356.5 451.3,356.5 451.6,356.5 451.9,356.5 452.2,356.5 452.5,356.5 452.9,356.5 453.2,356.5 453.5,356.5 453.8,356.5 454.1,356.6 454.4,356.6 454.8,356.6 455.1,356.6 455.4,356.6 455.7,356.6 456.0,356.6 456.4,356.6 456.7,356.6 457.0,356.6 457.3,356.6 457.6,356.6 457.9,356.6 458.3,356.6 458.6,356.6 458.9,356.6 459.2,356.6 459.5,356.6 459.9,356.6 460.2,356.6 460.5,356.6 460.8,356.6 461.1,356.6 461.4,356.6 461.8,356.6 462.1,356.6 462.4,356.6 462.7,356.6 463.0,356.6 463.4,356.7 463.7,356.7 464.0,356.7 464.3,356.7 464.6,356.7 464.9,356.7 465.3,356.7 465.6,356.7 465.9,356.7 466.2,356.7 466.5,356.7 466.9,356.7 467.2,356.7 467.5,356.7 467.8,356.7 468.1,356.7 468.4,356.7 468.8,356.7 469.1,356.7 469.4,356.7 469.7,356.7 470.0,356.7 470.4,356.7 470.7,356.7 471.0,356.7 471.3,356.7 471.6,356.7 471.9,356.7 472.3,356.7 472.6,356.7 472.9,356.7 473.2,356.7 473.5,356.7 473.8,356.7 474.2,356.7 474.5,356.7 474.8,356.7 475.1,356.7 475.4,356.7 475.8,356.7 476.1,356.7 476.4,356.7 476.7,356.7 477.0,356.7 477.3,356.7 477.7,356.8 478.0,356.8 478.3,356.8" fill="none" stroke="#65cc76" stroke-width="0.7" opacity="0.9"/><polyline points="351.1,355.4 351.4,355.4 351.7,355.4 352.1,355.3 352.4,355.3 352.7,355.3 353.0,355.3 353.3,355.2 353.6,355.2 354.0,355.2 354.3,355.1 354.6,355.1 354.9,355.1 355.2,355.0 355.6,355.0 355.9,355.0 356.2,354.9 356.5,354.9 356.8,354.9 357.1,354.8 357.5,354.8 357.8,354.7 358.1,354.7 358.4,354.6 358.7,354.6 359.1,354.5 359.4,354.5 359.7,354.4 360.0,354.4 360.3,354.3 360.6,354.3 361.0,354.2 361.3,354.2 361.6,354.1 361.9,354.0 362.2,354.0 362.5,353.9 362.9,353.8 363.2,353.8 363.5,353.7 363.8,353.6 364.1,353.5 364.5,353.5 364.8,353.4 365.1,353.3 365.4,353.2 365.7,353.1 366.0,353.0 366.4,352.9 366.7,352.8 367.0,352.7 367.3,352.6 367.6,352.5 368.0,352.3 368.3,352.2 368.6,352.1 368.9,351.9 369.2,351.8 369.5,351.6 369.9,351.5 370.2,351.3 370.5,351.1 370.8,351.0 371.1,350.8 371.5,350.6 371.8,350.4 372.1,350.2 372.4,350.0 372.7,349.7 373.0,349.5 373.4,349.2 373.7,349.0 374.0,348.7 374.3,348.4 374.6,348.1 375.0,347.7 375.3,347.4 375.6,347.0 375.9,346.6 376.2,346.2 376.5,345.8 376.9,345.4 377.2,344.9 377.5,344.4 377.8,343.8 378.1,343.3 378.4,342.7 378.8,342.0 379.1,341.4 379.4,340.6 379.7,339.9 380.0,339.1 380.4,338.2 380.7,337.3 381.0,336.3 381.3,335.3 381.6,334.1 381.9,333.0 382.3,331.7 382.6,330.4 382.9,329.0 383.2,327.5 383.5,325.9 383.9,324.2 384.2,322.4 384.5,320.5 384.8,318.6 385.1,316.5 385.4,314.4 385.8,312.1 386.1,309.9 386.4,307.6 386.7,305.2 387.0,302.9 387.4,300.7 387.7,298.5 388.0,296.4 388.3,294.6 388.6,292.9 388.9,291.5 389.3,290.4 389.6,289.7 389.9,289.3 390.2,289.3 390.5,289.7 390.9,290.4 391.2,291.5 391.5,292.9 391.8,294.6 392.1,296.4 392.4,298.5 392.8,300.7 393.1,302.9 393.4,305.2 393.7,307.6 394.0,309.9 394.3,312.1 394.7,314.4 395.0,316.5 395.3,318.6 395.6,320.5 395.9,322.4 396.3,324.2 396.6,325.9 396.9,327.5 397.2,329.0 397.5,330.4 397.8,331.7 398.2,333.0 398.5,334.1 398.8,335.3 399.1,336.3 399.4,337.3 399.8,338.2 400.1,339.1 400.4,339.9 400.7,340.6 401.0,341.4 401.3,342.0 401.7,342.7 402.0,343.3 402.3,343.8 402.6,344.4 402.9,344.9 403.3,345.4 403.6,345.8 403.9,346.2 404.2,346.6 404.5,347.0 404.8,347.4 405.2,347.7 405.5,348.1 405.8,348.4 406.1,348.7 406.4,349.0 406.8,349.2 407.1,349.5 407.4,349.7 407.7,350.0 408.0,350.2 408.3,350.4 408.7,350.6 409.0,350.8 409.3,351.0 409.6,351.1 409.9,351.3 410.2,351.5 410.6,351.6 410.9,351.8 411.2,351.9 411.5,352.1 411.8,352.2 412.2,352.3 412.5,352.5 412.8,352.6 413.1,352.7 413.4,352.8 413.7,352.9 414.1,353.0 414.4,353.1 414.7,353.2 415.0,353.3 415.3,353.4 415.7,353.5 416.0,353.5 416.3,353.6 416.6,353.7 416.9,353.8 417.2,353.8 417.6,353.9 417.9,354.0 418.2,354.0 418.5,354.1 418.8,354.2 419.2,354.2 419.5,354.3 419.8,354.3 420.1,354.4 420.4,354.4 420.7,354.5 421.1,354.5 421.4,354.6 421.7,354.6 422.0,354.7 422.3,354.7 422.7,354.8 423.0,354.8 423.3,354.9 423.6,354.9 423.9,354.9 424.2,355.0 424.6,355.0 424.9,355.0 425.2,355.1 425.5,355.1 425.8,355.1 426.1,355.2 426.5,355.2 426.8,355.2 427.1,355.3 427.4,355.3 427.7,355.3 428.1,355.3 428.4,355.4 428.7,355.4 429.0,355.4 429.3,355.4 429.6,355.5 430.0,355.5 430.3,355.5 430.6,355.5 430.9,355.6 431.2,355.6 431.6,355.6 431.9,355.6 432.2,355.6 432.5,355.7 432.8,355.7 433.1,355.7 433.5,355.7 433.8,355.7 434.1,355.8 434.4,355.8 434.7,355.8 435.1,355.8 435.4,355.8 435.7,355.8 436.0,355.9 436.3,355.9 436.6,355.9 437.0,355.9 437.3,355.9 437.6,355.9 437.9,355.9 438.2,356.0 438.6,356.0 438.9,356.0 439.2,356.0 439.5,356.0 439.8,356.0 440.1,356.0 440.5,356.0 440.8,356.1 441.1,356.1 441.4,356.1 441.7,356.1 442.0,356.1 442.4,356.1 442.7,356.1 443.0,356.1 443.3,356.1 443.6,356.2 444.0,356.2 444.3,356.2 444.6,356.2 444.9,356.2 445.2,356.2 445.5,356.2 445.9,356.2 446.2,356.2 446.5,356.2 446.8,356.2 447.1,356.3 447.5,356.3 447.8,356.3 448.1,356.3 448.4,356.3 448.7,356.3 449.0,356.3 449.4,356.3 449.7,356.3 450.0,356.3 450.3,356.3 450.6,356.3 451.0,356.3 451.3,356.4 451.6,356.4 451.9,356.4 452.2,356.4 452.5,356.4 452.9,356.4 453.2,356.4 453.5,356.4 453.8,356.4 454.1,356.4 454.4,356.4 454.8,356.4 455.1,356.4 455.4,356.4 455.7,356.4 456.0,356.4 456.4,356.4 456.7,356.5 457.0,356.5 457.3,356.5 457.6,356.5 457.9,356.5 458.3,356.5 458.6,356.5 458.9,356.5 459.2,356.5 459.5,356.5 459.9,356.5 460.2,356.5 460.5,356.5 460.8,356.5 461.1,356.5 461.4,356.5 461.8,356.5 462.1,356.5 462.4,356.5 462.7,356.5 463.0,356.5 463.4,356.5 463.7,356.6 464.0,356.6 464.3,356.6 464.6,356.6 464.9,356.6 465.3,356.6 465.6,356.6 465.9,356.6 466.2,356.6 466.5,356.6 466.9,356.6 467.2,356.6 467.5,356.6 467.8,356.6 468.1,356.6 468.4,356.6 468.8,356.6 469.1,356.6 469.4,356.6 469.7,356.6 470.0,356.6 470.4,356.6 470.7,356.6 471.0,356.6 471.3,356.6 471.6,356.6 471.9,356.6 472.3,356.6 472.6,356.6 472.9,356.6 473.2,356.6 473.5,356.7 473.8,356.7 474.2,356.7 474.5,356.7 474.8,356.7 475.1,356.7 475.4,356.7 475.8,356.7 476.1,356.7 476.4,356.7 476.7,356.7 477.0,356.7 477.3,356.7 477.7,356.7 478.0,356.7 478.3,356.7" fill="none" stroke="#65ccaa" stroke-width="0.7" opacity="0.9"/><polyline points="351.1,355.6 351.4,355.6 351.7,355.6 352.1,355.5 352.4,355.5 352.7,355.5 353.0,355.5 353.3,355.4 353.6,355.4 354.0,355.4 354.3,355.4 354.6,355.3 354.9,355.3 355.2,355.3 355.6,355.3 355.9,355.2 356.2,355.2 356.5,355.2 356.8,355.2 357.1,355.1 357.5,355.1 357.8,355.1 358.1,355.0 358.4,355.0 358.7,355.0 359.1,354.9 359.4,354.9 359.7,354.9 360.0,354.8 360.3,354.8 360.6,354.7 361.0,354.7 361.3,354.7 361.6,354.6 361.9,354.6 362.2,354.5 362.5,354.5 362.9,354.4 363.2,354.4 363.5,354.3 363.8,354.3 364.1,354.2 364.5,354.2 364.8,354.1 365.1,354.1 365.4,354.0 365.7,354.0 366.0,353.9 366.4,353.8 366.7,353.8 367.0,353.7 367.3,353.6 367.6,353.5 368.0,353.5 368.3,353.4 368.6,353.3 368.9,353.2 369.2,353.1 369.5,353.1 369.9,353.0 370.2,352.9 370.5,352.8 370.8,352.7 371.1,352.6 371.5,352.4 371.8,352.3 372.1,352.2 372.4,352.1 372.7,352.0 373.0,351.8 373.4,351.7 373.7,351.6 374.0,351.4 374.3,351.3 374.6,351.1 375.0,350.9 375.3,350.8 375.6,350.6 375.9,350.4 376.2,350.2 376.5,350.0 376.9,349.8 377.2,349.5 377.5,349.3 377.8,349.1 378.1,348.8 378.4,348.5 378.8,348.3 379.1,348.0 379.4,347.7 379.7,347.3 380.0,347.0 380.4,346.6 380.7,346.3 381.0,345.9 381.3,345.5 381.6,345.0 381.9,344.6 382.3,344.1 382.6,343.6 382.9,343.0 383.2,342.5 383.5,341.9 383.9,341.2 384.2,340.5 384.5,339.8 384.8,339.1 385.1,338.3 385.4,337.4 385.8,336.5 386.1,335.6 386.4,334.6 386.7,333.5 387.0,332.4 387.4,331.2 387.7,329.9 388.0,328.6 388.3,327.2 388.6,325.7 388.9,324.1 389.3,322.5 389.6,320.7 389.9,318.9 390.2,317.0 390.5,315.1 390.9,313.0 391.2,311.0 391.5,308.8 391.8,306.7 392.1,304.5 392.4,302.4 392.8,300.3 393.1,298.3 393.4,296.4 393.7,294.7 394.0,293.1 394.3,291.8 394.7,290.7 395.0,289.9 395.3,289.4 395.6,289.3 395.9,289.4 396.3,289.9 396.6,290.7 396.9,291.8 397.2,293.1 397.5,294.7 397.8,296.4 398.2,298.3 398.5,300.3 398.8,302.4 399.1,304.5 399.4,306.7 399.8,308.8 400.1,311.0 400.4,313.0 400.7,315.1 401.0,317.0 401.3,318.9 401.7,320.7 402.0,322.5 402.3,324.1 402.6,325.7 402.9,327.2 403.3,328.6 403.6,329.9 403.9,331.2 404.2,332.4 404.5,333.5 404.8,334.6 405.2,335.6 405.5,336.5 405.8,337.4 406.1,338.3 406.4,339.1 406.8,339.8 407.1,340.5 407.4,341.2 407.7,341.9 408.0,342.5 408.3,343.0 408.7,343.6 409.0,344.1 409.3,344.6 409.6,345.0 409.9,345.5 410.2,345.9 410.6,346.3 410.9,346.6 411.2,347.0 411.5,347.3 411.8,347.7 412.2,348.0 412.5,348.3 412.8,348.5 413.1,348.8 413.4,349.1 413.7,349.3 414.1,349.5 414.4,349.8 414.7,350.0 415.0,350.2 415.3,350.4 415.7,350.6 416.0,350.8 416.3,350.9 416.6,351.1 416.9,351.3 417.2,351.4 417.6,351.6 417.9,351.7 418.2,351.8 418.5,352.0 418.8,352.1 419.2,352.2 419.5,352.3 419.8,352.4 420.1,352.6 420.4,352.7 420.7,352.8 421.1,352.9 421.4,353.0 421.7,353.1 422.0,353.1 422.3,353.2 422.7,353.3 423.0,353.4 423.3,353.5 423.6,353.5 423.9,353.6 424.2,353.7 424.6,353.8 424.9,353.8 425.2,353.9 425.5,354.0 425.8,354.0 426.1,354.1 426.5,354.1 426.8,354.2 427.1,354.2 427.4,354.3 427.7,354.3 428.1,354.4 428.4,354.4 428.7,354.5 429.0,354.5 429.3,354.6 429.6,354.6 430.0,354.7 430.3,354.7 430.6,354.7 430.9,354.8 431.2,354.8 431.6,354.9 431.9,354.9 432.2,354.9 432.5,355.0 432.8,355.0 433.1,355.0 433.5,355.1 433.8,355.1 434.1,355.1 434.4,355.2 434.7,355.2 435.1,355.2 435.4,355.2 435.7,355.3 436.0,355.3 436.3,355.3 436.6,355.3 437.0,355.4 437.3,355.4 437.6,355.4 437.9,355.4 438.2,355.5 438.6,355.5 438.9,355.5 439.2,355.5 439.5,355.6 439.8,355.6 440.1,355.6 440.5,355.6 440.8,355.6 441.1,355.6 441.4,355.7 441.7,355.7 442.0,355.7 442.4,355.7 442.7,355.7 443.0,355.8 443.3,355.8 443.6,355.8 444.0,355.8 444.3,355.8 444.6,355.8 444.9,355.8 445.2,355.9 445.5,355.9 445.9,355.9 446.2,355.9 446.5,355.9 446.8,355.9 447.1,355.9 447.5,356.0 447.8,356.0 448.1,356.0 448.4,356.0 448.7,356.0 449.0,356.0 449.4,356.0 449.7,356.0 450.0,356.0 450.3,356.1 450.6,356.1 451.0,356.1 451.3,356.1 451.6,356.1 451.9,356.1 452.2,356.1 452.5,356.1 452.9,356.1 453.2,356.2 453.5,356.2 453.8,356.2 454.1,356.2 454.4,356.2 454.8,356.2 455.1,356.2 455.4,356.2 455.7,356.2 456.0,356.2 456.4,356.2 456.7,356.2 457.0,356.3 457.3,356.3 457.6,356.3 457.9,356.3 458.3,356.3 458.6,356.3 458.9,356.3 459.2,356.3 459.5,356.3 459.9,356.3 460.2,356.3 460.5,356.3 460.8,356.3 461.1,356.3 461.4,356.3 461.8,356.4 462.1,356.4 462.4,356.4 462.7,356.4 463.0,356.4 463.4,356.4 463.7,356.4 464.0,356.4 464.3,356.4 464.6,356.4 464.9,356.4 465.3,356.4 465.6,356.4 465.9,356.4 466.2,356.4 466.5,356.4 466.9,356.4 467.2,356.4 467.5,356.5 467.8,356.5 468.1,356.5 468.4,356.5 468.8,356.5 469.1,356.5 469.4,356.5 469.7,356.5 470.0,356.5 470.4,356.5 470.7,356.5 471.0,356.5 471.3,356.5 471.6,356.5 471.9,356.5 472.3,356.5 472.6,356.5 472.9,356.5 473.2,356.5 473.5,356.5 473.8,356.5 474.2,356.5 474.5,356.5 474.8,356.5 475.1,356.6 475.4,356.6 475.8,356.6 476.1,356.6 476.4,356.6 476.7,356.6 477.0,356.6 477.3,356.6 477.7,356.6 478.0,356.6 478.3,356.6" fill="none" stroke="#65cccc" stroke-width="0.7" opacity="0.9"/><polyline points="351.1,355.7 351.4,355.7 351.7,355.7 352.1,355.7 352.4,355.7 352.7,355.7 353.0,355.6 353.3,355.6 353.6,355.6 354.0,355.6 354.3,355.6 354.6,355.5 354.9,355.5 355.2,355.5 355.6,355.5 355.9,355.5 356.2,355.4 356.5,355.4 356.8,355.4 357.1,355.4 357.5,355.4 357.8,355.3 358.1,355.3 358.4,355.3 358.7,355.3 359.1,355.2 359.4,355.2 359.7,355.2 360.0,355.2 360.3,355.1 360.6,355.1 361.0,355.1 361.3,355.0 361.6,355.0 361.9,355.0 362.2,354.9 362.5,354.9 362.9,354.9 363.2,354.8 363.5,354.8 363.8,354.8 364.1,354.7 364.5,354.7 364.8,354.7 365.1,354.6 365.4,354.6 365.7,354.5 366.0,354.5 366.4,354.5 366.7,354.4 367.0,354.4 367.3,354.3 367.6,354.3 368.0,354.2 368.3,354.2 368.6,354.1 368.9,354.1 369.2,354.0 369.5,354.0 369.9,353.9 370.2,353.8 370.5,353.8 370.8,353.7 371.1,353.7 371.5,353.6 371.8,353.5 372.1,353.5 372.4,353.4 372.7,353.3 373.0,353.2 373.4,353.1 373.7,353.1 374.0,353.0 374.3,352.9 374.6,352.8 375.0,352.7 375.3,352.6 375.6,352.5 375.9,352.4 376.2,352.3 376.5,352.2 376.9,352.1 377.2,352.0 377.5,351.8 377.8,351.7 378.1,351.6 378.4,351.5 378.8,351.3 379.1,351.2 379.4,351.0 379.7,350.9 380.0,350.7 380.4,350.5 380.7,350.4 381.0,350.2 381.3,350.0 381.6,349.8 381.9,349.6 382.3,349.4 382.6,349.1 382.9,348.9 383.2,348.7 383.5,348.4 383.9,348.2 384.2,347.9 384.5,347.6 384.8,347.3 385.1,347.0 385.4,346.6 385.8,346.3 386.1,345.9 386.4,345.6 386.7,345.2 387.0,344.7 387.4,344.3 387.7,343.8 388.0,343.4 388.3,342.9 388.6,342.3 388.9,341.8 389.3,341.2 389.6,340.5 389.9,339.9 390.2,339.2 390.5,338.5 390.9,337.7 391.2,336.9 391.5,336.0 391.8,335.1 392.1,334.2 392.4,333.2 392.8,332.1 393.1,331.0 393.4,329.8 393.7,328.6 394.0,327.3 394.3,325.9 394.7,324.5 395.0,323.0 395.3,321.4 395.6,319.8 395.9,318.1 396.3,316.3 396.6,314.5 396.9,312.6 397.2,310.6 397.5,308.7 397.8,306.7 398.2,304.7 398.5,302.7 398.8,300.8 399.1,298.9 399.4,297.1 399.8,295.5 400.1,293.9 400.4,292.6 400.7,291.4 401.0,290.5 401.3,289.8 401.7,289.4 402.0,289.3 402.3,289.4 402.6,289.8 402.9,290.5 403.3,291.4 403.6,292.6 403.9,293.9 404.2,295.5 404.5,297.1 404.8,298.9 405.2,300.8 405.5,302.7 405.8,304.7 406.1,306.7 406.4,308.7 406.8,310.6 407.1,312.6 407.4,314.5 407.7,316.3 408.0,318.1 408.3,319.8 408.7,321.4 409.0,323.0 409.3,324.5 409.6,325.9 409.9,327.3 410.2,328.6 410.6,329.8 410.9,331.0 411.2,332.1 411.5,333.2 411.8,334.2 412.2,335.1 412.5,336.0 412.8,336.9 413.1,337.7 413.4,338.5 413.7,339.2 414.1,339.9 414.4,340.5 414.7,341.2 415.0,341.8 415.3,342.3 415.7,342.9 416.0,343.4 416.3,343.8 416.6,344.3 416.9,344.7 417.2,345.2 417.6,345.6 417.9,345.9 418.2,346.3 418.5,346.6 418.8,347.0 419.2,347.3 419.5,347.6 419.8,347.9 420.1,348.2 420.4,348.4 420.7,348.7 421.1,348.9 421.4,349.1 421.7,349.4 422.0,349.6 422.3,349.8 422.7,350.0 423.0,350.2 423.3,350.4 423.6,350.5 423.9,350.7 424.2,350.9 424.6,351.0 424.9,351.2 425.2,351.3 425.5,351.5 425.8,351.6 426.1,351.7 426.5,351.8 426.8,352.0 427.1,352.1 427.4,352.2 427.7,352.3 428.1,352.4 428.4,352.5 428.7,352.6 429.0,352.7 429.3,352.8 429.6,352.9 430.0,353.0 430.3,353.1 430.6,353.1 430.9,353.2 431.2,353.3 431.6,353.4 431.9,353.5 432.2,353.5 432.5,353.6 432.8,353.7 433.1,353.7 433.5,353.8 433.8,353.8 434.1,353.9 434.4,354.0 434.7,354.0 435.1,354.1 435.4,354.1 435.7,354.2 436.0,354.2 436.3,354.3 436.6,354.3 437.0,354.4 437.3,354.4 437.6,354.5 437.9,354.5 438.2,354.5 438.6,354.6 438.9,354.6 439.2,354.7 439.5,354.7 439.8,354.7 440.1,354.8 440.5,354.8 440.8,354.8 441.1,354.9 441.4,354.9 441.7,354.9 442.0,355.0 442.4,355.0 442.7,355.0 443.0,355.1 443.3,355.1 443.6,355.1 444.0,355.2 444.3,355.2 444.6,355.2 444.9,355.2 445.2,355.3 445.5,355.3 445.9,355.3 446.2,355.3 446.5,355.4 446.8,355.4 447.1,355.4 447.5,355.4 447.8,355.4 448.1,355.5 448.4,355.5 448.7,355.5 449.0,355.5 449.4,355.5 449.7,355.6 450.0,355.6 450.3,355.6 450.6,355.6 451.0,355.6 451.3,355.7 451.6,355.7 451.9,355.7 452.2,355.7 452.5,355.7 452.9,355.7 453.2,355.7 453.5,355.8 453.8,355.8 454.1,355.8 454.4,355.8 454.8,355.8 455.1,355.8 455.4,355.8 455.7,355.9 456.0,355.9 456.4,355.9 456.7,355.9 457.0,355.9 457.3,355.9 457.6,355.9 457.9,355.9 458.3,356.0 458.6,356.0 458.9,356.0 459.2,356.0 459.5,356.0 459.9,356.0 460.2,356.0 460.5,356.0 460.8,356.0 461.1,356.1 461.4,356.1 461.8,356.1 462.1,356.1 462.4,356.1 462.7,356.1 463.0,356.1 463.4,356.1 463.7,356.1 464.0,356.1 464.3,356.1 464.6,356.2 464.9,356.2 465.3,356.2 465.6,356.2 465.9,356.2 466.2,356.2 466.5,356.2 466.9,356.2 467.2,356.2 467.5,356.2 467.8,356.2 468.1,356.2 468.4,356.3 468.8,356.3 469.1,356.3 469.4,356.3 469.7,356.3 470.0,356.3 470.4,356.3 470.7,356.3 471.0,356.3 471.3,356.3 471.6,356.3 471.9,356.3 472.3,356.3 472.6,356.3 472.9,356.3 473.2,356.3 473.5,356.4 473.8,356.4 474.2,356.4 474.5,356.4 474.8,356.4 475.1,356.4 475.4,356.4 475.8,356.4 476.1,356.4 476.4,356.4 476.7,356.4 477.0,356.4 477.3,356.4 477.7,356.4 478.0,356.4 478.3,356.4" fill="none" stroke="#65b2cc" stroke-width="0.7" opacity="0.9"/><polyline points="351.1,355.8 351.4,355.8 351.7,355.8 352.1,355.8 352.4,355.8 352.7,355.8 353.0,355.8 353.3,355.8 353.6,355.7 354.0,355.7 354.3,355.7 354.6,355.7 354.9,355.7 355.2,355.7 355.6,355.7 355.9,355.6 356.2,355.6 356.5,355.6 356.8,355.6 357.1,355.6 357.5,355.6 357.8,355.5 358.1,355.5 358.4,355.5 358.7,355.5 359.1,355.5 359.4,355.4 359.7,355.4 360.0,355.4 360.3,355.4 360.6,355.4 361.0,355.3 361.3,355.3 361.6,355.3 361.9,355.3 362.2,355.3 362.5,355.2 362.9,355.2 363.2,355.2 363.5,355.2 363.8,355.1 364.1,355.1 364.5,355.1 364.8,355.1 365.1,355.0 365.4,355.0 365.7,355.0 366.0,354.9 366.4,354.9 366.7,354.9 367.0,354.8 367.3,354.8 367.6,354.8 368.0,354.7 368.3,354.7 368.6,354.7 368.9,354.6 369.2,354.6 369.5,354.6 369.9,354.5 370.2,354.5 370.5,354.5 370.8,354.4 371.1,354.4 371.5,354.3 371.8,354.3 372.1,354.2 372.4,354.2 372.7,354.1 373.0,354.1 373.4,354.0 373.7,354.0 374.0,353.9 374.3,353.9 374.6,353.8 375.0,353.8 375.3,353.7 375.6,353.7 375.9,353.6 376.2,353.5 376.5,353.5 376.9,353.4 377.2,353.3 377.5,353.3 377.8,353.2 378.1,353.1 378.4,353.1 378.8,353.0 379.1,352.9 379.4,352.8 379.7,352.7 380.0,352.6 380.4,352.5 380.7,352.5 381.0,352.4 381.3,352.3 381.6,352.2 381.9,352.0 382.3,351.9 382.6,351.8 382.9,351.7 383.2,351.6 383.5,351.5 383.9,351.3 384.2,351.2 384.5,351.1 384.8,350.9 385.1,350.8 385.4,350.6 385.8,350.5 386.1,350.3 386.4,350.1 386.7,350.0 387.0,349.8 387.4,349.6 387.7,349.4 388.0,349.2 388.3,349.0 388.6,348.8 388.9,348.5 389.3,348.3 389.6,348.0 389.9,347.8 390.2,347.5 390.5,347.2 390.9,346.9 391.2,346.6 391.5,346.3 391.8,346.0 392.1,345.6 392.4,345.3 392.8,344.9 393.1,344.5 393.4,344.1 393.7,343.7 394.0,343.2 394.3,342.7 394.7,342.2 395.0,341.7 395.3,341.2 395.6,340.6 395.9,340.0 396.3,339.4 396.6,338.7 396.9,338.0 397.2,337.3 397.5,336.5 397.8,335.7 398.2,334.9 398.5,334.0 398.8,333.1 399.1,332.1 399.4,331.1 399.8,330.0 400.1,328.9 400.4,327.7 400.7,326.5 401.0,325.2 401.3,323.8 401.7,322.4 402.0,320.9 402.3,319.4 402.6,317.8 402.9,316.2 403.3,314.5 403.6,312.8 403.9,311.0 404.2,309.2 404.5,307.4 404.8,305.5 405.2,303.7 405.5,301.9 405.8,300.2 406.1,298.4 406.4,296.8 406.8,295.3 407.1,293.9 407.4,292.7 407.7,291.6 408.0,290.7 408.3,290.0 408.7,289.5 409.0,289.3 409.3,289.3 409.6,289.5 409.9,290.0 410.2,290.7 410.6,291.6 410.9,292.7 411.2,293.9 411.5,295.3 411.8,296.8 412.2,298.4 412.5,300.2 412.8,301.9 413.1,303.7 413.4,305.5 413.7,307.4 414.1,309.2 414.4,311.0 414.7,312.8 415.0,314.5 415.3,316.2 415.7,317.8 416.0,319.4 416.3,320.9 416.6,322.4 416.9,323.8 417.2,325.2 417.6,326.5 417.9,327.7 418.2,328.9 418.5,330.0 418.8,331.1 419.2,332.1 419.5,333.1 419.8,334.0 420.1,334.9 420.4,335.7 420.7,336.5 421.1,337.3 421.4,338.0 421.7,338.7 422.0,339.4 422.3,340.0 422.7,340.6 423.0,341.2 423.3,341.7 423.6,342.2 423.9,342.7 424.2,343.2 424.6,343.7 424.9,344.1 425.2,344.5 425.5,344.9 425.8,345.3 426.1,345.6 426.5,346.0 426.8,346.3 427.1,346.6 427.4,346.9 427.7,347.2 428.1,347.5 428.4,347.8 428.7,348.0 429.0,348.3 429.3,348.5 429.6,348.8 430.0,349.0 430.3,349.2 430.6,349.4 430.9,349.6 431.2,349.8 431.6,350.0 431.9,350.1 432.2,350.3 432.5,350.5 432.8,350.6 433.1,350.8 433.5,350.9 433.8,351.1 434.1,351.2 434.4,351.3 434.7,351.5 435.1,351.6 435.4,351.7 435.7,351.8 436.0,351.9 436.3,352.0 436.6,352.2 437.0,352.3 437.3,352.4 437.6,352.5 437.9,352.5 438.2,352.6 438.6,352.7 438.9,352.8 439.2,352.9 439.5,353.0 439.8,353.1 440.1,353.1 440.5,353.2 440.8,353.3 441.1,353.3 441.4,353.4 441.7,353.5 442.0,353.5 442.4,353.6 442.7,353.7 443.0,353.7 443.3,353.8 443.6,353.8 444.0,353.9 444.3,353.9 444.6,354.0 444.9,354.0 445.2,354.1 445.5,354.1 445.9,354.2 446.2,354.2 446.5,354.3 446.8,354.3 447.1,354.4 447.5,354.4 447.8,354.5 448.1,354.5 448.4,354.5 448.7,354.6 449.0,354.6 449.4,354.6 449.7,354.7 450.0,354.7 450.3,354.7 450.6,354.8 451.0,354.8 451.3,354.8 451.6,354.9 451.9,354.9 452.2,354.9 452.5,355.0 452.9,355.0 453.2,355.0 453.5,355.1 453.8,355.1 454.1,355.1 454.4,355.1 454.8,355.2 455.1,355.2 455.4,355.2 455.7,355.2 456.0,355.3 456.4,355.3 456.7,355.3 457.0,355.3 457.3,355.3 457.6,355.4 457.9,355.4 458.3,355.4 458.6,355.4 458.9,355.4 459.2,355.5 459.5,355.5 459.9,355.5 460.2,355.5 460.5,355.5 460.8,355.6 461.1,355.6 461.4,355.6 461.8,355.6 462.1,355.6 462.4,355.6 462.7,355.7 463.0,355.7 463.4,355.7 463.7,355.7 464.0,355.7 464.3,355.7 464.6,355.7 464.9,355.8 465.3,355.8 465.6,355.8 465.9,355.8 466.2,355.8 466.5,355.8 466.9,355.8 467.2,355.8 467.5,355.9 467.8,355.9 468.1,355.9 468.4,355.9 468.8,355.9 469.1,355.9 469.4,355.9 469.7,355.9 470.0,356.0 470.4,356.0 470.7,356.0 471.0,356.0 471.3,356.0 471.6,356.0 471.9,356.0 472.3,356.0 472.6,356.0 472.9,356.0 473.2,356.1 473.5,356.1 473.8,356.1 474.2,356.1 474.5,356.1 474.8,356.1 475.1,356.1 475.4,356.1 475.8,356.1 476.1,356.1 476.4,356.1 476.7,356.1 477.0,356.2 477.3,356.2 477.7,356.2 478.0,356.2 478.3,356.2" fill="none" stroke="#6598cc" stroke-width="0.7" opacity="0.9"/><polyline points="351.1,355.9 351.4,355.9 351.7,355.9 352.1,355.9 352.4,355.9 352.7,355.9 353.0,355.9 353.3,355.9 353.6,355.9 354.0,355.8 354.3,355.8 354.6,355.8 354.9,355.8 355.2,355.8 355.6,355.8 355.9,355.8 356.2,355.8 356.5,355.7 356.8,355.7 357.1,355.7 357.5,355.7 357.8,355.7 358.1,355.7 358.4,355.7 358.7,355.7 359.1,355.6 359.4,355.6 359.7,355.6 360.0,355.6 360.3,355.6 360.6,355.6 361.0,355.5 361.3,355.5 361.6,355.5 361.9,355.5 362.2,355.5 362.5,355.5 362.9,355.4 363.2,355.4 363.5,355.4 363.8,355.4 364.1,355.4 364.5,355.4 364.8,355.3 365.1,355.3 365.4,355.3 365.7,355.3 366.0,355.3 366.4,355.2 366.7,355.2 367.0,355.2 367.3,355.2 367.6,355.1 368.0,355.1 368.3,355.1 368.6,355.1 368.9,355.0 369.2,355.0 369.5,355.0 369.9,355.0 370.2,354.9 370.5,354.9 370.8,354.9 371.1,354.9 371.5,354.8 371.8,354.8 372.1,354.8 372.4,354.7 372.7,354.7 373.0,354.7 373.4,354.6 373.7,354.6 374.0,354.6 374.3,354.5 374.6,354.5 375.0,354.5 375.3,354.4 375.6,354.4 375.9,354.3 376.2,354.3 376.5,354.3 376.9,354.2 377.2,354.2 377.5,354.1 377.8,354.1 378.1,354.1 378.4,354.0 378.8,354.0 379.1,353.9 379.4,353.9 379.7,353.8 380.0,353.8 380.4,353.7 380.7,353.6 381.0,353.6 381.3,353.5 381.6,353.5 381.9,353.4 382.3,353.3 382.6,353.3 382.9,353.2 383.2,353.2 383.5,353.1 383.9,353.0 384.2,352.9 384.5,352.9 384.8,352.8 385.1,352.7 385.4,352.6 385.8,352.5 386.1,352.5 386.4,352.4 386.7,352.3 387.0,352.2 387.4,352.1 387.7,352.0 388.0,351.9 388.3,351.8 388.6,351.7 388.9,351.6 389.3,351.5 389.6,351.3 389.9,351.2 390.2,351.1 390.5,351.0 390.9,350.8 391.2,350.7 391.5,350.5 391.8,350.4 392.1,350.2 392.4,350.1 392.8,349.9 393.1,349.8 393.4,349.6 393.7,349.4 394.0,349.2 394.3,349.0 394.7,348.8 395.0,348.6 395.3,348.4 395.6,348.2 395.9,347.9 396.3,347.7 396.6,347.4 396.9,347.2 397.2,346.9 397.5,346.6 397.8,346.3 398.2,346.0 398.5,345.7 398.8,345.4 399.1,345.1 399.4,344.7 399.8,344.3 400.1,344.0 400.4,343.5 400.7,343.1 401.0,342.7 401.3,342.2 401.7,341.8 402.0,341.3 402.3,340.7 402.6,340.2 402.9,339.6 403.3,339.0 403.6,338.4 403.9,337.8 404.2,337.1 404.5,336.4 404.8,335.6 405.2,334.9 405.5,334.0 405.8,333.2 406.1,332.3 406.4,331.4 406.8,330.4 407.1,329.4 407.4,328.3 407.7,327.2 408.0,326.1 408.3,324.9 408.7,323.6 409.0,322.3 409.3,321.0 409.6,319.6 409.9,318.1 410.2,316.6 410.6,315.1 410.9,313.5 411.2,311.9 411.5,310.2 411.8,308.6 412.2,306.9 412.5,305.2 412.8,303.5 413.1,301.9 413.4,300.3 413.7,298.7 414.1,297.2 414.4,295.8 414.7,294.4 415.0,293.2 415.3,292.2 415.7,291.2 416.0,290.5 416.3,289.9 416.6,289.5 416.9,289.3 417.2,289.3 417.6,289.5 417.9,289.9 418.2,290.5 418.5,291.2 418.8,292.2 419.2,293.2 419.5,294.4 419.8,295.8 420.1,297.2 420.4,298.7 420.7,300.3 421.1,301.9 421.4,303.5 421.7,305.2 422.0,306.9 422.3,308.6 422.7,310.2 423.0,311.9 423.3,313.5 423.6,315.1 423.9,316.6 424.2,318.1 424.6,319.6 424.9,321.0 425.2,322.3 425.5,323.6 425.8,324.9 426.1,326.1 426.5,327.2 426.8,328.3 427.1,329.4 427.4,330.4 427.7,331.4 428.1,332.3 428.4,333.2 428.7,334.0 429.0,334.9 429.3,335.6 429.6,336.4 430.0,337.1 430.3,337.8 430.6,338.4 430.9,339.0 431.2,339.6 431.6,340.2 431.9,340.7 432.2,341.3 432.5,341.8 432.8,342.2 433.1,342.7 433.5,343.1 433.8,343.5 434.1,344.0 434.4,344.3 434.7,344.7 435.1,345.1 435.4,345.4 435.7,345.7 436.0,346.0 436.3,346.3 436.6,346.6 437.0,346.9 437.3,347.2 437.6,347.4 437.9,347.7 438.2,347.9 438.6,348.2 438.9,348.4 439.2,348.6 439.5,348.8 439.8,349.0 440.1,349.2 440.5,349.4 440.8,349.6 441.1,349.8 441.4,349.9 441.7,350.1 442.0,350.2 442.4,350.4 442.7,350.5 443.0,350.7 443.3,350.8 443.6,351.0 444.0,351.1 444.3,351.2 444.6,351.3 444.9,351.5 445.2,351.6 445.5,351.7 445.9,351.8 446.2,351.9 446.5,352.0 446.8,352.1 447.1,352.2 447.5,352.3 447.8,352.4 448.1,352.5 448.4,352.5 448.7,352.6 449.0,352.7 449.4,352.8 449.7,352.9 450.0,352.9 450.3,353.0 450.6,353.1 451.0,353.2 451.3,353.2 451.6,353.3 451.9,353.3 452.2,353.4 452.5,353.5 452.9,353.5 453.2,353.6 453.5,353.6 453.8,353.7 454.1,353.8 454.4,353.8 454.8,353.9 455.1,353.9 455.4,354.0 455.7,354.0 456.0,354.1 456.4,354.1 456.7,354.1 457.0,354.2 457.3,354.2 457.6,354.3 457.9,354.3 458.3,354.3 458.6,354.4 458.9,354.4 459.2,354.5 459.5,354.5 459.9,354.5 460.2,354.6 460.5,354.6 460.8,354.6 461.1,354.7 461.4,354.7 461.8,354.7 462.1,354.8 462.4,354.8 462.7,354.8 463.0,354.9 463.4,354.9 463.7,354.9 464.0,354.9 464.3,355.0 464.6,355.0 464.9,355.0 465.3,355.0 465.6,355.1 465.9,355.1 466.2,355.1 466.5,355.1 466.9,355.2 467.2,355.2 467.5,355.2 467.8,355.2 468.1,355.3 468.4,355.3 468.8,355.3 469.1,355.3 469.4,355.3 469.7,355.4 470.0,355.4 470.4,355.4 470.7,355.4 471.0,355.4 471.3,355.4 471.6,355.5 471.9,355.5 472.3,355.5 472.6,355.5 472.9,355.5 473.2,355.5 473.5,355.6 473.8,355.6 474.2,355.6 474.5,355.6 474.8,355.6 475.1,355.6 475.4,355.7 475.8,355.7 476.1,355.7 476.4,355.7 476.7,355.7 477.0,355.7 477.3,355.7 477.7,355.7 478.0,355.8 478.3,355.8" fill="none" stroke="#6584cc" stroke-width="0.7" opacity="0.9"/><polyline points="351.1,356.0 351.4,356.0 351.7,356.0 352.1,356.0 352.4,356.0 352.7,356.0 353.0,356.0 353.3,355.9 353.6,355.9 354.0,355.9 354.3,355.9 354.6,355.9 354.9,355.9 355.2,355.9 355.6,355.9 355.9,355.9 356.2,355.9 356.5,355.8 356.8,355.8 357.1,355.8 357.5,355.8 357.8,355.8 358.1,355.8 358.4,355.8 358.7,355.8 359.1,355.8 359.4,355.7 359.7,355.7 360.0,355.7 360.3,355.7 360.6,355.7 361.0,355.7 361.3,355.7 361.6,355.7 361.9,355.6 362.2,355.6 362.5,355.6 362.9,355.6 363.2,355.6 363.5,355.6 363.8,355.6 364.1,355.5 364.5,355.5 364.8,355.5 365.1,355.5 365.4,355.5 365.7,355.5 366.0,355.4 366.4,355.4 366.7,355.4 367.0,355.4 367.3,355.4 367.6,355.4 368.0,355.3 368.3,355.3 368.6,355.3 368.9,355.3 369.2,355.3 369.5,355.2 369.9,355.2 370.2,355.2 370.5,355.2 370.8,355.2 371.1,355.1 371.5,355.1 371.8,355.1 372.1,355.1 372.4,355.1 372.7,355.0 373.0,355.0 373.4,355.0 373.7,355.0 374.0,354.9 374.3,354.9 374.6,354.9 375.0,354.9 375.3,354.8 375.6,354.8 375.9,354.8 376.2,354.7 376.5,354.7 376.9,354.7 377.2,354.7 377.5,354.6 377.8,354.6 378.1,354.6 378.4,354.5 378.8,354.5 379.1,354.5 379.4,354.4 379.7,354.4 380.0,354.4 380.4,354.3 380.7,354.3 381.0,354.2 381.3,354.2 381.6,354.2 381.9,354.1 382.3,354.1 382.6,354.0 382.9,354.0 383.2,353.9 383.5,353.9 383.9,353.9 384.2,353.8 384.5,353.8 384.8,353.7 385.1,353.7 385.4,353.6 385.8,353.5 386.1,353.5 386.4,353.4 386.7,353.4 387.0,353.3 387.4,353.3 387.7,353.2 388.0,353.1 388.3,353.1 388.6,353.0 388.9,352.9 389.3,352.9 389.6,352.8 389.9,352.7 390.2,352.6 390.5,352.6 390.9,352.5 391.2,352.4 391.5,352.3 391.8,352.2 392.1,352.2 392.4,352.1 392.8,352.0 393.1,351.9 393.4,351.8 393.7,351.7 394.0,351.6 394.3,351.5 394.7,351.4 395.0,351.2 395.3,351.1 395.6,351.0 395.9,350.9 396.3,350.8 396.6,350.6 396.9,350.5 397.2,350.3 397.5,350.2 397.8,350.1 398.2,349.9 398.5,349.7 398.8,349.6 399.1,349.4 399.4,349.2 399.8,349.1 400.1,348.9 400.4,348.7 400.7,348.5 401.0,348.3 401.3,348.1 401.7,347.9 402.0,347.6 402.3,347.4 402.6,347.2 402.9,346.9 403.3,346.6 403.6,346.4 403.9,346.1 404.2,345.8 404.5,345.5 404.8,345.2 405.2,344.9 405.5,344.5 405.8,344.2 406.1,343.8 406.4,343.4 406.8,343.0 407.1,342.6 407.4,342.2 407.7,341.7 408.0,341.3 408.3,340.8 408.7,340.3 409.0,339.8 409.3,339.2 409.6,338.6 409.9,338.1 410.2,337.4 410.6,336.8 410.9,336.1 411.2,335.4 411.5,334.7 411.8,333.9 412.2,333.1 412.5,332.3 412.8,331.4 413.1,330.5 413.4,329.6 413.7,328.6 414.1,327.6 414.4,326.5 414.7,325.4 415.0,324.3 415.3,323.1 415.7,321.9 416.0,320.6 416.3,319.3 416.6,317.9 416.9,316.5 417.2,315.1 417.6,313.6 417.9,312.1 418.2,310.6 418.5,309.0 418.8,307.5 419.2,305.9 419.5,304.3 419.8,302.8 420.1,301.3 420.4,299.8 420.7,298.3 421.1,296.9 421.4,295.6 421.7,294.4 422.0,293.3 422.3,292.2 422.7,291.4 423.0,290.6 423.3,290.0 423.6,289.6 423.9,289.4 424.2,289.3 424.6,289.4 424.9,289.6 425.2,290.0 425.5,290.6 425.8,291.4 426.1,292.2 426.5,293.3 426.8,294.4 427.1,295.6 427.4,296.9 427.7,298.3 428.1,299.8 428.4,301.3 428.7,302.8 429.0,304.3 429.3,305.9 429.6,307.5 430.0,309.0 430.3,310.6 430.6,312.1 430.9,313.6 431.2,315.1 431.6,316.5 431.9,317.9 432.2,319.3 432.5,320.6 432.8,321.9 433.1,323.1 433.5,324.3 433.8,325.4 434.1,326.5 434.4,327.6 434.7,328.6 435.1,329.6 435.4,330.5 435.7,331.4 436.0,332.3 436.3,333.1 436.6,333.9 437.0,334.7 437.3,335.4 437.6,336.1 437.9,336.8 438.2,337.4 438.6,338.1 438.9,338.6 439.2,339.2 439.5,339.8 439.8,340.3 440.1,340.8 440.5,341.3 440.8,341.7 441.1,342.2 441.4,342.6 441.7,343.0 442.0,343.4 442.4,343.8 442.7,344.2 443.0,344.5 443.3,344.9 443.6,345.2 444.0,345.5 444.3,345.8 444.6,346.1 444.9,346.4 445.2,346.6 445.5,346.9 445.9,347.2 446.2,347.4 446.5,347.6 446.8,347.9 447.1,348.1 447.5,348.3 447.8,348.5 448.1,348.7 448.4,348.9 448.7,349.1 449.0,349.2 449.4,349.4 449.7,349.6 450.0,349.7 450.3,349.9 450.6,350.1 451.0,350.2 451.3,350.3 451.6,350.5 451.9,350.6 452.2,350.8 452.5,350.9 452.9,351.0 453.2,351.1 453.5,351.2 453.8,351.4 454.1,351.5 454.4,351.6 454.8,351.7 455.1,351.8 455.4,351.9 455.7,352.0 456.0,352.1 456.4,352.2 456.7,352.2 457.0,352.3 457.3,352.4 457.6,352.5 457.9,352.6 458.3,352.6 458.6,352.7 458.9,352.8 459.2,352.9 459.5,352.9 459.9,353.0 460.2,353.1 460.5,353.1 460.8,353.2 461.1,353.3 461.4,353.3 461.8,353.4 462.1,353.4 462.4,353.5 462.7,353.5 463.0,353.6 463.4,353.7 463.7,353.7 464.0,353.8 464.3,353.8 464.6,353.9 464.9,353.9 465.3,353.9 465.6,354.0 465.9,354.0 466.2,354.1 466.5,354.1 466.9,354.2 467.2,354.2 467.5,354.2 467.8,354.3 468.1,354.3 468.4,354.4 468.8,354.4 469.1,354.4 469.4,354.5 469.7,354.5 470.0,354.5 470.4,354.6 470.7,354.6 471.0,354.6 471.3,354.7 471.6,354.7 471.9,354.7 472.3,354.7 472.6,354.8 472.9,354.8 473.2,354.8 473.5,354.9 473.8,354.9 474.2,354.9 474.5,354.9 474.8,355.0 475.1,355.0 475.4,355.0 475.8,355.0 476.1,355.1 476.4,355.1 476.7,355.1 477.0,355.1 477.3,355.1 477.7,355.2 478.0,355.2 478.3,355.2" fill="none" stroke="#6573cc" stroke-width="0.7" opacity="0.9"/><polyline points="351.1,356.1 351.4,356.0 351.7,356.0 352.1,356.0 352.4,356.0 352.7,356.0 353.0,356.0 353.3,356.0 353.6,356.0 354.0,356.0 354.3,356.0 354.6,356.0 354.9,356.0 355.2,355.9 355.6,355.9 355.9,355.9 356.2,355.9 356.5,355.9 356.8,355.9 357.1,355.9 357.5,355.9 357.8,355.9 358.1,355.9 358.4,355.9 358.7,355.8 359.1,355.8 359.4,355.8 359.7,355.8 360.0,355.8 360.3,355.8 360.6,355.8 361.0,355.8 361.3,355.8 361.6,355.8 361.9,355.7 362.2,355.7 362.5,355.7 362.9,355.7 363.2,355.7 363.5,355.7 363.8,355.7 364.1,355.7 364.5,355.6 364.8,355.6 365.1,355.6 365.4,355.6 365.7,355.6 366.0,355.6 366.4,355.6 366.7,355.5 367.0,355.5 367.3,355.5 367.6,355.5 368.0,355.5 368.3,355.5 368.6,355.5 368.9,355.4 369.2,355.4 369.5,355.4 369.9,355.4 370.2,355.4 370.5,355.4 370.8,355.3 371.1,355.3 371.5,355.3 371.8,355.3 372.1,355.3 372.4,355.3 372.7,355.2 373.0,355.2 373.4,355.2 373.7,355.2 374.0,355.2 374.3,355.1 374.6,355.1 375.0,355.1 375.3,355.1 375.6,355.1 375.9,355.0 376.2,355.0 376.5,355.0 376.9,355.0 377.2,354.9 377.5,354.9 377.8,354.9 378.1,354.9 378.4,354.8 378.8,354.8 379.1,354.8 379.4,354.8 379.7,354.7 380.0,354.7 380.4,354.7 380.7,354.7 381.0,354.6 381.3,354.6 381.6,354.6 381.9,354.5 382.3,354.5 382.6,354.5 382.9,354.4 383.2,354.4 383.5,354.4 383.9,354.3 384.2,354.3 384.5,354.3 384.8,354.2 385.1,354.2 385.4,354.2 385.8,354.1 386.1,354.1 386.4,354.0 386.7,354.0 387.0,354.0 387.4,353.9 387.7,353.9 388.0,353.8 388.3,353.8 388.6,353.7 388.9,353.7 389.3,353.6 389.6,353.6 389.9,353.5 390.2,353.5 390.5,353.4 390.9,353.4 391.2,353.3 391.5,353.3 391.8,353.2 392.1,353.1 392.4,353.1 392.8,353.0 393.1,353.0 393.4,352.9 393.7,352.8 394.0,352.8 394.3,352.7 394.7,352.6 395.0,352.5 395.3,352.5 395.6,352.4 395.9,352.3 396.3,352.2 396.6,352.1 396.9,352.1 397.2,352.0 397.5,351.9 397.8,351.8 398.2,351.7 398.5,351.6 398.8,351.5 399.1,351.4 399.4,351.3 399.8,351.2 400.1,351.1 400.4,351.0 400.7,350.8 401.0,350.7 401.3,350.6 401.7,350.5 402.0,350.3 402.3,350.2 402.6,350.1 402.9,349.9 403.3,349.8 403.6,349.6 403.9,349.5 404.2,349.3 404.5,349.1 404.8,349.0 405.2,348.8 405.5,348.6 405.8,348.4 406.1,348.2 406.4,348.0 406.8,347.8 407.1,347.6 407.4,347.4 407.7,347.1 408.0,346.9 408.3,346.6 408.7,346.4 409.0,346.1 409.3,345.8 409.6,345.6 409.9,345.3 410.2,345.0 410.6,344.7 410.9,344.3 411.2,344.0 411.5,343.6 411.8,343.3 412.2,342.9 412.5,342.5 412.8,342.1 413.1,341.7 413.4,341.2 413.7,340.8 414.1,340.3 414.4,339.8 414.7,339.3 415.0,338.8 415.3,338.2 415.7,337.6 416.0,337.0 416.3,336.4 416.6,335.8 416.9,335.1 417.2,334.4 417.6,333.6 417.9,332.9 418.2,332.1 418.5,331.3 418.8,330.4 419.2,329.5 419.5,328.6 419.8,327.6 420.1,326.6 420.4,325.6 420.7,324.5 421.1,323.4 421.4,322.3 421.7,321.1 422.0,319.9 422.3,318.6 422.7,317.3 423.0,316.0 423.3,314.6 423.6,313.2 423.9,311.8 424.2,310.4 424.6,308.9 424.9,307.4 425.2,306.0 425.5,304.5 425.8,303.0 426.1,301.6 426.5,300.1 426.8,298.8 427.1,297.4 427.4,296.2 427.7,295.0 428.1,293.9 428.4,292.8 428.7,291.9 429.0,291.1 429.3,290.5 429.6,290.0 430.0,289.6 430.3,289.4 430.6,289.3 430.9,289.4 431.2,289.6 431.6,290.0 431.9,290.5 432.2,291.1 432.5,291.9 432.8,292.8 433.1,293.9 433.5,295.0 433.8,296.2 434.1,297.4 434.4,298.8 434.7,300.1 435.1,301.6 435.4,303.0 435.7,304.5 436.0,306.0 436.3,307.4 436.6,308.9 437.0,310.4 437.3,311.8 437.6,313.2 437.9,314.6 438.2,316.0 438.6,317.3 438.9,318.6 439.2,319.9 439.5,321.1 439.8,322.3 440.1,323.4 440.5,324.5 440.8,325.6 441.1,326.6 441.4,327.6 441.7,328.6 442.0,329.5 442.4,330.4 442.7,331.3 443.0,332.1 443.3,332.9 443.6,333.6 444.0,334.4 444.3,335.1 444.6,335.8 444.9,336.4 445.2,337.0 445.5,337.6 445.9,338.2 446.2,338.8 446.5,339.3 446.8,339.8 447.1,340.3 447.5,340.8 447.8,341.2 448.1,341.7 448.4,342.1 448.7,342.5 449.0,342.9 449.4,343.3 449.7,343.6 450.0,344.0 450.3,344.3 450.6,344.7 451.0,345.0 451.3,345.3 451.6,345.6 451.9,345.8 452.2,346.1 452.5,346.4 452.9,346.6 453.2,346.9 453.5,347.1 453.8,347.4 454.1,347.6 454.4,347.8 454.8,348.0 455.1,348.2 455.4,348.4 455.7,348.6 456.0,348.8 456.4,349.0 456.7,349.1 457.0,349.3 457.3,349.5 457.6,349.6 457.9,349.8 458.3,349.9 458.6,350.1 458.9,350.2 459.2,350.3 459.5,350.5 459.9,350.6 460.2,350.7 460.5,350.8 460.8,351.0 461.1,351.1 461.4,351.2 461.8,351.3 462.1,351.4 462.4,351.5 462.7,351.6 463.0,351.7 463.4,351.8 463.7,351.9 464.0,352.0 464.3,352.1 464.6,352.1 464.9,352.2 465.3,352.3 465.6,352.4 465.9,352.5 466.2,352.5 466.5,352.6 466.9,352.7 467.2,352.8 467.5,352.8 467.8,352.9 468.1,353.0 468.4,353.0 468.8,353.1 469.1,353.1 469.4,353.2 469.7,353.3 470.0,353.3 470.4,353.4 470.7,353.4 471.0,353.5 471.3,353.5 471.6,353.6 471.9,353.6 472.3,353.7 472.6,353.7 472.9,353.8 473.2,353.8 473.5,353.9 473.8,353.9 474.2,354.0 474.5,354.0 474.8,354.0 475.1,354.1 475.4,354.1 475.8,354.2 476.1,354.2 476.4,354.2 476.7,354.3 477.0,354.3 477.3,354.3 477.7,354.4 478.0,354.4 478.3,354.4" fill="none" stroke="#6965cc" stroke-width="0.7" opacity="0.9"/><polyline points="351.1,356.1 351.4,356.1 351.7,356.1 352.1,356.1 352.4,356.1 352.7,356.1 353.0,356.1 353.3,356.1 353.6,356.0 354.0,356.0 354.3,356.0 354.6,356.0 354.9,356.0 355.2,356.0 355.6,356.0 355.9,356.0 356.2,356.0 356.5,356.0 356.8,356.0 357.1,356.0 357.5,356.0 357.8,355.9 358.1,355.9 358.4,355.9 358.7,355.9 359.1,355.9 359.4,355.9 359.7,355.9 360.0,355.9 360.3,355.9 360.6,355.9 361.0,355.9 361.3,355.8 361.6,355.8 361.9,355.8 362.2,355.8 362.5,355.8 362.9,355.8 363.2,355.8 363.5,355.8 363.8,355.8 364.1,355.8 364.5,355.7 364.8,355.7 365.1,355.7 365.4,355.7 365.7,355.7 366.0,355.7 366.4,355.7 366.7,355.7 367.0,355.7 367.3,355.6 367.6,355.6 368.0,355.6 368.3,355.6 368.6,355.6 368.9,355.6 369.2,355.6 369.5,355.6 369.9,355.5 370.2,355.5 370.5,355.5 370.8,355.5 371.1,355.5 371.5,355.5 371.8,355.5 372.1,355.4 372.4,355.4 372.7,355.4 373.0,355.4 373.4,355.4 373.7,355.4 374.0,355.4 374.3,355.3 374.6,355.3 375.0,355.3 375.3,355.3 375.6,355.3 375.9,355.3 376.2,355.2 376.5,355.2 376.9,355.2 377.2,355.2 377.5,355.2 377.8,355.1 378.1,355.1 378.4,355.1 378.8,355.1 379.1,355.1 379.4,355.0 379.7,355.0 380.0,355.0 380.4,355.0 380.7,355.0 381.0,354.9 381.3,354.9 381.6,354.9 381.9,354.9 382.3,354.8 382.6,354.8 382.9,354.8 383.2,354.8 383.5,354.7 383.9,354.7 384.2,354.7 384.5,354.7 384.8,354.6 385.1,354.6 385.4,354.6 385.8,354.6 386.1,354.5 386.4,354.5 386.7,354.5 387.0,354.4 387.4,354.4 387.7,354.4 388.0,354.3 388.3,354.3 388.6,354.3 388.9,354.2 389.3,354.2 389.6,354.2 389.9,354.1 390.2,354.1 390.5,354.1 390.9,354.0 391.2,354.0 391.5,353.9 391.8,353.9 392.1,353.9 392.4,353.8 392.8,353.8 393.1,353.7 393.4,353.7 393.7,353.6 394.0,353.6 394.3,353.5 394.7,353.5 395.0,353.4 395.3,353.4 395.6,353.3 395.9,353.3 396.3,353.2 396.6,353.2 396.9,353.1 397.2,353.1 397.5,353.0 397.8,352.9 398.2,352.9 398.5,352.8 398.8,352.8 399.1,352.7 399.4,352.6 399.8,352.6 400.1,352.5 400.4,352.4 400.7,352.3 401.0,352.3 401.3,352.2 401.7,352.1 402.0,352.0 402.3,351.9 402.6,351.9 402.9,351.8 403.3,351.7 403.6,351.6 403.9,351.5 404.2,351.4 404.5,351.3 404.8,351.2 405.2,351.1 405.5,351.0 405.8,350.9 406.1,350.8 406.4,350.7 406.8,350.5 407.1,350.4 407.4,350.3 407.7,350.2 408.0,350.0 408.3,349.9 408.7,349.8 409.0,349.6 409.3,349.5 409.6,349.3 409.9,349.2 410.2,349.0 410.6,348.8 410.9,348.7 411.2,348.5 411.5,348.3 411.8,348.1 412.2,347.9 412.5,347.7 412.8,347.5 413.1,347.3 413.4,347.1 413.7,346.9 414.1,346.6 414.4,346.4 414.7,346.2 415.0,345.9 415.3,345.6 415.7,345.4 416.0,345.1 416.3,344.8 416.6,344.5 416.9,344.2 417.2,343.9 417.6,343.5 417.9,343.2 418.2,342.8 418.5,342.4 418.8,342.1 419.2,341.7 419.5,341.2 419.8,340.8 420.1,340.4 420.4,339.9 420.7,339.4 421.1,338.9 421.4,338.4 421.7,337.9 422.0,337.3 422.3,336.8 422.7,336.2 423.0,335.5 423.3,334.9 423.6,334.2 423.9,333.5 424.2,332.8 424.6,332.1 424.9,331.3 425.2,330.5 425.5,329.7 425.8,328.8 426.1,327.9 426.5,327.0 426.8,326.0 427.1,325.0 427.4,324.0 427.7,323.0 428.1,321.9 428.4,320.8 428.7,319.6 429.0,318.4 429.3,317.2 429.6,315.9 430.0,314.6 430.3,313.3 430.6,312.0 430.9,310.7 431.2,309.3 431.6,307.9 431.9,306.5 432.2,305.1 432.5,303.7 432.8,302.4 433.1,301.0 433.5,299.7 433.8,298.4 434.1,297.2 434.4,296.0 434.7,294.9 435.1,293.8 435.4,292.9 435.7,292.0 436.0,291.3 436.3,290.6 436.6,290.1 437.0,289.7 437.3,289.4 437.6,289.3 437.9,289.3 438.2,289.4 438.6,289.7 438.9,290.1 439.2,290.6 439.5,291.3 439.8,292.0 440.1,292.9 440.5,293.8 440.8,294.9 441.1,296.0 441.4,297.2 441.7,298.4 442.0,299.7 442.4,301.0 442.7,302.4 443.0,303.7 443.3,305.1 443.6,306.5 444.0,307.9 444.3,309.3 444.6,310.7 444.9,312.0 445.2,313.3 445.5,314.6 445.9,315.9 446.2,317.2 446.5,318.4 446.8,319.6 447.1,320.8 447.5,321.9 447.8,323.0 448.1,324.0 448.4,325.0 448.7,326.0 449.0,327.0 449.4,327.9 449.7,328.8 450.0,329.7 450.3,330.5 450.6,331.3 451.0,332.1 451.3,332.8 451.6,333.5 451.9,334.2 452.2,334.9 452.5,335.5 452.9,336.2 453.2,336.8 453.5,337.3 453.8,337.9 454.1,338.4 454.4,338.9 454.8,339.4 455.1,339.9 455.4,340.4 455.7,340.8 456.0,341.2 456.4,341.7 456.7,342.1 457.0,342.4 457.3,342.8 457.6,343.2 457.9,343.5 458.3,343.9 458.6,344.2 458.9,344.5 459.2,344.8 459.5,345.1 459.9,345.4 460.2,345.6 460.5,345.9 460.8,346.2 461.1,346.4 461.4,346.6 461.8,346.9 462.1,347.1 462.4,347.3 462.7,347.5 463.0,347.7 463.4,347.9 463.7,348.1 464.0,348.3 464.3,348.5 464.6,348.7 464.9,348.8 465.3,349.0 465.6,349.2 465.9,349.3 466.2,349.5 466.5,349.6 466.9,349.8 467.2,349.9 467.5,350.0 467.8,350.2 468.1,350.3 468.4,350.4 468.8,350.5 469.1,350.7 469.4,350.8 469.7,350.9 470.0,351.0 470.4,351.1 470.7,351.2 471.0,351.3 471.3,351.4 471.6,351.5 471.9,351.6 472.3,351.7 472.6,351.8 472.9,351.9 473.2,351.9 473.5,352.0 473.8,352.1 474.2,352.2 474.5,352.3 474.8,352.3 475.1,352.4 475.4,352.5 475.8,352.6 476.1,352.6 476.4,352.7 476.7,352.8 477.0,352.8 477.3,352.9 477.7,352.9 478.0,353.0 478.3,353.1" fill="none" stroke="#8b65cc" stroke-width="0.7" opacity="0.9"/><polyline points="351.1,356.1 351.4,356.1 351.7,356.1 352.1,356.1 352.4,356.1 352.7,356.1 353.0,356.1 353.3,356.1 353.6,356.1 354.0,356.1 354.3,356.1 354.6,356.1 354.9,356.1 355.2,356.1 355.6,356.1 355.9,356.0 356.2,356.0 356.5,356.0 356.8,356.0 357.1,356.0 357.5,356.0 357.8,356.0 358.1,356.0 358.4,356.0 358.7,356.0 359.1,356.0 359.4,356.0 359.7,356.0 360.0,356.0 360.3,356.0 360.6,355.9 361.0,355.9 361.3,355.9 361.6,355.9 361.9,355.9 362.2,355.9 362.5,355.9 362.9,355.9 363.2,355.9 363.5,355.9 363.8,355.9 364.1,355.9 364.5,355.8 364.8,355.8 365.1,355.8 365.4,355.8 365.7,355.8 366.0,355.8 366.4,355.8 366.7,355.8 367.0,355.8 367.3,355.8 367.6,355.8 368.0,355.7 368.3,355.7 368.6,355.7 368.9,355.7 369.2,355.7 369.5,355.7 369.9,355.7 370.2,355.7 370.5,355.7 370.8,355.6 371.1,355.6 371.5,355.6 371.8,355.6 372.1,355.6 372.4,355.6 372.7,355.6 373.0,355.6 373.4,355.6 373.7,355.5 374.0,355.5 374.3,355.5 374.6,355.5 375.0,355.5 375.3,355.5 375.6,355.5 375.9,355.4 376.2,355.4 376.5,355.4 376.9,355.4 377.2,355.4 377.5,355.4 377.8,355.4 378.1,355.3 378.4,355.3 378.8,355.3 379.1,355.3 379.4,355.3 379.7,355.3 380.0,355.3 380.4,355.2 380.7,355.2 381.0,355.2 381.3,355.2 381.6,355.2 381.9,355.2 382.3,355.1 382.6,355.1 382.9,355.1 383.2,355.1 383.5,355.1 383.9,355.0 384.2,355.0 384.5,355.0 384.8,355.0 385.1,355.0 385.4,354.9 385.8,354.9 386.1,354.9 386.4,354.9 386.7,354.9 387.0,354.8 387.4,354.8 387.7,354.8 388.0,354.8 388.3,354.7 388.6,354.7 388.9,354.7 389.3,354.7 389.6,354.6 389.9,354.6 390.2,354.6 390.5,354.6 390.9,354.5 391.2,354.5 391.5,354.5 391.8,354.5 392.1,354.4 392.4,354.4 392.8,354.4 393.1,354.3 393.4,354.3 393.7,354.3 394.0,354.2 394.3,354.2 394.7,354.2 395.0,354.1 395.3,354.1 395.6,354.1 395.9,354.0 396.3,354.0 396.6,354.0 396.9,353.9 397.2,353.9 397.5,353.9 397.8,353.8 398.2,353.8 398.5,353.7 398.8,353.7 399.1,353.6 399.4,353.6 399.8,353.6 400.1,353.5 400.4,353.5 400.7,353.4 401.0,353.4 401.3,353.3 401.7,353.3 402.0,353.2 402.3,353.2 402.6,353.1 402.9,353.1 403.3,353.0 403.6,353.0 403.9,352.9 404.2,352.8 404.5,352.8 404.8,352.7 405.2,352.7 405.5,352.6 405.8,352.5 406.1,352.5 406.4,352.4 406.8,352.3 407.1,352.3 407.4,352.2 407.7,352.1 408.0,352.0 408.3,352.0 408.7,351.9 409.0,351.8 409.3,351.7 409.6,351.6 409.9,351.6 410.2,351.5 410.6,351.4 410.9,351.3 411.2,351.2 411.5,351.1 411.8,351.0 412.2,350.9 412.5,350.8 412.8,350.7 413.1,350.6 413.4,350.5 413.7,350.3 414.1,350.2 414.4,350.1 414.7,350.0 415.0,349.9 415.3,349.7 415.7,349.6 416.0,349.5 416.3,349.3 416.6,349.2 416.9,349.0 417.2,348.9 417.6,348.7 417.9,348.5 418.2,348.4 418.5,348.2 418.8,348.0 419.2,347.8 419.5,347.7 419.8,347.5 420.1,347.3 420.4,347.1 420.7,346.9 421.1,346.6 421.4,346.4 421.7,346.2 422.0,346.0 422.3,345.7 422.7,345.5 423.0,345.2 423.3,344.9 423.6,344.7 423.9,344.4 424.2,344.1 424.6,343.8 424.9,343.5 425.2,343.1 425.5,342.8 425.8,342.5 426.1,342.1 426.5,341.7 426.8,341.3 427.1,340.9 427.4,340.5 427.7,340.1 428.1,339.7 428.4,339.2 428.7,338.8 429.0,338.3 429.3,337.8 429.6,337.3 430.0,336.7 430.3,336.2 430.6,335.6 430.9,335.0 431.2,334.4 431.6,333.7 431.9,333.1 432.2,332.4 432.5,331.7 432.8,331.0 433.1,330.2 433.5,329.4 433.8,328.6 434.1,327.8 434.4,326.9 434.7,326.0 435.1,325.1 435.4,324.1 435.7,323.1 436.0,322.1 436.3,321.1 436.6,320.0 437.0,318.9 437.3,317.8 437.6,316.6 437.9,315.5 438.2,314.3 438.6,313.0 438.9,311.8 439.2,310.5 439.5,309.3 439.8,308.0 440.1,306.7 440.5,305.4 440.8,304.1 441.1,302.8 441.4,301.6 441.7,300.3 442.0,299.1 442.4,297.9 442.7,296.8 443.0,295.7 443.3,294.7 443.6,293.7 444.0,292.8 444.3,292.0 444.6,291.3 444.9,290.7 445.2,290.2 445.5,289.8 445.9,289.5 446.2,289.3 446.5,289.3 446.8,289.3 447.1,289.5 447.5,289.8 447.8,290.2 448.1,290.7 448.4,291.3 448.7,292.0 449.0,292.8 449.4,293.7 449.7,294.7 450.0,295.7 450.3,296.8 450.6,297.9 451.0,299.1 451.3,300.3 451.6,301.6 451.9,302.8 452.2,304.1 452.5,305.4 452.9,306.7 453.2,308.0 453.5,309.3 453.8,310.5 454.1,311.8 454.4,313.0 454.8,314.3 455.1,315.5 455.4,316.6 455.7,317.8 456.0,318.9 456.4,320.0 456.7,321.1 457.0,322.1 457.3,323.1 457.6,324.1 457.9,325.1 458.3,326.0 458.6,326.9 458.9,327.8 459.2,328.6 459.5,329.4 459.9,330.2 460.2,331.0 460.5,331.7 460.8,332.4 461.1,333.1 461.4,333.7 461.8,334.4 462.1,335.0 462.4,335.6 462.7,336.2 463.0,336.7 463.4,337.3 463.7,337.8 464.0,338.3 464.3,338.8 464.6,339.2 464.9,339.7 465.3,340.1 465.6,340.5 465.9,340.9 466.2,341.3 466.5,341.7 466.9,342.1 467.2,342.5 467.5,342.8 467.8,343.1 468.1,343.5 468.4,343.8 468.8,344.1 469.1,344.4 469.4,344.7 469.7,344.9 470.0,345.2 470.4,345.5 470.7,345.7 471.0,346.0 471.3,346.2 471.6,346.4 471.9,346.6 472.3,346.9 472.6,347.1 472.9,347.3 473.2,347.5 473.5,347.7 473.8,347.8 474.2,348.0 474.5,348.2 474.8,348.4 475.1,348.5 475.4,348.7 475.8,348.9 476.1,349.0 476.4,349.2 476.7,349.3 477.0,349.5 477.3,349.6 477.7,349.7 478.0,349.9 478.3,350.0" fill="none" stroke="#ba65cc" stroke-width="0.7" opacity="0.9"/><polyline points="351.1,356.2 351.4,356.2 351.7,356.2 352.1,356.2 352.4,356.2 352.7,356.2 353.0,356.2 353.3,356.2 353.6,356.2 354.0,356.2 354.3,356.2 354.6,356.1 354.9,356.1 355.2,356.1 355.6,356.1 355.9,356.1 356.2,356.1 356.5,356.1 356.8,356.1 357.1,356.1 357.5,356.1 357.8,356.1 358.1,356.1 358.4,356.1 358.7,356.1 359.1,356.1 359.4,356.1 359.7,356.1 360.0,356.1 360.3,356.1 360.6,356.0 361.0,356.0 361.3,356.0 361.6,356.0 361.9,356.0 362.2,356.0 362.5,356.0 362.9,356.0 363.2,356.0 363.5,356.0 363.8,356.0 364.1,356.0 364.5,356.0 364.8,356.0 365.1,356.0 365.4,356.0 365.7,355.9 366.0,355.9 366.4,355.9 366.7,355.9 367.0,355.9 367.3,355.9 367.6,355.9 368.0,355.9 368.3,355.9 368.6,355.9 368.9,355.9 369.2,355.9 369.5,355.9 369.9,355.8 370.2,355.8 370.5,355.8 370.8,355.8 371.1,355.8 371.5,355.8 371.8,355.8 372.1,355.8 372.4,355.8 372.7,355.8 373.0,355.8 373.4,355.8 373.7,355.8 374.0,355.7 374.3,355.7 374.6,355.7 375.0,355.7 375.3,355.7 375.6,355.7 375.9,355.7 376.2,355.7 376.5,355.7 376.9,355.7 377.2,355.6 377.5,355.6 377.8,355.6 378.1,355.6 378.4,355.6 378.8,355.6 379.1,355.6 379.4,355.6 379.7,355.6 380.0,355.6 380.4,355.5 380.7,355.5 381.0,355.5 381.3,355.5 381.6,355.5 381.9,355.5 382.3,355.5 382.6,355.5 382.9,355.5 383.2,355.4 383.5,355.4 383.9,355.4 384.2,355.4 384.5,355.4 384.8,355.4 385.1,355.4 385.4,355.3 385.8,355.3 386.1,355.3 386.4,355.3 386.7,355.3 387.0,355.3 387.4,355.3 387.7,355.3 388.0,355.2 388.3,355.2 388.6,355.2 388.9,355.2 389.3,355.2 389.6,355.2 389.9,355.1 390.2,355.1 390.5,355.1 390.9,355.1 391.2,355.1 391.5,355.1 391.8,355.0 392.1,355.0 392.4,355.0 392.8,355.0 393.1,355.0 393.4,355.0 393.7,354.9 394.0,354.9 394.3,354.9 394.7,354.9 395.0,354.9 395.3,354.8 395.6,354.8 395.9,354.8 396.3,354.8 396.6,354.8 396.9,354.7 397.2,354.7 397.5,354.7 397.8,354.7 398.2,354.7 398.5,354.6 398.8,354.6 399.1,354.6 399.4,354.6 399.8,354.5 400.1,354.5 400.4,354.5 400.7,354.5 401.0,354.4 401.3,354.4 401.7,354.4 402.0,354.4 402.3,354.3 402.6,354.3 402.9,354.3 403.3,354.3 403.6,354.2 403.9,354.2 404.2,354.2 404.5,354.1 404.8,354.1 405.2,354.1 405.5,354.0 405.8,354.0 406.1,354.0 406.4,353.9 406.8,353.9 407.1,353.9 407.4,353.8 407.7,353.8 408.0,353.8 408.3,353.7 408.7,353.7 409.0,353.7 409.3,353.6 409.6,353.6 409.9,353.5 410.2,353.5 410.6,353.5 410.9,353.4 411.2,353.4 411.5,353.3 411.8,353.3 412.2,353.3 412.5,353.2 412.8,353.2 413.1,353.1 413.4,353.1 413.7,353.0 414.1,353.0 414.4,352.9 414.7,352.9 415.0,352.8 415.3,352.8 415.7,352.7 416.0,352.7 416.3,352.6 416.6,352.5 416.9,352.5 417.2,352.4 417.6,352.4 417.9,352.3 418.2,352.2 418.5,352.2 418.8,352.1 419.2,352.0 419.5,352.0 419.8,351.9 420.1,351.8 420.4,351.8 420.7,351.7 421.1,351.6 421.4,351.5 421.7,351.4 422.0,351.4 422.3,351.3 422.7,351.2 423.0,351.1 423.3,351.0 423.6,350.9 423.9,350.8 424.2,350.8 424.6,350.7 424.9,350.6 425.2,350.5 425.5,350.4 425.8,350.3 426.1,350.1 426.5,350.0 426.8,349.9 427.1,349.8 427.4,349.7 427.7,349.6 428.1,349.5 428.4,349.3 428.7,349.2 429.0,349.1 429.3,348.9 429.6,348.8 430.0,348.7 430.3,348.5 430.6,348.4 430.9,348.2 431.2,348.0 431.6,347.9 431.9,347.7 432.2,347.6 432.5,347.4 432.8,347.2 433.1,347.0 433.5,346.8 433.8,346.6 434.1,346.4 434.4,346.2 434.7,346.0 435.1,345.8 435.4,345.6 435.7,345.4 436.0,345.1 436.3,344.9 436.6,344.7 437.0,344.4 437.3,344.1 437.6,343.9 437.9,343.6 438.2,343.3 438.6,343.0 438.9,342.7 439.2,342.4 439.5,342.1 439.8,341.8 440.1,341.4 440.5,341.1 440.8,340.7 441.1,340.4 441.4,340.0 441.7,339.6 442.0,339.2 442.4,338.8 442.7,338.3 443.0,337.9 443.3,337.4 443.6,337.0 444.0,336.5 444.3,336.0 444.6,335.5 444.9,334.9 445.2,334.4 445.5,333.8 445.9,333.2 446.2,332.6 446.5,332.0 446.8,331.4 447.1,330.7 447.5,330.0 447.8,329.3 448.1,328.6 448.4,327.9 448.7,327.1 449.0,326.3 449.4,325.5 449.7,324.7 450.0,323.8 450.3,322.9 450.6,322.0 451.0,321.1 451.3,320.1 451.6,319.2 451.9,318.2 452.2,317.2 452.5,316.1 452.9,315.1 453.2,314.0 453.5,312.9 453.8,311.8 454.1,310.7 454.4,309.6 454.8,308.4 455.1,307.3 455.4,306.1 455.7,305.0 456.0,303.8 456.4,302.7 456.7,301.6 457.0,300.5 457.3,299.4 457.6,298.3 457.9,297.3 458.3,296.3 458.6,295.4 458.9,294.5 459.2,293.6 459.5,292.8 459.9,292.1 460.2,291.5 460.5,290.9 460.8,290.4 461.1,290.0 461.4,289.7 461.8,289.5 462.1,289.3 462.4,289.3 462.7,289.3 463.0,289.5 463.4,289.7 463.7,290.0 464.0,290.4 464.3,290.9 464.6,291.5 464.9,292.1 465.3,292.8 465.6,293.6 465.9,294.5 466.2,295.4 466.5,296.3 466.9,297.3 467.2,298.3 467.5,299.4 467.8,300.5 468.1,301.6 468.4,302.7 468.8,303.8 469.1,305.0 469.4,306.1 469.7,307.3 470.0,308.4 470.4,309.6 470.7,310.7 471.0,311.8 471.3,312.9 471.6,314.0 471.9,315.1 472.3,316.1 472.6,317.2 472.9,318.2 473.2,319.2 473.5,320.1 473.8,321.1 474.2,322.0 474.5,322.9 474.8,323.8 475.1,324.7 475.4,325.5 475.8,326.3 476.1,327.1 476.4,327.9 476.7,328.6 477.0,329.3 477.3,330.0 477.7,330.7 478.0,331.4 478.3,332.0" fill="none" stroke="#cc657f" stroke-width="0.7" opacity="0.9"/></g>
<rect x="368.0" y="288.6" width="97.8" height="20.5" fill="#c6d4f0" opacity="0.6"/>
<polyline points="351.10,339.22 351.74,337.75 352.37,336.28 353.01,334.82 353.64,333.35 354.28,331.89 354.92,330.42 355.55,328.96 356.19,327.51 356.82,326.07 357.46,324.62 358.10,323.18 358.73,321.74 359.37,320.29 360.00,318.85 360.64,317.40 361.28,315.96 361.91,314.25 362.55,312.54 363.18,310.83 363.82,309.12 364.46,307.41 365.09,305.70 365.73,303.38 366.36,301.07 367.00,298.75 367.64,296.87 368.27,295.13 368.91,293.39 369.54,292.88 370.18,292.36 370.82,291.85 371.45,291.34 372.09,290.82 372.72,290.31 373.36,290.14 374.00,289.97 374.63,289.80 375.27,289.63 375.90,289.46 376.54,289.28 377.18,289.22 377.81,289.15 378.45,289.08 379.08,289.01 379.72,288.94 380.36,288.87 380.99,288.81 381.63,288.74 382.26,288.67 382.90,288.60 383.54,288.60 384.17,288.60 384.81,288.60 385.44,288.60 386.08,288.60 386.72,288.60 387.35,288.60 387.99,288.60 388.62,288.60 389.26,288.60 389.90,288.60 390.53,288.60 391.17,288.60 391.80,288.60 392.44,288.60 393.08,288.60 393.71,288.60 394.35,288.60 394.98,288.60 395.62,288.60 396.26,288.60 396.89,288.60 397.53,288.60 398.16,288.60 398.80,288.60 399.44,288.60 400.07,288.60 400.71,288.60 401.34,288.60 401.98,288.60 402.62,288.60 403.25,288.60 403.89,288.60 404.52,288.60 405.16,288.60 405.80,288.60 406.43,288.60 407.07,288.60 407.70,288.60 408.34,288.60 408.98,288.60 409.61,288.60 410.25,288.60 410.88,288.60 411.52,288.60 412.16,288.60 412.79,288.60 413.43,288.60 414.06,288.60 414.70,288.60 415.34,288.60 415.97,288.60 416.61,288.60 417.24,288.60 417.88,288.60 418.52,288.60 419.15,288.60 419.79,288.60 420.42,288.60 421.06,288.60 421.70,288.60 422.33,288.60 422.97,288.60 423.60,288.60 424.24,288.60 424.88,288.60 425.51,288.60 426.15,288.60 426.78,288.60 427.42,288.60 428.06,288.60 428.69,288.60 429.33,288.60 429.96,288.60 430.60,288.60 431.24,288.60 431.87,288.60 432.51,288.60 433.14,288.60 433.78,288.60 434.42,288.60 435.05,288.60 435.69,288.60 436.32,288.60 436.96,288.60 437.60,288.60 438.23,288.60 438.87,288.60 439.50,288.60 440.14,288.60 440.78,288.60 441.41,288.60 442.05,288.60 442.68,288.60 443.32,288.60 443.96,288.60 444.59,288.60 445.23,288.60 445.86,288.60 446.50,288.60 447.14,288.60 447.77,288.60 448.41,288.60 449.04,288.60 449.68,288.60 450.32,288.60 450.95,288.60 451.59,288.60 452.22,288.60 452.86,288.60 453.50,288.60 454.13,288.60 454.77,288.60 455.40,288.60 456.04,288.60 456.68,288.71 457.31,288.82 457.95,288.93 458.58,289.04 459.22,289.15 459.86,289.26 460.49,289.49 461.13,289.76 461.76,290.04 462.40,290.31 463.04,290.58 463.67,291.06 464.31,291.61 464.94,292.16 465.58,292.70 466.22,293.25 466.85,294.11 467.49,295.06 468.12,296.02 468.76,296.98 469.40,297.94 470.03,299.10 470.67,300.33 471.30,301.56 471.94,302.79 472.58,304.02 473.21,305.15 473.85,306.25 474.48,307.34 475.12,308.44 475.76,309.53 476.39,310.62 477.03,311.72 477.66,312.81 478.30,313.91" fill="none" stroke="#2a4f8f" stroke-width="1.5" stroke-linejoin="round"/>
<line x1="367.954" y1="357.0" x2="367.954" y2="290.65200000000004" stroke="#2a9a3a" stroke-width="0.9" stroke-dasharray="1.3,1.3"/>
<line x1="465.73900000000003" y1="357.0" x2="465.73900000000003" y2="290.65200000000004" stroke="#2a9a3a" stroke-width="0.9" stroke-dasharray="1.3,1.3"/>
<circle cx="351.3" cy="341.3" r="2.2" fill="none" stroke="#5a86c0" stroke-width="0.7"/>
<circle cx="357.0" cy="335.8" r="2.2" fill="none" stroke="#5a86c0" stroke-width="0.7"/>
<circle cx="363.0" cy="324.9" r="2.2" fill="none" stroke="#5a86c0" stroke-width="0.7"/>
<circle cx="386.1" cy="287.5" r="2" fill="none" stroke="#7f97b8" stroke-width="0.65"/>
<circle cx="390.7" cy="288.5" r="2" fill="none" stroke="#7f97b8" stroke-width="0.65"/>
<circle cx="395.3" cy="287.5" r="2" fill="none" stroke="#7f97b8" stroke-width="0.65"/>
<circle cx="399.9" cy="288.5" r="2" fill="none" stroke="#7f97b8" stroke-width="0.65"/>
<circle cx="404.5" cy="287.5" r="2" fill="none" stroke="#7f97b8" stroke-width="0.65"/>
<circle cx="409.1" cy="288.5" r="2" fill="none" stroke="#7f97b8" stroke-width="0.65"/>
<circle cx="413.7" cy="287.5" r="2" fill="none" stroke="#7f97b8" stroke-width="0.65"/>
<circle cx="418.4" cy="288.5" r="2" fill="none" stroke="#7f97b8" stroke-width="0.65"/>
<circle cx="423.0" cy="287.5" r="2" fill="none" stroke="#7f97b8" stroke-width="0.65"/>
<circle cx="427.6" cy="288.5" r="2" fill="none" stroke="#7f97b8" stroke-width="0.65"/>
<circle cx="432.2" cy="287.5" r="2" fill="none" stroke="#7f97b8" stroke-width="0.65"/>
<circle cx="436.8" cy="288.5" r="2" fill="none" stroke="#7f97b8" stroke-width="0.65"/>
<circle cx="441.4" cy="287.5" r="2" fill="none" stroke="#7f97b8" stroke-width="0.65"/>
<circle cx="446.0" cy="288.5" r="2" fill="none" stroke="#7f97b8" stroke-width="0.65"/>
<circle cx="450.6" cy="287.5" r="2" fill="none" stroke="#7f97b8" stroke-width="0.65"/>
<circle cx="455.2" cy="288.5" r="2" fill="none" stroke="#7f97b8" stroke-width="0.65"/>
<circle cx="459.9" cy="287.5" r="2" fill="none" stroke="#7f97b8" stroke-width="0.65"/>
<circle cx="464.5" cy="288.5" r="2" fill="none" stroke="#7f97b8" stroke-width="0.65"/>
<circle cx="469.1" cy="287.5" r="2" fill="none" stroke="#7f97b8" stroke-width="0.65"/>
<circle cx="473.7" cy="292.4" r="2" fill="none" stroke="#7f97b8" stroke-width="0.65"/>
<circle cx="478.3" cy="298.0" r="2" fill="none" stroke="#7f97b8" stroke-width="0.65"/>
<polygon points="371,327 405,333 405,350.5 371,344.5" fill="#cbc0ae"/>
<polygon points="405,333 421.5,322 421.5,339.5 405,350.5" fill="#c2b7a4"/>
<rect x="371.9" y="327.1" width="1.5" height="17.5" fill="#a09482"/>
<rect x="373.4" y="327.1" width="3.6" height="17.5" fill="#ddd5c6"/>
<rect x="380.4" y="328.6" width="1.5" height="17.5" fill="#a09482"/>
<rect x="381.9" y="328.6" width="3.6" height="17.5" fill="#ddd5c6"/>
<rect x="388.9" y="330.1" width="1.5" height="17.5" fill="#a09482"/>
<rect x="390.4" y="330.1" width="3.6" height="17.5" fill="#ddd5c6"/>
<rect x="397.4" y="331.6" width="1.5" height="17.5" fill="#a09482"/>
<rect x="398.9" y="331.6" width="3.6" height="17.5" fill="#ddd5c6"/>
<rect x="405.8" y="332.4" width="1.4" height="17.5" fill="#9c907e"/>
<rect x="407.2" y="332.4" width="3.4" height="17.5" fill="#d4cbba"/>
<rect x="414.1" y="326.9" width="1.4" height="17.5" fill="#9c907e"/>
<rect x="415.5" y="326.9" width="3.4" height="17.5" fill="#d4cbba"/>
<polygon points="371,327 389,315.5 421.5,322 405,333" fill="#e0d7c8"/>
<ellipse cx="377.4" cy="325.7" rx="1.1" ry="0.75" fill="#8a7a66"/>
<ellipse cx="384.2" cy="326.9" rx="1.1" ry="0.75" fill="#8a7a66"/>
<ellipse cx="391.0" cy="328.1" rx="1.1" ry="0.75" fill="#8a7a66"/>
<ellipse cx="397.8" cy="329.3" rx="1.1" ry="0.75" fill="#8a7a66"/>
<ellipse cx="404.6" cy="330.5" rx="1.1" ry="0.75" fill="#8a7a66"/>
<ellipse cx="383.4" cy="321.9" rx="1.1" ry="0.75" fill="#8a7a66"/>
<ellipse cx="390.2" cy="323.1" rx="1.1" ry="0.75" fill="#8a7a66"/>
<ellipse cx="397.0" cy="324.2" rx="1.1" ry="0.75" fill="#8a7a66"/>
<ellipse cx="403.8" cy="325.4" rx="1.1" ry="0.75" fill="#8a7a66"/>
<ellipse cx="410.6" cy="326.6" rx="1.1" ry="0.75" fill="#8a7a66"/>
<ellipse cx="389.4" cy="318.0" rx="1.1" ry="0.75" fill="#8a7a66"/>
<ellipse cx="396.2" cy="319.2" rx="1.1" ry="0.75" fill="#8a7a66"/>
<ellipse cx="403.0" cy="320.4" rx="1.1" ry="0.75" fill="#8a7a66"/>
<ellipse cx="409.8" cy="321.6" rx="1.1" ry="0.75" fill="#8a7a66"/>
<ellipse cx="416.6" cy="322.8" rx="1.1" ry="0.75" fill="#8a7a66"/>
<rect x="351.1" y="288.6" width="127.19999999999999" height="68.39999999999998" fill="none" stroke="#7a7a8a" stroke-width="0.8"/>
<line x1="351.1" y1="357.0" x2="478.3" y2="357.0" stroke="#555" stroke-width="0.8" />
<line x1="351.1" y1="288.6" x2="351.1" y2="357.0" stroke="#555" stroke-width="0.8" />
<line x1="351.1" y1="357.0" x2="353.1" y2="357.0" stroke="#555" stroke-width="0.6" />
<line x1="351.1" y1="322.8" x2="353.1" y2="322.8" stroke="#555" stroke-width="0.6" />
<line x1="351.1" y1="288.6" x2="353.1" y2="288.6" stroke="#555" stroke-width="0.6" />
<line x1="351.1" y1="357.0" x2="351.1" y2="355.0" stroke="#555" stroke-width="0.6" />
<line x1="382.90000000000003" y1="357.0" x2="382.90000000000003" y2="355.0" stroke="#555" stroke-width="0.6" />
<line x1="414.70000000000005" y1="357.0" x2="414.70000000000005" y2="355.0" stroke="#555" stroke-width="0.6" />
<line x1="446.5" y1="357.0" x2="446.5" y2="355.0" stroke="#555" stroke-width="0.6" />
<line x1="478.3" y1="357.0" x2="478.3" y2="355.0" stroke="#555" stroke-width="0.6" />
<text x="353.6" y="299.4" font-size="9.5" fill="#222" font-family="'Liberation Serif','Noto Serif CJK SC',serif">(a)</text>
<text x="368.8" y="297" font-size="8.4" fill="#c42a3a" stroke="#c42a3a" stroke-width="0.15" font-family="'Liberation Serif','Noto Serif CJK SC',serif" font-style="italic" textLength="93.7" lengthAdjust="spacingAndGlyphs">Quasi-Perfect Absorption Band</text>
<line x1="370" y1="301" x2="461.5" y2="301" stroke="#e02a30" stroke-width="1.3" />
<polygon points="367.30,301.00 371.50,299.00 371.50,303.00" fill="#e02a30" stroke="none" stroke-width="0" />
<polygon points="464.00,301.00 459.80,299.00 459.80,303.00" fill="#e02a30" stroke="none" stroke-width="0" />
<text x="380.5" y="310.3" font-size="8.2" fill="#b03a3a" stroke="#b03a3a" stroke-width="0.12" font-family="'Liberation Serif','Noto Serif CJK SC',serif" textLength="69" lengthAdjust="spacingAndGlyphs">[306Hz, 921Hz] <tspan font-style="italic">α</tspan> &gt; 0.9</text>
<text x="348.8" y="292.20000000000005" font-size="10.5" fill="#222" text-anchor="end" font-family="'Liberation Serif','Noto Serif CJK SC',serif" >1.0</text>
<text x="348.8" y="326.40000000000003" font-size="10.5" fill="#222" text-anchor="end" font-family="'Liberation Serif','Noto Serif CJK SC',serif" >0.5</text>
<text x="348.8" y="360.6" font-size="10.5" fill="#222" text-anchor="end" font-family="'Liberation Serif','Noto Serif CJK SC',serif" >0.0</text>
<text x="348.9" y="372" font-size="10.5" fill="#222" text-anchor="middle" font-family="'Liberation Serif','Noto Serif CJK SC',serif" >200</text>
<text x="380.79999999999995" y="372" font-size="10.5" fill="#222" text-anchor="middle" font-family="'Liberation Serif','Noto Serif CJK SC',serif" >400</text>
<text x="412.7" y="372" font-size="10.5" fill="#222" text-anchor="middle" font-family="'Liberation Serif','Noto Serif CJK SC',serif" >600</text>
<text x="444.59999999999997" y="372" font-size="10.5" fill="#222" text-anchor="middle" font-family="'Liberation Serif','Noto Serif CJK SC',serif" >800</text>
<text x="476.5" y="372" font-size="10.5" fill="#222" text-anchor="middle" font-family="'Liberation Serif','Noto Serif CJK SC',serif" >1000</text>
<text x="396" y="380.8" font-size="10.5" fill="#222" font-family="'Liberation Serif','Noto Serif CJK SC',serif"><tspan font-style="italic">f</tspan><tspan font-size="6.8" dy="2.6">rc</tspan><tspan dy="-2.6"> (Hz)</tspan></text>
<text transform="translate(330,323) rotate(-90)" font-size="10.5" fill="#222" text-anchor="middle" font-family="'Liberation Serif','Noto Serif CJK SC',serif"><tspan font-style="italic">α</tspan> (100%)</text></svg>
</body></html>
